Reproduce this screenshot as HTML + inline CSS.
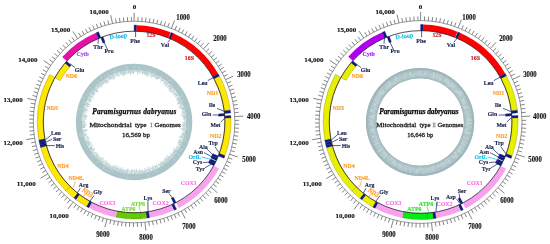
<!DOCTYPE html>
<html><head><meta charset="utf-8"><title>Mitochondrial genome maps</title>
<style>
html,body{margin:0;padding:0;background:#fff;width:550px;height:244px;overflow:hidden}
svg{display:block}
text{font-family:'Liberation Serif','Times New Roman',serif}
</style></head><body>
<svg width="550" height="244" viewBox="0 0 550 244">
<rect width="550" height="244" fill="#ffffff"/>
<path d="M75.90,122.0a58.2,58.2 0 1 0 116.40,0a58.2,58.2 0 1 0 -116.40,0ZM82.10,122.0a52.0,52.0 0 1 1 104.00,0a52.0,52.0 0 1 1 -104.00,0Z" fill="#aac4c8"/>
<path d="M134.10,69.95A52.05,52.05 0 0 1 134.57,69.95L134.54,72.73A49.27,49.27 0 0 0 134.10,72.73ZM134.73,69.95A52.05,52.05 0 0 1 135.19,69.96L135.15,71.89A50.12,50.12 0 0 0 134.71,71.89ZM135.36,69.97A52.05,52.05 0 0 1 135.82,69.98L135.78,71.25A50.78,50.78 0 0 0 135.33,71.24ZM135.99,69.98A52.05,52.05 0 0 1 136.45,70.00L136.38,71.56A50.49,50.49 0 0 0 135.93,71.55ZM136.61,70.01A52.05,52.05 0 0 1 137.08,70.04L136.98,71.82A50.26,50.26 0 0 0 136.53,71.80ZM137.24,70.04A52.05,52.05 0 0 1 137.71,70.08L137.41,74.32A47.80,47.80 0 0 0 136.99,74.29ZM137.87,70.09A52.05,52.05 0 0 1 138.33,70.12L137.96,74.69A47.46,47.46 0 0 0 137.54,74.66ZM138.50,70.14A52.05,52.05 0 0 1 138.96,70.18L138.75,72.40A49.81,49.81 0 0 0 138.31,72.36ZM139.12,70.19A52.05,52.05 0 0 1 139.59,70.24L139.35,72.46A49.82,49.82 0 0 0 138.91,72.41ZM139.75,70.26A52.05,52.05 0 0 1 140.21,70.31L139.82,73.65A48.69,48.69 0 0 0 139.38,73.60ZM140.37,70.33A52.05,52.05 0 0 1 140.84,70.39L140.39,73.80A48.61,48.61 0 0 0 139.96,73.74ZM141.62,70.50A52.05,52.05 0 0 1 142.08,70.57L141.65,73.35A49.24,49.24 0 0 0 141.21,73.28ZM142.24,70.59A52.05,52.05 0 0 1 142.70,70.67L142.22,73.52A49.16,49.16 0 0 0 141.79,73.45ZM142.86,70.69A52.05,52.05 0 0 1 143.32,70.77L142.67,74.38A48.39,48.39 0 0 0 142.25,74.30ZM143.48,70.80A52.05,52.05 0 0 1 143.94,70.89L143.36,73.90A48.99,48.99 0 0 0 142.93,73.82ZM144.10,70.92A52.05,52.05 0 0 1 144.56,71.01L144.00,73.72A49.28,49.28 0 0 0 143.57,73.64ZM144.72,71.04A52.05,52.05 0 0 1 145.17,71.14L144.44,74.51A48.60,48.60 0 0 0 144.01,74.42ZM145.33,71.18A52.05,52.05 0 0 1 145.79,71.28L144.93,74.97A48.26,48.26 0 0 0 144.51,74.88ZM145.94,71.32A52.05,52.05 0 0 1 146.40,71.42L145.37,75.66A47.69,47.69 0 0 0 144.95,75.57ZM146.56,71.46A52.05,52.05 0 0 1 147.01,71.58L146.25,74.54A48.99,48.99 0 0 0 145.82,74.43ZM147.17,71.62A52.05,52.05 0 0 1 147.62,71.74L146.59,75.54A48.11,48.11 0 0 0 146.18,75.43ZM147.77,71.78A52.05,52.05 0 0 1 148.22,71.90L146.82,76.88A46.87,46.87 0 0 0 146.41,76.77ZM148.38,71.95A52.05,52.05 0 0 1 148.83,72.08L148.08,74.59A49.43,49.43 0 0 0 147.66,74.47ZM148.98,72.12A52.05,52.05 0 0 1 149.43,72.26L147.82,77.47A46.59,46.59 0 0 0 147.42,77.35ZM149.59,72.31A52.05,52.05 0 0 1 150.03,72.45L148.93,75.86A48.46,48.46 0 0 0 148.52,75.73ZM150.78,72.70A52.05,52.05 0 0 1 151.22,72.85L150.25,75.62A49.11,49.11 0 0 0 149.84,75.48ZM151.38,72.90A52.05,52.05 0 0 1 151.81,73.06L150.91,75.54A49.40,49.40 0 0 0 150.50,75.40ZM151.97,73.11A52.05,52.05 0 0 1 152.40,73.27L150.77,77.63A47.39,47.39 0 0 0 150.37,77.49ZM152.56,73.33A52.05,52.05 0 0 1 152.99,73.50L151.78,76.62A48.70,48.70 0 0 0 151.37,76.46ZM153.14,73.56A52.05,52.05 0 0 1 153.58,73.73L151.81,78.12A47.32,47.32 0 0 0 151.41,77.96ZM153.73,73.79A52.05,52.05 0 0 1 154.16,73.97L153.00,76.74A49.05,49.05 0 0 0 152.60,76.57ZM154.31,74.03A52.05,52.05 0 0 1 154.74,74.22L153.62,76.79A49.24,49.24 0 0 0 153.22,76.62ZM154.89,74.28A52.05,52.05 0 0 1 155.31,74.47L154.18,77.00A49.28,49.28 0 0 0 153.78,76.82ZM155.46,74.54A52.05,52.05 0 0 1 155.89,74.73L154.69,77.32A49.20,49.20 0 0 0 154.29,77.14ZM156.03,74.80A52.05,52.05 0 0 1 156.46,75.00L155.23,77.56A49.20,49.20 0 0 0 154.83,77.38ZM156.60,75.07A52.05,52.05 0 0 1 157.02,75.27L155.29,78.80A48.11,48.11 0 0 0 154.90,78.62ZM157.17,75.34A52.05,52.05 0 0 1 157.58,75.55L155.80,79.08A48.09,48.09 0 0 0 155.42,78.89ZM157.73,75.62A52.05,52.05 0 0 1 158.14,75.84L156.26,79.46A47.96,47.96 0 0 0 155.87,79.27ZM158.29,75.91A52.05,52.05 0 0 1 158.70,76.13L157.20,78.93A48.87,48.87 0 0 0 156.81,78.73ZM158.84,76.21A52.05,52.05 0 0 1 159.25,76.43L157.38,79.82A48.18,48.18 0 0 0 157.00,79.61ZM159.40,76.51A52.05,52.05 0 0 1 159.80,76.74L158.58,78.89A49.58,49.58 0 0 0 158.19,78.67ZM159.94,76.82A52.05,52.05 0 0 1 160.35,77.05L159.30,78.85A49.97,49.97 0 0 0 158.91,78.62ZM160.49,77.13A52.05,52.05 0 0 1 160.89,77.37L159.88,79.04A50.10,50.10 0 0 0 159.50,78.82ZM161.56,77.79A52.05,52.05 0 0 1 161.96,78.03L160.65,80.10A49.60,49.60 0 0 0 160.27,79.86ZM162.10,78.12A52.05,52.05 0 0 1 162.49,78.37L160.94,80.76A49.21,49.21 0 0 0 160.57,80.52ZM162.62,78.46A52.05,52.05 0 0 1 163.01,78.72L160.35,82.70A47.26,47.26 0 0 0 160.00,82.47ZM163.15,78.81A52.05,52.05 0 0 1 163.53,79.07L162.29,80.88A49.86,49.86 0 0 0 161.93,80.63ZM163.67,79.16A52.05,52.05 0 0 1 164.05,79.43L162.68,81.38A49.66,49.66 0 0 0 162.31,81.13ZM164.18,79.52A52.05,52.05 0 0 1 164.56,79.79L163.23,81.65A49.77,49.77 0 0 0 162.86,81.39ZM164.69,79.89A52.05,52.05 0 0 1 165.07,80.17L163.41,82.41A49.26,49.26 0 0 0 163.06,82.14ZM165.70,80.64A52.05,52.05 0 0 1 166.07,80.93L163.06,84.79A47.15,47.15 0 0 0 162.73,84.53ZM166.20,81.03A52.05,52.05 0 0 1 166.57,81.32L164.44,83.98A48.64,48.64 0 0 0 164.10,83.71ZM166.69,81.42A52.05,52.05 0 0 1 167.05,81.71L164.75,84.53A48.40,48.40 0 0 0 164.41,84.26ZM167.18,81.81A52.05,52.05 0 0 1 167.54,82.11L165.61,84.42A49.04,49.04 0 0 0 165.27,84.14ZM167.66,82.22A52.05,52.05 0 0 1 168.02,82.52L164.71,86.37A46.98,46.98 0 0 0 164.39,86.09ZM168.14,82.63A52.05,52.05 0 0 1 168.49,82.93L165.32,86.53A47.26,47.26 0 0 0 165.01,86.25ZM168.62,83.04A52.05,52.05 0 0 1 168.96,83.35L166.70,85.85A48.68,48.68 0 0 0 166.38,85.56ZM169.55,83.89A52.05,52.05 0 0 1 169.89,84.20L167.16,87.09A48.08,48.08 0 0 0 166.84,86.79ZM170.00,84.32A52.05,52.05 0 0 1 170.34,84.64L166.74,88.35A46.87,46.87 0 0 0 166.43,88.06ZM170.46,84.75A52.05,52.05 0 0 1 170.79,85.08L168.26,87.62A48.47,48.47 0 0 0 167.96,87.32ZM170.90,85.20A52.05,52.05 0 0 1 171.23,85.53L169.13,87.59A49.10,49.10 0 0 0 168.82,87.28ZM171.35,85.64A52.05,52.05 0 0 1 171.67,85.98L168.15,89.35A47.17,47.17 0 0 0 167.86,89.05ZM171.78,86.10A52.05,52.05 0 0 1 172.10,86.43L169.02,89.32A47.82,47.82 0 0 0 168.72,89.01ZM172.21,86.55A52.05,52.05 0 0 1 172.53,86.90L169.28,89.87A47.65,47.65 0 0 0 168.99,89.55ZM172.64,87.02A52.05,52.05 0 0 1 172.95,87.36L169.30,90.62A47.15,47.15 0 0 0 169.01,90.31ZM173.06,87.48A52.05,52.05 0 0 1 173.37,87.83L169.65,91.07A47.12,47.12 0 0 0 169.37,90.75ZM173.47,87.96A52.05,52.05 0 0 1 173.78,88.31L169.64,91.83A46.62,46.62 0 0 0 169.36,91.51ZM173.88,88.44A52.05,52.05 0 0 1 174.18,88.79L170.15,92.13A46.81,46.81 0 0 0 169.88,91.81ZM174.29,88.92A52.05,52.05 0 0 1 174.58,89.28L172.31,91.11A49.14,49.14 0 0 0 172.04,90.77ZM174.68,89.41A52.05,52.05 0 0 1 174.97,89.77L171.38,92.61A47.47,47.47 0 0 0 171.11,92.27ZM175.07,89.90A52.05,52.05 0 0 1 175.36,90.27L171.37,93.33A47.02,47.02 0 0 0 171.12,93.00ZM175.46,90.40A52.05,52.05 0 0 1 175.74,90.77L172.81,92.96A48.39,48.39 0 0 0 172.55,92.62ZM176.21,91.41A52.05,52.05 0 0 1 176.48,91.78L173.44,93.95A48.32,48.32 0 0 0 173.19,93.60ZM176.58,91.92A52.05,52.05 0 0 1 176.84,92.30L172.61,95.24A46.90,46.90 0 0 0 172.37,94.89ZM176.94,92.43A52.05,52.05 0 0 1 177.20,92.82L174.40,94.71A48.66,48.66 0 0 0 174.15,94.36ZM177.29,92.95A52.05,52.05 0 0 1 177.55,93.34L174.13,95.59A47.95,47.95 0 0 0 173.89,95.24ZM177.64,93.48A52.05,52.05 0 0 1 177.89,93.87L175.58,95.35A49.31,49.31 0 0 0 175.34,94.98ZM177.98,94.00A52.05,52.05 0 0 1 178.23,94.40L175.04,96.39A48.29,48.29 0 0 0 174.81,96.03ZM178.31,94.54A52.05,52.05 0 0 1 178.56,94.93L175.44,96.83A48.40,48.40 0 0 0 175.21,96.46ZM178.64,95.07A52.05,52.05 0 0 1 178.88,95.47L175.29,97.60A47.88,47.88 0 0 0 175.07,97.23ZM179.28,96.16A52.05,52.05 0 0 1 179.51,96.56L177.05,97.94A49.23,49.23 0 0 0 176.83,97.56ZM179.59,96.70A52.05,52.05 0 0 1 179.81,97.11L176.36,98.99A48.12,48.12 0 0 0 176.15,98.61ZM179.89,97.26A52.05,52.05 0 0 1 180.11,97.67L176.94,99.34A48.46,48.46 0 0 0 176.74,98.96ZM180.19,97.81A52.05,52.05 0 0 1 180.40,98.22L176.03,100.47A47.13,47.13 0 0 0 175.84,100.10ZM180.48,98.37A52.05,52.05 0 0 1 180.69,98.79L177.99,100.13A49.04,49.04 0 0 0 177.79,99.74ZM180.76,98.93A52.05,52.05 0 0 1 180.96,99.35L177.77,100.89A48.50,48.50 0 0 0 177.58,100.51ZM181.03,99.50A52.05,52.05 0 0 1 181.23,99.92L176.72,102.03A47.07,47.07 0 0 0 176.54,101.65ZM181.30,100.07A52.05,52.05 0 0 1 181.50,100.49L178.25,101.96A48.48,48.48 0 0 0 178.07,101.57ZM181.56,100.64A52.05,52.05 0 0 1 181.75,101.06L178.61,102.44A48.62,48.62 0 0 0 178.43,102.05ZM181.82,101.21A52.05,52.05 0 0 1 182.00,101.64L177.30,103.64A46.94,46.94 0 0 0 177.13,103.25ZM182.07,101.79A52.05,52.05 0 0 1 182.25,102.22L177.40,104.21A46.81,46.81 0 0 0 177.24,103.82ZM182.31,102.37A52.05,52.05 0 0 1 182.48,102.80L177.76,104.68A46.98,46.98 0 0 0 177.61,104.29ZM182.54,102.96A52.05,52.05 0 0 1 182.71,103.39L180.04,104.41A49.19,49.19 0 0 0 179.88,104.00ZM182.77,103.54A52.05,52.05 0 0 1 182.93,103.98L180.09,105.03A49.03,49.03 0 0 0 179.94,104.62ZM182.99,104.13A52.05,52.05 0 0 1 183.14,104.57L179.04,106.03A47.69,47.69 0 0 0 178.89,105.63ZM183.20,104.72A52.05,52.05 0 0 1 183.35,105.16L179.19,106.59A47.65,47.65 0 0 0 179.05,106.18ZM183.40,105.32A52.05,52.05 0 0 1 183.55,105.76L178.73,107.34A46.98,46.98 0 0 0 178.60,106.94ZM183.60,105.92A52.05,52.05 0 0 1 183.74,106.36L178.42,108.04A46.47,46.47 0 0 0 178.29,107.64ZM183.79,106.51A52.05,52.05 0 0 1 183.93,106.96L178.59,108.57A46.47,46.47 0 0 0 178.46,108.18ZM183.98,107.12A52.05,52.05 0 0 1 184.11,107.56L180.43,108.63A48.22,48.22 0 0 0 180.31,108.21ZM184.15,107.72A52.05,52.05 0 0 1 184.28,108.17L181.21,109.01A48.87,48.87 0 0 0 181.10,108.59ZM184.32,108.33A52.05,52.05 0 0 1 184.44,108.78L181.80,109.47A49.32,49.32 0 0 0 181.69,109.04ZM184.48,108.93A52.05,52.05 0 0 1 184.60,109.38L181.95,110.05A49.32,49.32 0 0 0 181.85,109.62ZM184.64,109.54A52.05,52.05 0 0 1 184.75,110.00L181.17,110.84A48.37,48.37 0 0 0 181.07,110.42ZM184.78,110.16A52.05,52.05 0 0 1 184.89,110.61L180.67,111.55A47.73,47.73 0 0 0 180.58,111.14ZM184.92,110.77A52.05,52.05 0 0 1 185.02,111.22L182.01,111.86A48.97,48.97 0 0 0 181.92,111.43ZM185.06,111.38A52.05,52.05 0 0 1 185.15,111.84L182.40,112.39A49.25,49.25 0 0 0 182.32,111.95ZM185.18,112.00A52.05,52.05 0 0 1 185.27,112.46L180.72,113.31A47.42,47.42 0 0 0 180.64,112.89ZM185.30,112.62A52.05,52.05 0 0 1 185.38,113.08L182.79,113.53A49.42,49.42 0 0 0 182.71,113.09ZM185.41,113.24A52.05,52.05 0 0 1 185.48,113.70L181.13,114.40A47.64,47.64 0 0 0 181.06,113.98ZM185.60,114.48A52.05,52.05 0 0 1 185.67,114.94L183.05,115.30A49.41,49.41 0 0 0 182.99,114.86ZM185.69,115.10A52.05,52.05 0 0 1 185.75,115.56L180.91,116.17A47.17,47.17 0 0 0 180.85,115.75ZM185.77,115.73A52.05,52.05 0 0 1 185.82,116.19L183.26,116.48A49.46,49.46 0 0 0 183.20,116.04ZM185.84,116.35A52.05,52.05 0 0 1 185.89,116.81L182.55,117.15A48.69,48.69 0 0 0 182.50,116.72ZM185.91,116.98A52.05,52.05 0 0 1 185.95,117.44L182.78,117.72A48.87,48.87 0 0 0 182.74,117.28ZM185.96,117.60A52.05,52.05 0 0 1 186.00,118.07L183.16,118.28A49.20,49.20 0 0 0 183.12,117.84ZM186.01,118.23A52.05,52.05 0 0 1 186.04,118.69L183.75,118.84A49.75,49.75 0 0 0 183.72,118.40ZM186.06,118.86A52.05,52.05 0 0 1 186.08,119.32L183.42,119.46A49.38,49.38 0 0 0 183.39,119.02ZM186.09,119.49A52.05,52.05 0 0 1 186.11,119.95L182.68,120.09A48.61,48.61 0 0 0 182.66,119.65ZM186.12,120.11A52.05,52.05 0 0 1 186.13,120.58L183.90,120.64A49.82,49.82 0 0 0 183.89,120.19ZM186.15,121.37A52.05,52.05 0 0 1 186.15,121.84L183.52,121.84A49.42,49.42 0 0 0 183.52,121.40ZM186.15,122.00A52.05,52.05 0 0 1 186.15,122.47L183.65,122.44A49.55,49.55 0 0 0 183.65,122.00ZM186.15,122.63A52.05,52.05 0 0 1 186.14,123.09L182.49,123.02A48.40,48.40 0 0 0 182.49,122.58ZM186.13,123.26A52.05,52.05 0 0 1 186.12,123.72L182.25,123.59A48.17,48.17 0 0 0 182.26,123.16ZM186.12,123.89A52.05,52.05 0 0 1 186.10,124.35L182.62,124.19A48.57,48.57 0 0 0 182.63,123.76ZM186.09,124.51A52.05,52.05 0 0 1 186.06,124.98L181.59,124.72A47.57,47.57 0 0 0 181.61,124.30ZM186.06,125.14A52.05,52.05 0 0 1 186.02,125.61L183.13,125.41A49.15,49.15 0 0 0 183.16,124.97ZM186.01,125.77A52.05,52.05 0 0 1 185.98,126.23L181.58,125.88A47.64,47.64 0 0 0 181.62,125.45ZM185.96,126.40A52.05,52.05 0 0 1 185.92,126.86L183.43,126.63A49.54,49.54 0 0 0 183.47,126.19ZM185.91,127.02A52.05,52.05 0 0 1 185.86,127.49L181.63,127.04A47.80,47.80 0 0 0 181.68,126.61ZM185.84,127.65A52.05,52.05 0 0 1 185.79,128.11L182.81,127.76A49.05,49.05 0 0 0 182.86,127.32ZM185.77,128.27A52.05,52.05 0 0 1 185.71,128.74L182.35,128.30A48.66,48.66 0 0 0 182.41,127.87ZM185.69,128.90A52.05,52.05 0 0 1 185.63,129.36L180.63,128.65A47.00,47.00 0 0 0 180.69,128.23ZM185.60,129.52A52.05,52.05 0 0 1 185.53,129.98L180.51,129.20A46.96,46.96 0 0 0 180.57,128.79ZM185.51,130.14A52.05,52.05 0 0 1 185.43,130.60L183.13,130.22A49.72,49.72 0 0 0 183.20,129.78ZM185.41,130.76A52.05,52.05 0 0 1 185.33,131.22L182.00,130.62A48.67,48.67 0 0 0 182.08,130.19ZM185.30,131.38A52.05,52.05 0 0 1 185.21,131.84L183.07,131.43A49.87,49.87 0 0 0 183.16,130.99ZM185.18,132.00A52.05,52.05 0 0 1 185.09,132.46L182.26,131.88A49.17,49.17 0 0 0 182.35,131.45ZM184.92,133.23A52.05,52.05 0 0 1 184.82,133.69L181.65,132.96A48.80,48.80 0 0 0 181.75,132.53ZM184.78,133.84A52.05,52.05 0 0 1 184.68,134.30L181.15,133.44A48.42,48.42 0 0 0 181.25,133.02ZM184.64,134.46A52.05,52.05 0 0 1 184.52,134.91L181.57,134.15A49.01,49.01 0 0 0 181.68,133.73ZM184.48,135.07A52.05,52.05 0 0 1 184.36,135.52L182.01,134.88A49.61,49.61 0 0 0 182.12,134.45ZM184.32,135.67A52.05,52.05 0 0 1 184.20,136.12L181.82,135.45A49.58,49.58 0 0 0 181.93,135.02ZM184.15,136.28A52.05,52.05 0 0 1 184.02,136.73L180.07,135.56A47.93,47.93 0 0 0 180.19,135.15ZM183.98,136.88A52.05,52.05 0 0 1 183.84,137.33L181.02,136.46A49.09,49.09 0 0 0 181.14,136.04ZM183.79,137.49A52.05,52.05 0 0 1 183.65,137.93L178.97,136.42A47.13,47.13 0 0 0 179.09,136.02ZM183.60,138.08A52.05,52.05 0 0 1 183.46,138.53L179.46,137.19A47.84,47.84 0 0 0 179.60,136.78ZM183.40,138.68A52.05,52.05 0 0 1 183.25,139.12L178.78,137.56A47.31,47.31 0 0 0 178.92,137.16ZM182.99,139.87A52.05,52.05 0 0 1 182.83,140.30L180.35,139.37A49.40,49.40 0 0 0 180.50,138.96ZM182.77,140.46A52.05,52.05 0 0 1 182.60,140.89L178.70,139.37A47.86,47.86 0 0 0 178.85,138.97ZM182.54,141.04A52.05,52.05 0 0 1 182.37,141.48L178.84,140.05A48.25,48.25 0 0 0 179.00,139.65ZM182.31,141.63A52.05,52.05 0 0 1 182.13,142.06L178.17,140.40A47.76,47.76 0 0 0 178.33,140.01ZM182.07,142.21A52.05,52.05 0 0 1 181.88,142.64L178.20,141.04A48.03,48.03 0 0 0 178.36,140.65ZM181.82,142.79A52.05,52.05 0 0 1 181.63,143.21L179.24,142.14A49.43,49.43 0 0 0 179.42,141.74ZM181.56,143.36A52.05,52.05 0 0 1 181.37,143.79L177.90,142.18A48.22,48.22 0 0 0 178.08,141.79ZM181.30,143.93A52.05,52.05 0 0 1 181.10,144.36L176.90,142.35A47.39,47.39 0 0 0 177.08,141.97ZM181.03,144.50A52.05,52.05 0 0 1 180.83,144.92L178.08,143.57A48.98,48.98 0 0 0 178.27,143.18ZM180.76,145.07A52.05,52.05 0 0 1 180.55,145.48L177.25,143.82A48.35,48.35 0 0 0 177.44,143.43ZM180.48,145.63A52.05,52.05 0 0 1 180.26,146.04L177.95,144.84A49.44,49.44 0 0 0 178.15,144.45ZM180.19,146.19A52.05,52.05 0 0 1 179.97,146.60L177.48,145.26A49.23,49.23 0 0 0 177.69,144.88ZM179.59,147.30A52.05,52.05 0 0 1 179.36,147.70L176.09,145.84A48.29,48.29 0 0 0 176.30,145.47ZM179.28,147.84A52.05,52.05 0 0 1 179.05,148.25L176.59,146.81A49.20,49.20 0 0 0 176.81,146.43ZM178.97,148.39A52.05,52.05 0 0 1 178.73,148.79L175.84,147.06A48.69,48.69 0 0 0 176.07,146.68ZM178.64,148.93A52.05,52.05 0 0 1 178.40,149.32L176.28,148.02A49.56,49.56 0 0 0 176.51,147.64ZM178.31,149.46A52.05,52.05 0 0 1 178.07,149.86L175.90,148.48A49.48,49.48 0 0 0 176.13,148.11ZM177.98,150.00A52.05,52.05 0 0 1 177.73,150.39L173.36,147.55A46.84,46.84 0 0 0 173.59,147.20ZM177.64,150.52A52.05,52.05 0 0 1 177.38,150.91L175.04,149.35A49.23,49.23 0 0 0 175.28,148.98ZM177.29,151.05A52.05,52.05 0 0 1 177.03,151.43L173.65,149.12A47.96,47.96 0 0 0 173.89,148.76ZM176.94,151.57A52.05,52.05 0 0 1 176.67,151.95L172.47,148.99A46.91,46.91 0 0 0 172.71,148.65ZM176.58,152.08A52.05,52.05 0 0 1 176.31,152.46L173.55,150.48A48.66,48.66 0 0 0 173.81,150.12ZM176.21,152.59A52.05,52.05 0 0 1 175.93,152.97L173.57,151.22A49.10,49.10 0 0 0 173.82,150.86ZM175.84,153.10A52.05,52.05 0 0 1 175.56,153.47L173.30,151.76A49.22,49.22 0 0 0 173.56,151.41ZM175.46,153.60A52.05,52.05 0 0 1 175.17,153.97L172.50,151.89A48.67,48.67 0 0 0 172.77,151.55ZM175.07,154.10A52.05,52.05 0 0 1 174.78,154.47L172.44,152.60A49.06,49.06 0 0 0 172.72,152.25ZM174.68,154.59A52.05,52.05 0 0 1 174.39,154.95L172.62,153.50A49.76,49.76 0 0 0 172.90,153.16ZM174.29,155.08A52.05,52.05 0 0 1 173.99,155.44L171.97,153.74A49.41,49.41 0 0 0 172.25,153.40ZM173.88,155.56A52.05,52.05 0 0 1 173.58,155.92L169.65,152.54A46.87,46.87 0 0 0 169.92,152.22ZM173.47,156.04A52.05,52.05 0 0 1 173.17,156.39L170.65,154.18A48.70,48.70 0 0 0 170.94,153.85ZM173.06,156.52A52.05,52.05 0 0 1 172.75,156.86L170.11,154.48A48.50,48.50 0 0 0 170.40,154.16ZM172.64,156.98A52.05,52.05 0 0 1 172.33,157.33L170.26,155.42A49.24,49.24 0 0 0 170.56,155.09ZM172.21,157.45A52.05,52.05 0 0 1 171.90,157.79L169.74,155.74A49.08,49.08 0 0 0 170.04,155.42ZM171.78,157.90A52.05,52.05 0 0 1 171.46,158.24L169.16,156.01A48.85,48.85 0 0 0 169.47,155.70ZM171.35,158.36A52.05,52.05 0 0 1 171.02,158.69L168.59,156.27A48.62,48.62 0 0 0 168.89,155.96ZM170.90,158.80A52.05,52.05 0 0 1 170.57,159.13L167.03,155.52A46.99,46.99 0 0 0 167.33,155.23ZM170.46,159.25A52.05,52.05 0 0 1 170.12,159.57L166.29,155.58A46.52,46.52 0 0 0 166.59,155.29ZM170.00,159.68A52.05,52.05 0 0 1 169.67,160.00L167.65,157.85A49.10,49.10 0 0 0 167.97,157.55ZM169.55,160.11A52.05,52.05 0 0 1 169.20,160.43L165.93,156.84A47.19,47.19 0 0 0 166.24,156.56ZM169.08,160.54A52.05,52.05 0 0 1 168.74,160.85L166.73,158.60A49.03,49.03 0 0 0 167.05,158.31ZM168.62,160.96A52.05,52.05 0 0 1 168.27,161.27L165.56,158.15A47.92,47.92 0 0 0 165.88,157.87ZM168.14,161.37A52.05,52.05 0 0 1 167.79,161.68L164.70,158.04A47.28,47.28 0 0 0 165.02,157.77ZM167.66,161.78A52.05,52.05 0 0 1 167.31,162.08L164.31,158.47A47.35,47.35 0 0 0 164.64,158.19ZM167.18,162.19A52.05,52.05 0 0 1 166.82,162.48L164.52,159.63A48.38,48.38 0 0 0 164.85,159.35ZM166.69,162.58A52.05,52.05 0 0 1 166.33,162.87L164.51,160.56A49.10,49.10 0 0 0 164.85,160.29ZM166.20,162.97A52.05,52.05 0 0 1 165.83,163.26L163.88,160.72A48.85,48.85 0 0 0 164.23,160.46ZM165.70,163.36A52.05,52.05 0 0 1 165.33,163.64L162.96,160.47A48.09,48.09 0 0 0 163.30,160.21ZM165.20,163.74A52.05,52.05 0 0 1 164.83,164.01L163.16,161.73A49.22,49.22 0 0 0 163.51,161.47ZM164.69,164.11A52.05,52.05 0 0 1 164.32,164.38L162.59,161.96A49.07,49.07 0 0 0 162.95,161.70ZM164.18,164.48A52.05,52.05 0 0 1 163.80,164.74L161.06,160.79A47.24,47.24 0 0 0 161.40,160.55ZM163.67,164.84A52.05,52.05 0 0 1 163.28,165.10L161.36,162.26A48.62,48.62 0 0 0 161.72,162.01ZM163.15,165.19A52.05,52.05 0 0 1 162.76,165.45L160.98,162.75A48.82,48.82 0 0 0 161.35,162.51ZM162.62,165.54A52.05,52.05 0 0 1 162.23,165.79L159.52,161.57A47.04,47.04 0 0 0 159.88,161.34ZM162.10,165.88A52.05,52.05 0 0 1 161.70,166.13L159.78,163.06A48.43,48.43 0 0 0 160.15,162.83ZM161.56,166.21A52.05,52.05 0 0 1 161.17,166.46L159.66,163.98A49.15,49.15 0 0 0 160.03,163.75ZM161.03,166.54A52.05,52.05 0 0 1 160.63,166.78L158.98,164.01A48.82,48.82 0 0 0 159.36,163.78ZM160.49,166.87A52.05,52.05 0 0 1 160.09,167.10L157.61,162.81A47.10,47.10 0 0 0 157.98,162.59ZM159.40,167.49A52.05,52.05 0 0 1 158.99,167.71L157.32,164.65A48.56,48.56 0 0 0 157.70,164.44ZM158.29,168.09A52.05,52.05 0 0 1 157.88,168.30L155.76,164.18A47.41,47.41 0 0 0 156.13,163.98ZM157.73,168.38A52.05,52.05 0 0 1 157.31,168.59L155.92,165.79A48.93,48.93 0 0 0 156.31,165.60ZM157.17,168.66A52.05,52.05 0 0 1 156.75,168.86L155.19,165.64A48.47,48.47 0 0 0 155.58,165.45ZM156.60,168.93A52.05,52.05 0 0 1 156.18,169.13L154.33,165.19A47.70,47.70 0 0 0 154.72,165.01ZM156.03,169.20A52.05,52.05 0 0 1 155.61,169.40L154.12,166.12A48.45,48.45 0 0 0 154.52,165.94ZM154.89,169.72A52.05,52.05 0 0 1 154.46,169.90L152.38,165.02A46.74,46.74 0 0 0 152.77,164.85ZM154.31,169.97A52.05,52.05 0 0 1 153.88,170.15L152.74,167.36A49.04,49.04 0 0 0 153.14,167.19ZM153.73,170.21A52.05,52.05 0 0 1 153.30,170.38L151.70,166.35A47.71,47.71 0 0 0 152.09,166.19ZM153.14,170.44A52.05,52.05 0 0 1 152.71,170.61L151.45,167.32A48.53,48.53 0 0 0 151.85,167.16ZM152.56,170.67A52.05,52.05 0 0 1 152.12,170.83L151.15,168.19A49.23,49.23 0 0 0 151.56,168.03ZM151.38,171.10A52.05,52.05 0 0 1 150.94,171.25L149.30,166.45A46.98,46.98 0 0 0 149.69,166.32ZM150.78,171.30A52.05,52.05 0 0 1 150.34,171.45L149.24,168.10A48.52,48.52 0 0 0 149.65,167.96ZM150.18,171.50A52.05,52.05 0 0 1 149.74,171.64L148.23,166.85A47.02,47.02 0 0 0 148.63,166.72ZM149.59,171.69A52.05,52.05 0 0 1 149.14,171.83L148.40,169.39A49.50,49.50 0 0 0 148.83,169.26ZM148.98,171.88A52.05,52.05 0 0 1 148.54,172.01L147.60,168.77A48.68,48.68 0 0 0 148.02,168.65ZM148.38,172.05A52.05,52.05 0 0 1 147.93,172.18L146.63,167.45A47.14,47.14 0 0 0 147.03,167.33ZM147.17,172.38A52.05,52.05 0 0 1 146.72,172.50L145.78,168.75A48.19,48.19 0 0 0 146.20,168.64ZM146.56,172.54A52.05,52.05 0 0 1 146.10,172.65L145.19,168.81A48.11,48.11 0 0 0 145.61,168.71ZM145.94,172.68A52.05,52.05 0 0 1 145.49,172.79L144.42,168.02A47.17,47.17 0 0 0 144.83,167.93ZM145.33,172.82A52.05,52.05 0 0 1 144.88,172.92L144.36,170.46A49.53,49.53 0 0 0 144.79,170.37ZM144.72,172.96A52.05,52.05 0 0 1 144.26,173.05L143.76,170.52A49.48,49.48 0 0 0 144.19,170.44ZM144.10,173.08A52.05,52.05 0 0 1 143.64,173.17L143.15,170.51A49.35,49.35 0 0 0 143.58,170.43ZM143.48,173.20A52.05,52.05 0 0 1 143.02,173.28L142.36,169.46A48.17,48.17 0 0 0 142.78,169.39ZM142.86,173.31A52.05,52.05 0 0 1 142.40,173.38L141.87,170.05A48.68,48.68 0 0 0 142.30,169.98ZM142.24,173.41A52.05,52.05 0 0 1 141.78,173.48L141.40,170.90A49.44,49.44 0 0 0 141.83,170.83ZM141.62,173.50A52.05,52.05 0 0 1 141.16,173.57L140.76,170.65A49.11,49.11 0 0 0 141.20,170.59ZM141.00,173.59A52.05,52.05 0 0 1 140.54,173.65L140.00,169.38A47.74,47.74 0 0 0 140.43,169.32ZM140.37,173.67A52.05,52.05 0 0 1 139.91,173.72L139.53,170.35A48.65,48.65 0 0 0 139.96,170.30ZM139.75,173.74A52.05,52.05 0 0 1 139.29,173.79L138.85,169.39A47.63,47.63 0 0 0 139.27,169.34ZM139.12,173.81A52.05,52.05 0 0 1 138.66,173.85L138.40,170.86A49.05,49.05 0 0 0 138.83,170.82ZM138.50,173.86A52.05,52.05 0 0 1 138.03,173.90L137.84,171.42A49.56,49.56 0 0 0 138.29,171.38ZM137.87,173.91A52.05,52.05 0 0 1 137.41,173.94L137.24,171.28A49.38,49.38 0 0 0 137.68,171.25ZM137.24,173.96A52.05,52.05 0 0 1 136.78,173.98L136.52,168.93A46.99,46.99 0 0 0 136.94,168.90ZM136.61,173.99A52.05,52.05 0 0 1 136.15,174.01L135.98,169.63A47.67,47.67 0 0 0 136.40,169.61ZM135.99,174.02A52.05,52.05 0 0 1 135.52,174.03L135.45,171.48A49.50,49.50 0 0 0 135.89,171.47ZM135.36,174.03A52.05,52.05 0 0 1 134.89,174.04L134.82,169.06A47.06,47.06 0 0 0 135.24,169.05ZM134.73,174.05A52.05,52.05 0 0 1 134.26,174.05L134.25,169.32A47.32,47.32 0 0 0 134.67,169.32ZM134.10,174.05A52.05,52.05 0 0 1 133.63,174.05L133.67,169.87A47.87,47.87 0 0 0 134.10,169.87ZM132.84,174.03A52.05,52.05 0 0 1 132.38,174.02L132.53,169.43A47.45,47.45 0 0 0 132.95,169.44ZM132.21,174.02A52.05,52.05 0 0 1 131.75,174.00L131.95,169.54A47.59,47.59 0 0 0 132.38,169.56ZM131.59,173.99A52.05,52.05 0 0 1 131.12,173.96L131.39,169.29A47.36,47.36 0 0 0 131.81,169.31ZM130.96,173.96A52.05,52.05 0 0 1 130.49,173.92L130.77,169.96A48.07,48.07 0 0 0 131.20,169.99ZM130.33,173.91A52.05,52.05 0 0 1 129.87,173.88L130.04,171.71A49.87,49.87 0 0 0 130.49,171.74ZM129.70,173.86A52.05,52.05 0 0 1 129.24,173.82L129.60,169.96A48.17,48.17 0 0 0 130.03,169.99ZM128.45,173.74A52.05,52.05 0 0 1 127.99,173.69L128.59,168.58A46.91,46.91 0 0 0 129.01,168.63ZM127.83,173.67A52.05,52.05 0 0 1 127.36,173.61L127.78,170.44A48.86,48.86 0 0 0 128.21,170.50ZM127.20,173.59A52.05,52.05 0 0 1 126.74,173.53L127.48,168.36A46.83,46.83 0 0 0 127.89,168.41ZM126.58,173.50A52.05,52.05 0 0 1 126.12,173.43L126.78,169.17A47.74,47.74 0 0 0 127.20,169.24ZM125.96,173.41A52.05,52.05 0 0 1 125.50,173.33L126.17,169.31A47.97,47.97 0 0 0 126.60,169.38ZM125.34,173.31A52.05,52.05 0 0 1 124.88,173.23L125.45,170.05A48.82,48.82 0 0 0 125.88,170.12ZM124.72,173.20A52.05,52.05 0 0 1 124.26,173.11L124.83,170.15A49.04,49.04 0 0 0 125.26,170.23ZM124.10,173.08A52.05,52.05 0 0 1 123.64,172.99L124.23,170.15A49.15,49.15 0 0 0 124.66,170.23ZM123.48,172.96A52.05,52.05 0 0 1 123.03,172.86L123.68,169.84A48.96,48.96 0 0 0 124.11,169.93ZM122.87,172.82A52.05,52.05 0 0 1 122.41,172.72L123.66,167.31A46.50,46.50 0 0 0 124.07,167.40ZM122.26,172.68A52.05,52.05 0 0 1 121.80,172.58L122.44,169.94A49.33,49.33 0 0 0 122.87,170.04ZM121.64,172.54A52.05,52.05 0 0 1 121.19,172.42L122.06,169.03A48.55,48.55 0 0 0 122.48,169.14ZM121.03,172.38A52.05,52.05 0 0 1 120.58,172.26L121.59,168.53A48.19,48.19 0 0 0 122.00,168.64ZM120.43,172.22A52.05,52.05 0 0 1 119.98,172.10L121.27,167.50A47.27,47.27 0 0 0 121.68,167.61ZM119.82,172.05A52.05,52.05 0 0 1 119.37,171.92L120.75,167.27A47.20,47.20 0 0 0 121.15,167.39ZM119.22,171.88A52.05,52.05 0 0 1 118.77,171.74L119.72,168.67A48.84,48.84 0 0 0 120.14,168.80ZM118.61,171.69A52.05,52.05 0 0 1 118.17,171.55L119.11,168.64A48.99,48.99 0 0 0 119.52,168.77ZM118.02,171.50A52.05,52.05 0 0 1 117.57,171.36L119.11,166.76A47.21,47.21 0 0 0 119.51,166.90ZM117.42,171.30A52.05,52.05 0 0 1 116.98,171.15L118.07,168.03A48.74,48.74 0 0 0 118.48,168.17ZM116.82,171.10A52.05,52.05 0 0 1 116.39,170.94L117.48,167.93A48.85,48.85 0 0 0 117.89,168.08ZM116.23,170.89A52.05,52.05 0 0 1 115.80,170.73L117.81,165.36A46.32,46.32 0 0 0 118.20,165.50ZM115.64,170.67A52.05,52.05 0 0 1 115.21,170.50L116.94,166.06A47.29,47.29 0 0 0 117.33,166.21ZM115.06,170.44A52.05,52.05 0 0 1 114.62,170.27L115.69,167.61A49.19,49.19 0 0 0 116.10,167.78ZM114.47,170.21A52.05,52.05 0 0 1 114.04,170.03L115.17,167.33A49.13,49.13 0 0 0 115.57,167.50ZM113.89,169.97A52.05,52.05 0 0 1 113.46,169.78L115.62,164.79A46.61,46.61 0 0 0 116.01,164.95ZM113.31,169.72A52.05,52.05 0 0 1 112.89,169.53L114.39,166.17A48.37,48.37 0 0 0 114.78,166.35ZM112.74,169.46A52.05,52.05 0 0 1 112.31,169.27L114.48,164.58A46.88,46.88 0 0 0 114.86,164.75ZM112.17,169.20A52.05,52.05 0 0 1 111.74,169.00L113.36,165.60A48.28,48.28 0 0 0 113.75,165.78ZM111.60,168.93A52.05,52.05 0 0 1 111.18,168.73L112.23,166.59A49.66,49.66 0 0 0 112.63,166.78ZM111.03,168.66A52.05,52.05 0 0 1 110.62,168.45L112.18,165.36A48.58,48.58 0 0 0 112.57,165.55ZM110.47,168.38A52.05,52.05 0 0 1 110.06,168.16L111.11,166.14A49.76,49.76 0 0 0 111.51,166.34ZM109.91,168.09A52.05,52.05 0 0 1 109.50,167.87L110.68,165.67A49.55,49.55 0 0 0 111.07,165.88ZM109.36,167.79A52.05,52.05 0 0 1 108.95,167.57L110.98,163.88A47.84,47.84 0 0 0 111.36,164.08ZM108.80,167.49A52.05,52.05 0 0 1 108.40,167.26L109.58,165.18A49.65,49.65 0 0 0 109.97,165.39ZM108.26,167.18A52.05,52.05 0 0 1 107.85,166.95L109.76,163.69A48.28,48.28 0 0 0 110.13,163.91ZM107.71,166.87A52.05,52.05 0 0 1 107.31,166.63L109.25,163.40A48.28,48.28 0 0 0 109.62,163.62ZM107.17,166.54A52.05,52.05 0 0 1 106.78,166.30L108.17,164.04A49.39,49.39 0 0 0 108.55,164.27ZM106.64,166.21A52.05,52.05 0 0 1 106.24,165.97L108.25,162.80A48.31,48.31 0 0 0 108.61,163.03ZM106.10,165.88A52.05,52.05 0 0 1 105.71,165.63L108.27,161.70A47.36,47.36 0 0 0 108.63,161.92ZM105.58,165.54A52.05,52.05 0 0 1 105.19,165.28L106.87,162.77A49.03,49.03 0 0 0 107.23,163.01ZM105.05,165.19A52.05,52.05 0 0 1 104.67,164.93L106.27,162.59A49.21,49.21 0 0 0 106.64,162.84ZM104.53,164.84A52.05,52.05 0 0 1 104.15,164.57L107.11,160.37A46.91,46.91 0 0 0 107.45,160.61ZM104.02,164.48A52.05,52.05 0 0 1 103.64,164.21L105.87,161.11A48.23,48.23 0 0 0 106.22,161.36ZM103.00,163.74A52.05,52.05 0 0 1 102.63,163.46L105.70,159.41A46.97,46.97 0 0 0 106.03,159.67ZM102.50,163.36A52.05,52.05 0 0 1 102.13,163.07L104.01,160.66A48.99,48.99 0 0 0 104.36,160.93ZM102.00,162.97A52.05,52.05 0 0 1 101.63,162.68L103.43,160.43A49.17,49.17 0 0 0 103.78,160.70ZM101.51,162.58A52.05,52.05 0 0 1 101.15,162.29L102.77,160.30A49.48,49.48 0 0 0 103.12,160.58ZM101.02,162.19A52.05,52.05 0 0 1 100.66,161.89L103.96,157.96A46.92,46.92 0 0 0 104.28,158.22ZM100.54,161.78A52.05,52.05 0 0 1 100.18,161.48L103.36,157.78A47.17,47.17 0 0 0 103.68,158.06ZM100.06,161.37A52.05,52.05 0 0 1 99.71,161.07L101.48,159.06A49.37,49.37 0 0 0 101.81,159.35ZM99.58,160.96A52.05,52.05 0 0 1 99.24,160.65L102.79,156.71A46.75,46.75 0 0 0 103.10,156.99ZM99.12,160.54A52.05,52.05 0 0 1 98.77,160.23L100.87,157.95A48.95,48.95 0 0 0 101.20,158.25ZM98.65,160.11A52.05,52.05 0 0 1 98.31,159.80L100.91,157.06A48.28,48.28 0 0 0 101.22,157.35ZM98.20,159.68A52.05,52.05 0 0 1 97.86,159.36L100.20,156.95A48.68,48.68 0 0 0 100.52,157.25ZM97.74,159.25A52.05,52.05 0 0 1 97.41,158.92L100.19,156.13A48.11,48.11 0 0 0 100.49,156.43ZM97.30,158.80A52.05,52.05 0 0 1 96.97,158.47L99.18,156.30A48.95,48.95 0 0 0 99.48,156.62ZM96.85,158.36A52.05,52.05 0 0 1 96.53,158.02L98.58,156.06A49.21,49.21 0 0 0 98.88,156.38ZM96.42,157.90A52.05,52.05 0 0 1 96.10,157.57L98.16,155.64A49.23,49.23 0 0 0 98.46,155.96ZM95.99,157.45A52.05,52.05 0 0 1 95.67,157.10L98.86,154.19A47.74,47.74 0 0 0 99.14,154.51ZM95.56,156.98A52.05,52.05 0 0 1 95.25,156.64L97.81,154.35A48.62,48.62 0 0 0 98.10,154.68ZM95.14,156.52A52.05,52.05 0 0 1 94.83,156.17L97.57,153.79A48.42,48.42 0 0 0 97.85,154.11ZM94.73,156.04A52.05,52.05 0 0 1 94.42,155.69L97.25,153.29A48.34,48.34 0 0 0 97.53,153.61ZM94.32,155.56A52.05,52.05 0 0 1 94.02,155.21L96.73,152.96A48.53,48.53 0 0 0 97.01,153.30ZM93.91,155.08A52.05,52.05 0 0 1 93.62,154.72L96.98,152.01A47.73,47.73 0 0 0 97.25,152.34ZM93.52,154.59A52.05,52.05 0 0 1 93.23,154.23L95.85,152.16A48.71,48.71 0 0 0 96.12,152.50ZM93.13,154.10A52.05,52.05 0 0 1 92.84,153.73L95.24,151.89A49.03,49.03 0 0 0 95.51,152.24ZM92.74,153.60A52.05,52.05 0 0 1 92.46,153.23L94.93,151.38A48.97,48.97 0 0 0 95.19,151.73ZM92.36,153.10A52.05,52.05 0 0 1 92.09,152.73L93.63,151.60A50.14,50.14 0 0 0 93.90,151.96ZM91.99,152.59A52.05,52.05 0 0 1 91.72,152.22L94.33,150.35A48.84,48.84 0 0 0 94.59,150.71ZM91.62,152.08A52.05,52.05 0 0 1 91.36,151.70L93.53,150.19A49.40,49.40 0 0 0 93.79,150.55ZM91.26,151.57A52.05,52.05 0 0 1 91.00,151.18L94.80,148.61A47.47,47.47 0 0 0 95.04,148.96ZM90.91,151.05A52.05,52.05 0 0 1 90.65,150.66L94.64,148.03A47.28,47.28 0 0 0 94.87,148.38ZM90.56,150.52A52.05,52.05 0 0 1 90.31,150.13L93.25,148.24A48.55,48.55 0 0 0 93.49,148.61ZM90.22,150.00A52.05,52.05 0 0 1 89.97,149.60L92.50,148.02A49.07,49.07 0 0 0 92.73,148.39ZM89.89,149.46A52.05,52.05 0 0 1 89.64,149.07L92.16,147.53A49.10,49.10 0 0 0 92.39,147.91ZM89.56,148.93A52.05,52.05 0 0 1 89.32,148.53L91.85,147.03A49.11,49.11 0 0 0 92.07,147.41ZM89.23,148.39A52.05,52.05 0 0 1 89.00,147.99L93.36,145.47A47.01,47.01 0 0 0 93.58,145.83ZM88.92,147.84A52.05,52.05 0 0 1 88.69,147.44L93.17,144.93A46.92,46.92 0 0 0 93.37,145.30ZM88.61,147.30A52.05,52.05 0 0 1 88.39,146.89L91.48,145.20A48.52,48.52 0 0 0 91.69,145.58ZM88.01,146.19A52.05,52.05 0 0 1 87.80,145.78L92.03,143.60A47.29,47.29 0 0 0 92.23,143.98ZM87.72,145.63A52.05,52.05 0 0 1 87.51,145.21L89.85,144.05A49.43,49.43 0 0 0 90.05,144.44ZM87.44,145.07A52.05,52.05 0 0 1 87.24,144.65L90.60,143.02A48.31,48.31 0 0 0 90.79,143.41ZM87.17,144.50A52.05,52.05 0 0 1 86.97,144.08L91.47,141.97A47.07,47.07 0 0 0 91.65,142.35ZM86.90,143.93A52.05,52.05 0 0 1 86.70,143.51L91.28,141.43A47.03,47.03 0 0 0 91.45,141.82ZM86.64,143.36A52.05,52.05 0 0 1 86.45,142.94L90.00,141.38A48.17,48.17 0 0 0 90.17,141.77ZM86.38,142.79A52.05,52.05 0 0 1 86.20,142.36L88.78,141.26A49.24,49.24 0 0 0 88.96,141.66ZM86.13,142.21A52.05,52.05 0 0 1 85.95,141.78L89.08,140.50A48.67,48.67 0 0 0 89.24,140.90ZM85.89,141.63A52.05,52.05 0 0 1 85.72,141.20L88.58,140.06A48.97,48.97 0 0 0 88.75,140.47ZM85.43,140.46A52.05,52.05 0 0 1 85.27,140.02L89.52,138.45A47.51,47.51 0 0 0 89.67,138.85ZM85.21,139.87A52.05,52.05 0 0 1 85.06,139.43L89.59,137.82A47.24,47.24 0 0 0 89.73,138.22ZM84.80,138.68A52.05,52.05 0 0 1 84.65,138.24L88.48,136.98A48.01,48.01 0 0 0 88.62,137.39ZM84.60,138.08A52.05,52.05 0 0 1 84.46,137.64L89.19,136.15A47.09,47.09 0 0 0 89.32,136.55ZM84.41,137.49A52.05,52.05 0 0 1 84.27,137.04L87.99,135.92A48.17,48.17 0 0 0 88.11,136.33ZM84.05,136.28A52.05,52.05 0 0 1 83.92,135.83L86.58,135.10A49.29,49.29 0 0 0 86.70,135.52ZM83.88,135.67A52.05,52.05 0 0 1 83.76,135.22L87.01,134.37A48.69,48.69 0 0 0 87.12,134.79ZM83.72,135.07A52.05,52.05 0 0 1 83.60,134.62L86.45,133.90A49.11,49.11 0 0 0 86.56,134.33ZM83.56,134.46A52.05,52.05 0 0 1 83.45,134.00L85.63,133.49A49.81,49.81 0 0 0 85.74,133.92ZM83.42,133.84A52.05,52.05 0 0 1 83.31,133.39L86.51,132.67A48.78,48.78 0 0 0 86.60,133.10ZM83.28,133.23A52.05,52.05 0 0 1 83.18,132.78L86.05,132.17A49.11,49.11 0 0 0 86.15,132.60ZM83.02,132.00A52.05,52.05 0 0 1 82.93,131.54L85.80,131.01A49.13,49.13 0 0 0 85.88,131.44ZM82.90,131.38A52.05,52.05 0 0 1 82.82,130.92L87.72,130.07A47.08,47.08 0 0 0 87.79,130.49ZM82.79,130.76A52.05,52.05 0 0 1 82.72,130.30L87.66,129.50A47.04,47.04 0 0 0 87.73,129.92ZM82.69,130.14A52.05,52.05 0 0 1 82.62,129.68L85.68,129.23A48.95,48.95 0 0 0 85.75,129.66ZM82.43,128.27A52.05,52.05 0 0 1 82.38,127.81L85.03,127.51A49.38,49.38 0 0 0 85.08,127.95ZM82.36,127.65A52.05,52.05 0 0 1 82.31,127.19L85.69,126.85A48.65,48.65 0 0 0 85.74,127.28ZM82.29,127.02A52.05,52.05 0 0 1 82.25,126.56L84.93,126.32A49.36,49.36 0 0 0 84.97,126.76ZM82.24,126.40A52.05,52.05 0 0 1 82.20,125.93L84.59,125.75A49.65,49.65 0 0 0 84.62,126.19ZM82.19,125.77A52.05,52.05 0 0 1 82.16,125.31L86.53,125.03A47.67,47.67 0 0 0 86.56,125.45ZM82.14,125.14A52.05,52.05 0 0 1 82.12,124.68L86.28,124.46A47.88,47.88 0 0 0 86.31,124.89ZM82.11,124.51A52.05,52.05 0 0 1 82.09,124.05L85.35,123.92A48.79,48.79 0 0 0 85.37,124.36ZM82.08,123.89A52.05,52.05 0 0 1 82.07,123.42L84.65,123.35A49.47,49.47 0 0 0 84.66,123.79ZM82.07,123.26A52.05,52.05 0 0 1 82.06,122.79L85.93,122.73A48.17,48.17 0 0 0 85.94,123.16ZM82.05,122.63A52.05,52.05 0 0 1 82.05,122.16L86.02,122.15A48.08,48.08 0 0 0 86.03,122.58ZM82.05,122.00A52.05,52.05 0 0 1 82.05,121.53L85.08,121.56A49.02,49.02 0 0 0 85.08,122.00ZM82.05,121.37A52.05,52.05 0 0 1 82.06,120.91L84.91,120.97A49.20,49.20 0 0 0 84.90,121.41ZM82.07,120.74A52.05,52.05 0 0 1 82.08,120.28L84.93,120.37A49.20,49.20 0 0 0 84.92,120.81ZM82.11,119.49A52.05,52.05 0 0 1 82.14,119.02L86.55,119.27A47.63,47.63 0 0 0 86.53,119.70ZM82.14,118.86A52.05,52.05 0 0 1 82.18,118.39L85.59,118.63A48.63,48.63 0 0 0 85.56,119.06ZM82.19,118.23A52.05,52.05 0 0 1 82.22,117.77L85.59,118.04A48.67,48.67 0 0 0 85.56,118.47ZM82.24,117.60A52.05,52.05 0 0 1 82.28,117.14L87.09,117.59A47.22,47.22 0 0 0 87.05,118.01ZM82.29,116.98A52.05,52.05 0 0 1 82.34,116.51L86.42,116.95A47.94,47.94 0 0 0 86.38,117.37ZM82.36,116.35A52.05,52.05 0 0 1 82.41,115.89L87.85,116.53A46.57,46.57 0 0 0 87.81,116.95ZM82.43,115.73A52.05,52.05 0 0 1 82.49,115.26L86.78,115.82A47.72,47.72 0 0 0 86.72,116.25ZM82.51,115.10A52.05,52.05 0 0 1 82.57,114.64L86.81,115.25A47.77,47.77 0 0 0 86.75,115.67ZM82.60,114.48A52.05,52.05 0 0 1 82.67,114.02L85.34,114.43A49.34,49.34 0 0 0 85.28,114.87ZM82.69,113.86A52.05,52.05 0 0 1 82.77,113.40L87.47,114.19A47.28,47.28 0 0 0 87.40,114.60ZM82.79,113.24A52.05,52.05 0 0 1 82.87,112.78L85.07,113.17A49.82,49.82 0 0 0 84.99,113.61ZM82.90,112.62A52.05,52.05 0 0 1 82.99,112.16L86.41,112.82A48.57,48.57 0 0 0 86.33,113.25ZM83.02,112.00A52.05,52.05 0 0 1 83.11,111.54L85.36,112.00A49.76,49.76 0 0 0 85.27,112.44ZM83.14,111.38A52.05,52.05 0 0 1 83.24,110.93L87.60,111.88A47.59,47.59 0 0 0 87.51,112.29ZM83.28,110.77A52.05,52.05 0 0 1 83.38,110.31L85.96,110.91A49.41,49.41 0 0 0 85.86,111.34ZM83.42,110.16A52.05,52.05 0 0 1 83.52,109.70L88.75,110.97A46.67,46.67 0 0 0 88.66,111.38ZM83.56,109.54A52.05,52.05 0 0 1 83.68,109.09L86.24,109.75A49.41,49.41 0 0 0 86.13,110.18ZM83.72,108.93A52.05,52.05 0 0 1 83.84,108.48L88.02,109.61A47.72,47.72 0 0 0 87.91,110.02ZM83.88,108.33A52.05,52.05 0 0 1 84.00,107.88L87.71,108.92A48.20,48.20 0 0 0 87.60,109.34ZM84.05,107.72A52.05,52.05 0 0 1 84.18,107.27L86.48,107.95A49.65,49.65 0 0 0 86.35,108.38ZM84.22,107.12A52.05,52.05 0 0 1 84.36,106.67L87.28,107.57A48.99,48.99 0 0 0 87.16,107.99ZM84.60,105.92A52.05,52.05 0 0 1 84.74,105.47L88.62,106.77A47.96,47.96 0 0 0 88.48,107.18ZM84.80,105.32A52.05,52.05 0 0 1 84.95,104.88L89.63,106.51A47.09,47.09 0 0 0 89.49,106.91ZM85.00,104.72A52.05,52.05 0 0 1 85.16,104.29L88.71,105.57A48.27,48.27 0 0 0 88.56,105.98ZM85.21,104.13A52.05,52.05 0 0 1 85.37,103.70L88.17,104.75A49.06,49.06 0 0 0 88.02,105.16ZM85.43,103.54A52.05,52.05 0 0 1 85.60,103.11L89.40,104.59A47.97,47.97 0 0 0 89.24,104.99ZM85.66,102.96A52.05,52.05 0 0 1 85.83,102.52L90.19,104.28A47.35,47.35 0 0 0 90.03,104.67ZM85.89,102.37A52.05,52.05 0 0 1 86.07,101.94L88.32,102.88A49.61,49.61 0 0 0 88.15,103.29ZM86.13,101.79A52.05,52.05 0 0 1 86.32,101.36L89.88,102.90A48.16,48.16 0 0 0 89.71,103.30ZM86.64,100.64A52.05,52.05 0 0 1 86.83,100.21L90.86,102.07A47.61,47.61 0 0 0 90.69,102.46ZM86.90,100.07A52.05,52.05 0 0 1 87.10,99.64L89.70,100.88A49.17,49.17 0 0 0 89.51,101.28ZM87.17,99.50A52.05,52.05 0 0 1 87.37,99.08L91.94,101.32A46.96,46.96 0 0 0 91.75,101.70ZM87.44,98.93A52.05,52.05 0 0 1 87.65,98.52L91.29,100.36A47.97,47.97 0 0 0 91.10,100.74ZM87.72,98.37A52.05,52.05 0 0 1 87.94,97.96L91.40,99.76A48.15,48.15 0 0 0 91.20,100.14ZM88.01,97.81A52.05,52.05 0 0 1 88.23,97.40L91.65,99.23A48.17,48.17 0 0 0 91.45,99.61ZM88.31,97.26A52.05,52.05 0 0 1 88.53,96.85L91.24,98.34A48.96,48.96 0 0 0 91.03,98.73ZM88.61,96.70A52.05,52.05 0 0 1 88.84,96.30L92.99,98.66A47.27,47.27 0 0 0 92.79,99.03ZM88.92,96.16A52.05,52.05 0 0 1 89.15,95.75L91.05,96.86A49.85,49.85 0 0 0 90.83,97.25ZM89.23,95.61A52.05,52.05 0 0 1 89.47,95.21L93.33,97.53A47.55,47.55 0 0 0 93.11,97.89ZM89.56,95.07A52.05,52.05 0 0 1 89.80,94.68L93.65,97.05A47.52,47.52 0 0 0 93.43,97.42ZM89.89,94.54A52.05,52.05 0 0 1 90.13,94.14L92.87,95.88A48.81,48.81 0 0 0 92.64,96.25ZM90.22,94.00A52.05,52.05 0 0 1 90.47,93.61L93.70,95.71A48.20,48.20 0 0 0 93.47,96.08ZM90.56,93.48A52.05,52.05 0 0 1 90.82,93.09L92.89,94.47A49.56,49.56 0 0 0 92.65,94.84ZM90.91,92.95A52.05,52.05 0 0 1 91.17,92.57L94.79,95.05A47.66,47.66 0 0 0 94.55,95.40ZM91.26,92.43A52.05,52.05 0 0 1 91.53,92.05L95.05,94.53A47.75,47.75 0 0 0 94.80,94.88ZM91.62,91.92A52.05,52.05 0 0 1 91.89,91.54L94.64,93.52A48.66,48.66 0 0 0 94.39,93.87ZM91.99,91.41A52.05,52.05 0 0 1 92.27,91.03L94.65,92.80A49.08,49.08 0 0 0 94.39,93.15ZM92.36,90.90A52.05,52.05 0 0 1 92.64,90.53L96.43,93.40A47.30,47.30 0 0 0 96.17,93.74ZM92.74,90.40A52.05,52.05 0 0 1 93.03,90.03L95.18,91.71A49.32,49.32 0 0 0 94.91,92.06ZM93.13,89.90A52.05,52.05 0 0 1 93.42,89.53L95.36,91.09A49.56,49.56 0 0 0 95.09,91.44ZM93.52,89.41A52.05,52.05 0 0 1 93.81,89.05L97.63,92.17A47.12,47.12 0 0 0 97.36,92.49ZM93.91,88.92A52.05,52.05 0 0 1 94.21,88.56L98.11,91.83A46.97,46.97 0 0 0 97.84,92.15ZM94.32,88.44A52.05,52.05 0 0 1 94.62,88.08L98.37,91.31A47.10,47.10 0 0 0 98.10,91.63ZM94.73,87.96A52.05,52.05 0 0 1 95.03,87.61L97.53,89.81A48.72,48.72 0 0 0 97.25,90.14ZM95.14,87.48A52.05,52.05 0 0 1 95.45,87.14L97.24,88.76A49.63,49.63 0 0 0 96.95,89.09ZM95.56,87.02A52.05,52.05 0 0 1 95.87,86.67L97.49,88.16A49.86,49.86 0 0 0 97.18,88.49ZM95.99,86.55A52.05,52.05 0 0 1 96.30,86.21L99.11,88.87A48.19,48.19 0 0 0 98.81,89.18ZM96.42,86.10A52.05,52.05 0 0 1 96.74,85.76L99.04,88.00A48.84,48.84 0 0 0 98.74,88.31ZM96.85,85.64A52.05,52.05 0 0 1 97.18,85.31L99.23,87.35A49.16,49.16 0 0 0 98.92,87.66ZM97.30,85.20A52.05,52.05 0 0 1 97.63,84.87L99.86,87.15A48.86,48.86 0 0 0 99.55,87.45ZM97.74,84.75A52.05,52.05 0 0 1 98.08,84.43L100.33,86.78A48.79,48.79 0 0 0 100.02,87.08ZM98.20,84.32A52.05,52.05 0 0 1 98.53,84.00L101.70,87.38A47.42,47.42 0 0 0 101.39,87.67ZM98.65,83.89A52.05,52.05 0 0 1 99.00,83.57L102.19,87.07A47.31,47.31 0 0 0 101.88,87.36ZM99.12,83.46A52.05,52.05 0 0 1 99.46,83.15L101.82,85.80A48.50,48.50 0 0 0 101.50,86.09ZM99.58,83.04A52.05,52.05 0 0 1 99.93,82.73L101.64,84.70A49.45,49.45 0 0 0 101.31,84.99ZM100.06,82.63A52.05,52.05 0 0 1 100.41,82.32L103.13,85.53A47.85,47.85 0 0 0 102.81,85.80ZM100.54,82.22A52.05,52.05 0 0 1 100.89,81.92L103.06,84.53A48.66,48.66 0 0 0 102.72,84.81ZM101.02,81.81A52.05,52.05 0 0 1 101.38,81.52L103.47,84.11A48.72,48.72 0 0 0 103.13,84.38ZM101.51,81.42A52.05,52.05 0 0 1 101.87,81.13L103.66,83.40A49.15,49.15 0 0 0 103.32,83.68ZM102.00,81.03A52.05,52.05 0 0 1 102.37,80.74L104.48,83.48A48.59,48.59 0 0 0 104.13,83.75ZM102.50,80.64A52.05,52.05 0 0 1 102.87,80.36L104.49,82.52A49.35,49.35 0 0 0 104.14,82.79ZM103.00,80.26A52.05,52.05 0 0 1 103.37,79.99L106.12,83.75A47.39,47.39 0 0 0 105.78,84.00ZM103.51,79.89A52.05,52.05 0 0 1 103.88,79.62L105.64,82.08A49.02,49.02 0 0 0 105.29,82.34ZM104.02,79.52A52.05,52.05 0 0 1 104.40,79.26L107.05,83.07A47.41,47.41 0 0 0 106.70,83.31ZM104.53,79.16A52.05,52.05 0 0 1 104.92,78.90L107.71,83.02A47.07,47.07 0 0 0 107.36,83.26ZM105.05,78.81A52.05,52.05 0 0 1 105.44,78.55L108.40,83.04A46.67,46.67 0 0 0 108.06,83.28ZM105.58,78.46A52.05,52.05 0 0 1 105.97,78.21L107.76,81.00A48.73,48.73 0 0 0 107.39,81.24ZM106.10,78.12A52.05,52.05 0 0 1 106.50,77.87L109.39,82.50A46.59,46.59 0 0 0 109.04,82.72ZM107.17,77.46A52.05,52.05 0 0 1 107.57,77.22L108.83,79.33A49.59,49.59 0 0 0 108.44,79.56ZM107.71,77.13A52.05,52.05 0 0 1 108.11,76.90L110.17,80.47A47.93,47.93 0 0 0 109.80,80.68ZM108.26,76.82A52.05,52.05 0 0 1 108.66,76.59L109.98,78.95A49.34,49.34 0 0 0 109.60,79.17ZM108.80,76.51A52.05,52.05 0 0 1 109.21,76.29L110.97,79.52A48.36,48.36 0 0 0 110.60,79.73ZM109.36,76.21A52.05,52.05 0 0 1 109.77,75.99L111.23,78.76A48.92,48.92 0 0 0 110.84,78.96ZM109.91,75.91A52.05,52.05 0 0 1 110.32,75.70L112.24,79.44A47.85,47.85 0 0 0 111.86,79.63ZM110.47,75.62A52.05,52.05 0 0 1 110.89,75.41L112.43,78.51A48.59,48.59 0 0 0 112.04,78.70ZM111.03,75.34A52.05,52.05 0 0 1 111.45,75.14L113.71,79.81A46.85,46.85 0 0 0 113.33,80.00ZM111.60,75.07A52.05,52.05 0 0 1 112.02,74.87L113.96,79.00A47.48,47.48 0 0 0 113.57,79.18ZM112.17,74.80A52.05,52.05 0 0 1 112.59,74.60L113.90,77.49A48.88,48.88 0 0 0 113.50,77.67ZM112.74,74.54A52.05,52.05 0 0 1 113.16,74.35L115.11,78.78A47.21,47.21 0 0 0 114.72,78.95ZM113.31,74.28A52.05,52.05 0 0 1 113.74,74.10L114.91,76.86A49.05,49.05 0 0 0 114.51,77.03ZM113.89,74.03A52.05,52.05 0 0 1 114.32,73.85L115.59,76.93A48.72,48.72 0 0 0 115.18,77.10ZM115.06,73.56A52.05,52.05 0 0 1 115.49,73.39L116.52,76.08A49.17,49.17 0 0 0 116.11,76.24ZM115.64,73.33A52.05,52.05 0 0 1 116.08,73.17L117.20,76.21A48.81,48.81 0 0 0 116.79,76.36ZM116.23,73.11A52.05,52.05 0 0 1 116.67,72.96L117.73,75.95A48.88,48.88 0 0 0 117.32,76.09ZM116.82,72.90A52.05,52.05 0 0 1 117.26,72.75L118.17,75.41A49.23,49.23 0 0 0 117.76,75.56ZM117.42,72.70A52.05,52.05 0 0 1 117.86,72.55L119.39,77.21A47.14,47.14 0 0 0 118.99,77.35ZM118.02,72.50A52.05,52.05 0 0 1 118.46,72.36L119.69,76.27A47.94,47.94 0 0 0 119.28,76.40ZM119.22,72.12A52.05,52.05 0 0 1 119.66,71.99L120.51,74.91A49.01,49.01 0 0 0 120.09,75.04ZM119.82,71.95A52.05,52.05 0 0 1 120.27,71.82L121.00,74.47A49.30,49.30 0 0 0 120.57,74.59ZM120.43,71.78A52.05,52.05 0 0 1 120.88,71.66L121.58,74.35A49.27,49.27 0 0 0 121.16,74.46ZM121.03,71.62A52.05,52.05 0 0 1 121.48,71.50L122.22,74.46A49.00,49.00 0 0 0 121.80,74.57ZM121.64,71.46A52.05,52.05 0 0 1 122.10,71.35L123.24,76.20A47.07,47.07 0 0 0 122.84,76.30ZM122.26,71.32A52.05,52.05 0 0 1 122.71,71.21L123.81,76.11A47.03,47.03 0 0 0 123.40,76.20ZM122.87,71.18A52.05,52.05 0 0 1 123.32,71.08L124.32,75.77A47.25,47.25 0 0 0 123.90,75.86ZM123.48,71.04A52.05,52.05 0 0 1 123.94,70.95L124.70,74.78A48.14,48.14 0 0 0 124.28,74.87ZM124.10,70.92A52.05,52.05 0 0 1 124.56,70.83L125.22,74.37A48.45,48.45 0 0 0 124.79,74.45ZM124.72,70.80A52.05,52.05 0 0 1 125.18,70.72L125.85,74.58A48.13,48.13 0 0 0 125.42,74.66ZM125.34,70.69A52.05,52.05 0 0 1 125.80,70.62L126.23,73.32A49.32,49.32 0 0 0 125.80,73.39ZM125.96,70.59A52.05,52.05 0 0 1 126.42,70.52L126.97,74.20A48.33,48.33 0 0 0 126.54,74.27ZM127.20,70.41A52.05,52.05 0 0 1 127.66,70.35L128.18,74.49A47.87,47.87 0 0 0 127.76,74.55ZM127.83,70.33A52.05,52.05 0 0 1 128.29,70.28L128.70,73.91A48.39,48.39 0 0 0 128.27,73.96ZM128.45,70.26A52.05,52.05 0 0 1 128.91,70.21L129.20,73.09A49.15,49.15 0 0 0 128.77,73.14ZM129.08,70.19A52.05,52.05 0 0 1 129.54,70.15L129.79,73.01A49.18,49.18 0 0 0 129.35,73.05ZM129.70,70.14A52.05,52.05 0 0 1 130.17,70.10L130.57,75.47A46.66,46.66 0 0 0 130.16,75.51ZM130.33,70.09A52.05,52.05 0 0 1 130.79,70.06L131.03,73.83A48.27,48.27 0 0 0 130.60,73.86ZM130.96,70.04A52.05,52.05 0 0 1 131.42,70.02L131.56,72.69A49.37,49.37 0 0 0 131.12,72.72ZM131.59,70.01A52.05,52.05 0 0 1 132.05,69.99L132.18,73.37A48.67,48.67 0 0 0 131.75,73.39ZM132.21,69.98A52.05,52.05 0 0 1 132.68,69.97L132.79,73.89A48.13,48.13 0 0 0 132.36,73.91ZM132.84,69.97A52.05,52.05 0 0 1 133.31,69.96L133.36,73.15A48.86,48.86 0 0 0 132.92,73.16ZM133.47,69.95A52.05,52.05 0 0 1 133.94,69.95L133.95,73.95A48.05,48.05 0 0 0 133.52,73.95Z" fill="#aac4c8" fill-opacity="0.95"/>
<path d="M87.58,97.66A52.51,52.51 0 0 1 87.73,97.37L89.90,98.53A50.05,50.05 0 0 0 89.75,98.80ZM164.17,165.49A52.87,52.87 0 0 1 163.90,165.67L163.14,164.56A51.53,51.53 0 0 0 163.40,164.38ZM131.80,178.89A56.93,56.93 0 0 1 131.46,178.87L131.55,176.77A54.82,54.82 0 0 0 131.89,176.78ZM84.14,108.52A51.75,51.75 0 0 1 84.22,108.21L85.60,108.59A50.32,50.32 0 0 0 85.52,108.89ZM185.70,138.49A54.17,54.17 0 0 1 185.60,138.80L183.64,138.16A52.11,52.11 0 0 0 183.73,137.86ZM84.74,111.22A50.53,50.53 0 0 1 84.80,110.92L86.99,111.41A48.28,48.28 0 0 0 86.93,111.70ZM99.39,82.32A52.72,52.72 0 0 1 99.63,82.11L100.22,82.79A51.82,51.82 0 0 0 99.98,83.00ZM180.88,137.33A49.22,49.22 0 0 1 180.78,137.62L179.66,137.24A48.04,48.04 0 0 0 179.75,136.96ZM108.33,74.12A54.38,54.38 0 0 1 108.63,73.96L109.62,75.83A52.26,52.26 0 0 0 109.34,75.98ZM79.39,108.31A56.39,56.39 0 0 1 79.48,107.98L81.44,108.48A54.37,54.37 0 0 0 81.36,108.80ZM97.57,162.55A54.58,54.58 0 0 1 97.32,162.33L98.80,160.71A52.39,52.39 0 0 0 99.04,160.92ZM103.39,166.40A53.99,53.99 0 0 1 103.12,166.22L103.82,165.21A52.77,52.77 0 0 0 104.08,165.40ZM87.68,148.67A53.53,53.53 0 0 1 87.52,148.38L89.55,147.24A51.21,51.21 0 0 0 89.70,147.51ZM163.92,81.69A50.14,50.14 0 0 1 164.17,81.87L163.64,82.57A49.27,49.27 0 0 0 163.40,82.39ZM78.26,113.32A56.51,56.51 0 0 1 78.31,112.98L80.40,113.32A54.40,54.40 0 0 0 80.35,113.65ZM175.29,160.13A56.13,56.13 0 0 1 175.06,160.38L173.32,158.76A53.76,53.76 0 0 0 173.55,158.52ZM114.62,169.36A51.21,51.21 0 0 1 114.33,169.24L114.87,167.95A49.81,49.81 0 0 0 115.16,168.06ZM158.59,167.75A51.89,51.89 0 0 1 158.31,167.90L157.53,166.43A50.23,50.23 0 0 0 157.80,166.28ZM90.99,156.87A55.45,55.45 0 0 1 90.78,156.60L91.49,156.04A54.54,54.54 0 0 0 91.70,156.30ZM113.80,166.94A49.31,49.31 0 0 1 113.53,166.82L113.96,165.88A48.28,48.28 0 0 0 114.23,166.00ZM83.32,101.77A54.66,54.66 0 0 1 83.44,101.46L85.88,102.45A52.03,52.03 0 0 0 85.77,102.75ZM150.49,168.89A49.67,49.67 0 0 1 150.21,168.99L149.70,167.50A48.10,48.10 0 0 0 149.97,167.40ZM102.79,170.02A57.33,57.33 0 0 1 102.49,169.83L104.02,167.52A54.56,54.56 0 0 0 104.29,167.70ZM142.07,173.27A51.89,51.89 0 0 1 141.76,173.32L141.61,172.33A50.89,50.89 0 0 0 141.92,172.28ZM94.22,153.13A50.59,50.59 0 0 1 94.03,152.89L94.91,152.21A49.49,49.49 0 0 0 95.09,152.45ZM138.99,72.04A50.20,50.20 0 0 1 139.30,72.07L139.07,74.22A48.03,48.03 0 0 0 138.78,74.20ZM172.68,81.77A55.74,55.74 0 0 1 172.93,82.01L172.25,82.71A54.76,54.76 0 0 0 172.01,82.47ZM97.75,88.05A49.74,49.74 0 0 1 97.95,87.83L98.56,88.41A48.90,48.90 0 0 0 98.36,88.62ZM83.10,131.94A51.96,51.96 0 0 1 83.04,131.63L85.27,131.21A49.70,49.70 0 0 0 85.32,131.51ZM180.93,102.57A50.70,50.70 0 0 1 181.05,102.86L178.87,103.74A48.35,48.35 0 0 0 178.76,103.47ZM79.32,134.77A56.25,56.25 0 0 1 79.24,134.43L81.45,133.93A53.99,53.99 0 0 0 81.52,134.26ZM161.69,74.86A54.62,54.62 0 0 1 161.98,75.03L160.85,76.94A52.40,52.40 0 0 0 160.57,76.78ZM147.79,176.13A55.83,55.83 0 0 1 147.46,176.21L147.14,174.94A54.53,54.53 0 0 0 147.47,174.86ZM122.13,69.50A53.84,53.84 0 0 1 122.45,69.43L122.63,70.24A53.02,53.02 0 0 0 122.31,70.31ZM139.18,67.25A54.99,54.99 0 0 1 139.52,67.28L139.28,69.70A52.55,52.55 0 0 0 138.96,69.67ZM159.27,76.00A52.44,52.44 0 0 1 159.55,76.15L158.45,78.13A50.18,50.18 0 0 0 158.18,77.98ZM182.31,93.90A55.80,55.80 0 0 1 182.48,94.19L180.94,95.08A54.03,54.03 0 0 0 180.77,94.79ZM153.37,73.14A52.52,52.52 0 0 1 153.67,73.26L152.94,75.07A50.57,50.57 0 0 0 152.65,74.95ZM154.32,171.89A53.83,53.83 0 0 1 154.01,172.01L153.61,171.00A52.74,52.74 0 0 0 153.91,170.88ZM83.78,106.57A52.63,52.63 0 0 1 83.88,106.26L85.87,106.89A50.54,50.54 0 0 0 85.78,107.18ZM95.90,158.01A52.50,52.50 0 0 1 95.68,157.77L96.83,156.70A50.93,50.93 0 0 0 97.04,156.93ZM78.59,109.14A56.98,56.98 0 0 1 78.67,108.80L80.97,109.35A54.61,54.61 0 0 0 80.90,109.67ZM113.33,168.54A50.97,50.97 0 0 1 113.04,168.41L113.42,167.58A50.05,50.05 0 0 0 113.70,167.70ZM125.08,67.36A55.38,55.38 0 0 1 125.41,67.31L125.80,69.73A52.92,52.92 0 0 0 125.48,69.78ZM181.95,149.11A55.00,55.00 0 0 1 181.78,149.40L179.39,148.03A52.24,52.24 0 0 0 179.55,147.75ZM87.32,95.79A53.63,53.63 0 0 1 87.48,95.50L88.71,96.20A52.21,52.21 0 0 0 88.55,96.48ZM158.30,172.25A55.77,55.77 0 0 1 157.99,172.39L157.33,170.99A54.22,54.22 0 0 0 157.63,170.85ZM83.83,143.82A54.80,54.80 0 0 1 83.69,143.51L86.08,142.50A52.21,52.21 0 0 0 86.20,142.79ZM86.59,104.05A50.79,50.79 0 0 1 86.70,103.76L87.45,104.05A49.98,49.98 0 0 0 87.34,104.34ZM186.85,126.33A52.93,52.93 0 0 1 186.83,126.66L184.86,126.48A50.96,50.96 0 0 0 184.89,126.17ZM83.67,99.81A55.10,55.10 0 0 1 83.81,99.50L84.62,99.86A54.21,54.21 0 0 0 84.48,100.16ZM85.40,93.92A56.22,56.22 0 0 1 85.57,93.63L87.76,94.91A53.68,53.68 0 0 0 87.59,95.19ZM111.21,169.16A52.42,52.42 0 0 1 110.93,169.02L112.03,166.77A49.92,49.92 0 0 0 112.31,166.91ZM82.20,102.56A55.42,55.42 0 0 1 82.32,102.25L84.78,103.18A52.79,52.79 0 0 0 84.66,103.48ZM175.54,150.87A50.50,50.50 0 0 1 175.36,151.12L173.80,150.02A48.60,48.60 0 0 0 173.97,149.78ZM84.67,106.83A51.70,51.70 0 0 1 84.77,106.53L86.96,107.22A49.40,49.40 0 0 0 86.87,107.51ZM112.61,75.03A51.65,51.65 0 0 1 112.90,74.90L113.73,76.73A49.64,49.64 0 0 0 113.45,76.86ZM86.96,145.04A52.47,52.47 0 0 1 86.82,144.75L87.91,144.22A51.26,51.26 0 0 0 88.05,144.50ZM189.72,123.65A55.64,55.64 0 0 1 189.71,123.99L187.32,123.91A53.26,53.26 0 0 0 187.33,123.58ZM146.88,171.40A51.03,51.03 0 0 1 146.58,171.48L145.99,169.14A48.61,48.61 0 0 0 146.27,169.07ZM83.01,114.84A51.59,51.59 0 0 1 83.05,114.53L84.99,114.81A49.63,49.63 0 0 0 84.95,115.11ZM100.29,77.31A56.04,56.04 0 0 1 100.57,77.10L101.67,78.58A54.20,54.20 0 0 0 101.40,78.78ZM141.91,174.73A53.30,53.30 0 0 1 141.59,174.77L141.43,173.61A52.13,52.13 0 0 0 141.74,173.56ZM182.22,103.75A51.47,51.47 0 0 1 182.33,104.05L180.27,104.81A49.26,49.26 0 0 0 180.16,104.53ZM174.75,156.87A53.56,53.56 0 0 1 174.54,157.11L173.33,156.06A51.95,51.95 0 0 0 173.53,155.82ZM128.71,171.64A49.93,49.93 0 0 1 128.41,171.61L128.51,170.72A49.04,49.04 0 0 0 128.80,170.76ZM133.17,70.38A51.63,51.63 0 0 1 133.49,70.37L133.50,71.39A50.62,50.62 0 0 0 133.19,71.39ZM93.64,158.70A54.62,54.62 0 0 1 93.42,158.45L94.25,157.71A53.51,53.51 0 0 0 94.47,157.95ZM104.13,164.81A52.25,52.25 0 0 1 103.87,164.62L104.93,163.12A50.41,50.41 0 0 0 105.19,163.30ZM140.68,71.41A51.02,51.02 0 0 1 140.98,71.45L140.61,74.21A48.24,48.24 0 0 0 140.32,74.17ZM94.33,86.46A53.34,53.34 0 0 1 94.55,86.21L95.98,87.51A51.40,51.40 0 0 0 95.77,87.74ZM189.06,126.01A55.11,55.11 0 0 1 189.03,126.35L187.39,126.22A53.45,53.45 0 0 0 187.41,125.89ZM115.69,69.32A55.81,55.81 0 0 1 116.01,69.20L116.80,71.51A53.37,53.37 0 0 0 116.50,71.62ZM122.57,72.67A50.65,50.65 0 0 1 122.88,72.61L123.07,73.46A49.78,49.78 0 0 0 122.77,73.53ZM181.97,106.77A50.23,50.23 0 0 1 182.06,107.07L181.14,107.35A49.27,49.27 0 0 0 181.05,107.07ZM151.25,70.33A54.44,54.44 0 0 1 151.56,70.43L150.75,72.84A51.90,51.90 0 0 0 150.45,72.74ZM148.94,177.29A57.25,57.25 0 0 1 148.60,177.38L147.93,174.85A54.63,54.63 0 0 0 148.26,174.76ZM155.21,72.53A53.78,53.78 0 0 1 155.51,72.66L154.87,74.13A52.19,52.19 0 0 0 154.58,74.00ZM172.43,81.14A56.03,56.03 0 0 1 172.68,81.37L171.78,82.32A54.72,54.72 0 0 0 171.53,82.09ZM112.35,172.73A55.20,55.20 0 0 1 112.04,172.60L113.12,170.11A52.48,52.48 0 0 0 113.41,170.24ZM88.18,147.35A52.45,52.45 0 0 1 88.03,147.07L89.52,146.26A50.75,50.75 0 0 0 89.67,146.53ZM182.63,91.08A57.54,57.54 0 0 1 182.82,91.38L180.46,92.86A54.76,54.76 0 0 0 180.29,92.58ZM182.90,113.24A49.58,49.58 0 0 1 182.95,113.53L181.66,113.76A48.27,48.27 0 0 0 181.61,113.47ZM179.73,156.04A56.93,56.93 0 0 1 179.52,156.32L177.44,154.75A54.32,54.32 0 0 0 177.64,154.48ZM90.82,95.58A50.70,50.70 0 0 1 90.98,95.32L93.00,96.57A48.33,48.33 0 0 0 92.85,96.82ZM80.57,135.88A55.30,55.30 0 0 1 80.49,135.56L83.18,134.88A52.53,52.53 0 0 0 83.26,135.19ZM151.72,73.80A51.32,51.32 0 0 1 152.01,73.90L151.21,76.07A49.01,49.01 0 0 0 150.93,75.96ZM113.98,71.74A54.14,54.14 0 0 1 114.28,71.62L114.79,72.92A52.74,52.74 0 0 0 114.50,73.04ZM104.57,167.59A54.32,54.32 0 0 1 104.30,167.41L104.85,166.56A53.31,53.31 0 0 0 105.12,166.74ZM179.56,144.78A50.85,50.85 0 0 1 179.42,145.05L178.49,144.58A49.80,49.80 0 0 0 178.62,144.31ZM140.01,172.11A50.46,50.46 0 0 1 139.70,172.14L139.56,170.88A49.18,49.18 0 0 0 139.86,170.84ZM176.04,88.68A53.57,53.57 0 0 1 176.25,88.93L175.60,89.44A52.74,52.74 0 0 0 175.40,89.19ZM84.92,132.27A50.24,50.24 0 0 1 84.86,131.97L85.72,131.80A49.37,49.37 0 0 0 85.78,132.09ZM111.18,75.09A52.21,52.21 0 0 1 111.47,74.95L112.63,77.35A49.54,49.54 0 0 0 112.35,77.48ZM93.02,84.97A55.30,55.30 0 0 1 93.25,84.72L94.05,85.45A54.22,54.22 0 0 0 93.83,85.70ZM150.81,170.54A51.34,51.34 0 0 1 150.51,170.64L149.66,168.13A48.68,48.68 0 0 0 149.94,168.03ZM88.83,92.37A54.10,54.10 0 0 1 89.02,92.09L90.44,93.03A52.40,52.40 0 0 0 90.26,93.30ZM181.02,151.68A55.52,55.52 0 0 1 180.83,151.97L179.36,151.02A53.76,53.76 0 0 0 179.53,150.74ZM97.87,156.81A50.24,50.24 0 0 1 97.66,156.59L98.56,155.73A49.00,49.00 0 0 0 98.77,155.95ZM153.26,70.55A54.90,54.90 0 0 1 153.57,70.67L152.89,72.45A53.00,53.00 0 0 0 152.59,72.33ZM177.83,87.95A55.43,55.43 0 0 1 178.04,88.22L176.99,89.03A54.10,54.10 0 0 0 176.78,88.77ZM160.64,164.88A50.43,50.43 0 0 1 160.38,165.04L159.68,163.90A49.09,49.09 0 0 0 159.94,163.74ZM90.56,94.54A51.48,51.48 0 0 1 90.73,94.27L91.69,94.88A50.34,50.34 0 0 0 91.52,95.14ZM137.08,174.75A52.83,52.83 0 0 1 136.76,174.77L136.63,172.16A50.23,50.23 0 0 0 136.94,172.15ZM170.76,79.98A55.76,55.76 0 0 1 171.01,80.20L170.41,80.89A54.85,54.85 0 0 0 170.16,80.67ZM101.07,79.40A53.90,53.90 0 0 1 101.34,79.20L102.08,80.17A52.68,52.68 0 0 0 101.82,80.37ZM141.35,172.81A51.32,51.32 0 0 1 141.03,172.85L140.86,171.55A50.00,50.00 0 0 0 141.16,171.50ZM184.99,106.04A53.33,53.33 0 0 1 185.08,106.35L182.42,107.16A50.55,50.55 0 0 0 182.33,106.87ZM133.43,66.53A55.47,55.47 0 0 1 133.77,66.53L133.78,67.53A54.48,54.48 0 0 0 133.44,67.53ZM187.60,135.53A55.19,55.19 0 0 1 187.52,135.86L186.63,135.63A54.27,54.27 0 0 0 186.72,135.31ZM81.86,129.78A52.81,52.81 0 0 1 81.82,129.46L84.55,129.07A50.05,50.05 0 0 0 84.59,129.37ZM139.64,67.15A55.13,55.13 0 0 1 139.98,67.18L139.82,68.66A53.65,53.65 0 0 0 139.49,68.62ZM173.02,89.86A50.48,50.48 0 0 1 173.22,90.10L171.31,91.66A48.01,48.01 0 0 0 171.12,91.43ZM125.62,172.26A50.97,50.97 0 0 1 125.32,172.21L125.61,170.56A49.30,49.30 0 0 0 125.90,170.61ZM107.06,78.20A51.47,51.47 0 0 1 107.33,78.04L108.34,79.70A49.53,49.53 0 0 0 108.08,79.86ZM173.46,88.63A51.60,51.60 0 0 1 173.66,88.87L171.87,90.37A49.26,49.26 0 0 0 171.67,90.14ZM85.22,134.02A50.34,50.34 0 0 1 85.15,133.72L86.08,133.50A49.38,49.38 0 0 0 86.15,133.79ZM162.32,75.90A54.05,54.05 0 0 1 162.60,76.07L161.66,77.60A52.26,52.26 0 0 0 161.38,77.43ZM184.99,129.70A51.47,51.47 0 0 1 184.94,130.01L182.94,129.69A49.44,49.44 0 0 0 182.99,129.39ZM80.40,136.60A55.65,55.65 0 0 1 80.31,136.27L82.21,135.76A53.68,53.68 0 0 0 82.30,136.08ZM182.56,107.02A50.73,50.73 0 0 1 182.65,107.32L180.49,107.97A48.46,48.46 0 0 0 180.40,107.69ZM163.55,167.22A53.96,53.96 0 0 1 163.27,167.40L162.78,166.63A53.05,53.05 0 0 0 163.05,166.45ZM85.06,102.35A52.83,52.83 0 0 1 85.18,102.05L87.48,102.99A50.35,50.35 0 0 0 87.36,103.28ZM94.78,87.55A52.28,52.28 0 0 1 94.99,87.31L95.61,87.86A51.45,51.45 0 0 0 95.40,88.09ZM105.29,76.47A53.88,53.88 0 0 1 105.57,76.29L106.92,78.45A51.34,51.34 0 0 0 106.65,78.62ZM185.60,127.28A51.77,51.77 0 0 1 185.56,127.59L183.11,127.33A49.30,49.30 0 0 0 183.15,127.03ZM171.67,156.02A50.69,50.69 0 0 1 171.47,156.25L170.33,155.21A49.14,49.14 0 0 0 170.53,154.98ZM106.09,163.27A49.87,49.87 0 0 1 105.84,163.09L106.89,161.58A48.03,48.03 0 0 0 107.13,161.74ZM151.70,171.62A52.65,52.65 0 0 1 151.39,171.73L151.05,170.75A51.61,51.61 0 0 0 151.35,170.64ZM79.24,134.41A56.25,56.25 0 0 1 79.16,134.08L81.64,133.53A53.72,53.72 0 0 0 81.71,133.85ZM183.31,145.53A54.54,54.54 0 0 1 183.16,145.83L181.76,145.14A52.98,52.98 0 0 0 181.90,144.85ZM83.13,121.58A50.97,50.97 0 0 1 83.13,121.27L85.68,121.30A48.43,48.43 0 0 0 85.67,121.60ZM118.93,70.92A53.29,53.29 0 0 1 119.24,70.82L119.75,72.58A51.46,51.46 0 0 0 119.45,72.67ZM124.08,173.64A52.60,52.60 0 0 1 123.76,173.58L123.93,172.75A51.76,51.76 0 0 0 124.24,172.81ZM123.79,72.33A50.73,50.73 0 0 1 124.09,72.27L124.32,73.41A49.57,49.57 0 0 0 124.03,73.47ZM165.48,80.30A52.19,52.19 0 0 1 165.73,80.49L164.26,82.43A49.75,49.75 0 0 0 164.02,82.25ZM143.66,72.03A50.87,50.87 0 0 1 143.96,72.09L143.53,74.25A48.68,48.68 0 0 0 143.24,74.19ZM181.27,105.05A50.12,50.12 0 0 1 181.37,105.34L179.49,106.00A48.12,48.12 0 0 0 179.39,105.72ZM109.20,169.76A53.87,53.87 0 0 1 108.91,169.61L109.94,167.66A51.66,51.66 0 0 0 110.22,167.81ZM168.02,77.04A56.32,56.32 0 0 1 168.29,77.25L166.94,79.02A54.09,54.09 0 0 0 166.67,78.82ZM148.28,73.38A50.65,50.65 0 0 1 148.58,73.47L148.07,75.18A48.86,48.86 0 0 0 147.78,75.09ZM133.86,173.00A51.00,51.00 0 0 1 133.55,173.00L133.56,171.95A49.96,49.96 0 0 0 133.86,171.96ZM162.56,164.25A50.94,50.94 0 0 1 162.30,164.42L161.20,162.77A48.96,48.96 0 0 0 161.45,162.60ZM95.05,89.24A50.98,50.98 0 0 1 95.25,89.00L96.73,90.26A49.03,49.03 0 0 0 96.54,90.49ZM82.51,123.11A51.60,51.60 0 0 1 82.50,122.79L84.96,122.76A49.15,49.15 0 0 0 84.96,123.06ZM114.09,73.61A52.36,52.36 0 0 1 114.38,73.49L115.00,75.01A50.72,50.72 0 0 0 114.71,75.13ZM89.07,93.53A53.27,53.27 0 0 1 89.25,93.26L90.59,94.12A51.68,51.68 0 0 0 90.42,94.38ZM114.30,70.78A54.92,54.92 0 0 1 114.61,70.66L115.14,72.04A53.44,53.44 0 0 0 114.83,72.16ZM186.02,118.86A52.02,52.02 0 0 1 186.04,119.17L184.37,119.26A50.35,50.35 0 0 0 184.35,118.96ZM127.48,66.13A56.26,56.26 0 0 1 127.82,66.10L128.11,68.70A53.63,53.63 0 0 0 127.79,68.74ZM83.78,100.21A54.84,54.84 0 0 1 83.91,99.90L84.74,100.27A53.93,53.93 0 0 0 84.61,100.57ZM127.85,179.03A57.37,57.37 0 0 1 127.50,178.99L127.81,176.34A54.71,54.71 0 0 0 128.14,176.38ZM187.12,121.76A53.02,53.02 0 0 1 187.12,122.09L185.05,122.08A50.95,50.95 0 0 0 185.05,121.77ZM173.72,156.68A52.65,52.65 0 0 1 173.51,156.92L172.81,156.30A51.72,51.72 0 0 0 173.01,156.06ZM155.49,169.81A52.38,52.38 0 0 1 155.20,169.94L154.86,169.17A51.53,51.53 0 0 0 155.15,169.04ZM177.99,85.41A57.14,57.14 0 0 1 178.21,85.68L176.40,87.18A54.79,54.79 0 0 0 176.18,86.92ZM112.93,71.40A54.85,54.85 0 0 1 113.24,71.27L114.16,73.51A52.43,52.43 0 0 0 113.86,73.63ZM97.52,80.84A55.06,55.06 0 0 1 97.78,80.62L98.35,81.27A54.19,54.19 0 0 0 98.10,81.49ZM93.69,154.76A52.02,52.02 0 0 1 93.49,154.51L95.18,153.16A49.86,49.86 0 0 0 95.37,153.40ZM187.96,129.99A54.44,54.44 0 0 1 187.91,130.32L185.29,129.91A51.80,51.80 0 0 0 185.34,129.60ZM98.48,159.33A51.59,51.59 0 0 1 98.26,159.11L99.54,157.79A49.75,49.75 0 0 0 99.76,158.00ZM156.77,173.24A56.03,56.03 0 0 1 156.46,173.38L155.91,172.11A54.66,54.66 0 0 0 156.22,171.98ZM184.46,140.28A53.57,53.57 0 0 1 184.35,140.58L183.37,140.22A52.53,52.53 0 0 0 183.48,139.92ZM102.54,168.89A56.52,56.52 0 0 1 102.25,168.69L103.28,167.18A54.69,54.69 0 0 0 103.56,167.37ZM186.88,128.13A53.13,53.13 0 0 1 186.84,128.46L184.99,128.23A51.26,51.26 0 0 0 185.02,127.92ZM174.20,92.25A49.93,49.93 0 0 1 174.38,92.49L173.52,93.12A48.87,48.87 0 0 0 173.35,92.88ZM184.38,136.13A52.22,52.22 0 0 1 184.29,136.43L182.96,136.05A50.85,50.85 0 0 0 183.05,135.76ZM184.56,119.91A50.51,50.51 0 0 1 184.58,120.21L182.68,120.28A48.61,48.61 0 0 0 182.67,119.98ZM88.28,93.03A54.21,54.21 0 0 1 88.46,92.75L90.09,93.79A52.27,52.27 0 0 0 89.92,94.06ZM92.26,152.25A51.63,51.63 0 0 1 92.08,152.00L93.89,150.71A49.41,49.41 0 0 0 94.06,150.95ZM147.21,174.24A53.86,53.86 0 0 1 146.89,174.32L146.40,172.35A51.84,51.84 0 0 0 146.71,172.28ZM144.07,172.48A51.46,51.46 0 0 1 143.76,172.54L143.52,171.28A50.17,50.17 0 0 0 143.82,171.22ZM186.41,112.56A53.15,53.15 0 0 1 186.47,112.88L184.92,113.15A51.59,51.59 0 0 0 184.87,112.84ZM108.67,164.57A49.59,49.59 0 0 1 108.41,164.42L109.19,163.13A48.08,48.08 0 0 0 109.45,163.28ZM94.74,88.66A51.58,51.58 0 0 1 94.95,88.42L96.40,89.66A49.67,49.67 0 0 0 96.20,89.89ZM136.95,174.69A52.77,52.77 0 0 1 136.63,174.71L136.49,171.94A49.99,49.99 0 0 0 136.80,171.92ZM186.41,137.38A54.52,54.52 0 0 1 186.31,137.70L185.24,137.37A53.40,53.40 0 0 0 185.34,137.06ZM156.83,71.06A55.78,55.78 0 0 1 157.14,71.20L156.45,72.73A54.10,54.10 0 0 0 156.15,72.60ZM154.00,73.53A52.40,52.40 0 0 1 154.30,73.66L153.65,75.21A50.72,50.72 0 0 0 153.37,75.09ZM84.29,126.58A50.02,50.02 0 0 1 84.27,126.27L85.51,126.17A48.76,48.76 0 0 0 85.54,126.46ZM120.37,69.49A54.28,54.28 0 0 1 120.69,69.40L120.97,70.48A53.17,53.17 0 0 0 120.65,70.56ZM179.05,149.36A52.62,52.62 0 0 1 178.88,149.63L177.05,148.50A50.47,50.47 0 0 0 177.21,148.24ZM96.46,164.00A56.39,56.39 0 0 1 96.21,163.76L97.85,161.96A53.95,53.95 0 0 0 98.09,162.18ZM127.92,177.11A55.46,55.46 0 0 1 127.58,177.07L127.85,174.80A53.17,53.17 0 0 0 128.18,174.84ZM80.50,118.73A53.70,53.70 0 0 1 80.52,118.40L82.89,118.56A51.33,51.33 0 0 0 82.87,118.88ZM80.51,136.28A55.46,55.46 0 0 1 80.43,135.95L81.45,135.69A54.40,54.40 0 0 0 81.53,136.01ZM97.57,87.34A50.36,50.36 0 0 1 97.78,87.11L99.46,88.73A48.03,48.03 0 0 0 99.26,88.94ZM106.26,168.52A54.21,54.21 0 0 1 105.98,168.35L107.39,166.02A51.49,51.49 0 0 0 107.66,166.18ZM110.82,169.94A53.29,53.29 0 0 1 110.52,169.79L111.57,167.67A50.93,50.93 0 0 0 111.85,167.81ZM95.52,84.49A53.81,53.81 0 0 1 95.75,84.25L96.86,85.35A52.25,52.25 0 0 0 96.64,85.58ZM149.89,173.07A53.45,53.45 0 0 1 149.57,173.16L148.92,171.01A51.21,51.21 0 0 0 149.22,170.92ZM184.84,136.03A52.65,52.65 0 0 1 184.76,136.34L182.92,135.81A50.73,50.73 0 0 0 183.00,135.52ZM169.03,161.37A52.63,52.63 0 0 1 168.79,161.58L167.22,159.79A50.25,50.25 0 0 0 167.45,159.59ZM90.99,90.86A53.18,53.18 0 0 1 91.18,90.59L92.54,91.59A51.50,51.50 0 0 0 92.36,91.84ZM181.00,101.43A51.22,51.22 0 0 1 181.13,101.71L180.13,102.14A50.13,50.13 0 0 0 180.01,101.86ZM109.89,169.20A53.05,53.05 0 0 1 109.60,169.05L110.05,168.19A52.07,52.07 0 0 0 110.33,168.33ZM108.73,75.75A52.75,52.75 0 0 1 109.02,75.59L110.20,77.78A50.27,50.27 0 0 0 109.93,77.93ZM86.54,92.59A55.92,55.92 0 0 1 86.72,92.30L87.75,92.94A54.71,54.71 0 0 0 87.57,93.22ZM158.71,171.41A55.20,55.20 0 0 1 158.41,171.55L158.05,170.82A54.37,54.37 0 0 0 158.34,170.67ZM149.89,70.62A53.75,53.75 0 0 1 150.20,70.72L149.66,72.43A51.95,51.95 0 0 0 149.36,72.34ZM107.56,73.50A55.29,55.29 0 0 1 107.85,73.33L108.75,74.99A53.41,53.41 0 0 0 108.46,75.14ZM133.54,68.55A53.46,53.46 0 0 1 133.86,68.54L133.87,70.38A51.62,51.62 0 0 0 133.56,70.38ZM86.12,142.68A52.24,52.24 0 0 1 86.00,142.39L87.39,141.79A50.73,50.73 0 0 0 87.52,142.08ZM104.30,166.01A53.15,53.15 0 0 1 104.03,165.83L105.56,163.61A50.46,50.46 0 0 0 105.81,163.78ZM86.95,145.48A52.67,52.67 0 0 1 86.80,145.19L87.70,144.75A51.68,51.68 0 0 0 87.84,145.03ZM171.52,159.15A52.73,52.73 0 0 1 171.29,159.38L169.94,158.01A50.81,50.81 0 0 0 170.16,157.79ZM108.57,172.84A56.89,56.89 0 0 1 108.26,172.68L109.50,170.25A54.16,54.16 0 0 0 109.80,170.40ZM138.53,174.95A53.13,53.13 0 0 1 138.21,174.97L138.05,172.93A51.08,51.08 0 0 0 138.36,172.90ZM132.83,69.75A52.26,52.26 0 0 1 133.15,69.75L133.18,71.61A50.40,50.40 0 0 0 132.87,71.61ZM87.75,101.63A50.63,50.63 0 0 1 87.87,101.35L89.18,101.94A49.20,49.20 0 0 0 89.06,102.21ZM126.59,66.90A55.61,55.61 0 0 1 126.92,66.86L127.16,68.67A53.78,53.78 0 0 0 126.83,68.71ZM170.22,78.63A56.44,56.44 0 0 1 170.48,78.85L169.08,80.52A54.26,54.26 0 0 0 168.82,80.30ZM82.15,97.33A57.51,57.51 0 0 1 82.30,97.02L84.62,98.14A54.93,54.93 0 0 0 84.48,98.44ZM158.17,166.37A50.47,50.47 0 0 1 157.90,166.51L157.25,165.30A49.09,49.09 0 0 0 157.51,165.15ZM130.26,174.57A52.71,52.71 0 0 1 129.94,174.55L130.03,173.37A51.53,51.53 0 0 0 130.35,173.40ZM183.68,99.58A54.42,54.42 0 0 1 183.82,99.88L181.99,100.70A52.41,52.41 0 0 0 181.86,100.41ZM179.56,156.44A57.03,57.03 0 0 1 179.35,156.71L177.70,155.45A54.96,54.96 0 0 0 177.91,155.19ZM148.09,70.62A53.26,53.26 0 0 1 148.41,70.70L147.77,72.99A50.88,50.88 0 0 0 147.47,72.91ZM184.37,140.72A53.64,53.64 0 0 1 184.25,141.03L183.50,140.74A52.83,52.83 0 0 0 183.61,140.44ZM186.73,140.74A55.87,55.87 0 0 1 186.61,141.07L184.76,140.39A53.90,53.90 0 0 0 184.87,140.08ZM89.55,147.18A51.17,51.17 0 0 1 89.40,146.91L90.97,146.04A49.38,49.38 0 0 0 91.12,146.30ZM117.04,171.07A51.96,51.96 0 0 1 116.74,170.97L117.44,169.00A49.86,49.86 0 0 0 117.73,169.10ZM122.91,177.82A56.93,56.93 0 0 1 122.57,177.75L122.96,175.84A54.98,54.98 0 0 0 123.29,175.91ZM160.58,164.37A49.96,49.96 0 0 1 160.32,164.53L159.74,163.58A48.85,48.85 0 0 0 159.99,163.43ZM84.44,119.03A49.75,49.75 0 0 1 84.46,118.73L85.46,118.80A48.75,48.75 0 0 0 85.44,119.09ZM181.60,96.10A54.10,54.10 0 0 1 181.76,96.39L179.60,97.54A51.66,51.66 0 0 0 179.45,97.27ZM98.53,163.38A54.57,54.57 0 0 1 98.28,163.17L98.88,162.47A53.65,53.65 0 0 0 99.13,162.68ZM138.40,67.33A54.84,54.84 0 0 1 138.73,67.36L138.61,68.80A53.39,53.39 0 0 0 138.29,68.77ZM83.70,133.11A51.62,51.62 0 0 1 83.63,132.81L84.74,132.57A50.48,50.48 0 0 0 84.81,132.87ZM185.12,127.34A51.30,51.30 0 0 1 185.09,127.66L182.50,127.37A48.70,48.70 0 0 0 182.53,127.07ZM108.33,167.33A52.14,52.14 0 0 1 108.06,167.17L108.91,165.70A50.44,50.44 0 0 0 109.17,165.85ZM167.64,160.37A50.96,50.96 0 0 1 167.41,160.57L165.72,158.62A48.38,48.38 0 0 0 165.95,158.42ZM106.11,170.96A56.40,56.40 0 0 1 105.81,170.79L106.65,169.33A54.72,54.72 0 0 0 106.94,169.50ZM99.40,158.87A50.63,50.63 0 0 1 99.17,158.66L99.79,158.02A49.75,49.75 0 0 0 100.01,158.22ZM110.77,71.74A55.41,55.41 0 0 1 111.07,71.60L111.67,72.90A53.98,53.98 0 0 0 111.37,73.04ZM101.39,77.64A55.12,55.12 0 0 1 101.66,77.44L102.49,78.58A53.71,53.71 0 0 0 102.22,78.77ZM100.15,167.18A56.51,56.51 0 0 1 99.88,166.97L100.96,165.55A54.72,54.72 0 0 0 101.23,165.75ZM118.17,73.26A51.28,51.28 0 0 1 118.46,73.16L118.94,74.67A49.70,49.70 0 0 0 118.66,74.76ZM84.13,132.03A50.97,50.97 0 0 1 84.07,131.73L85.46,131.46A49.55,49.55 0 0 0 85.52,131.75ZM96.15,83.90A53.78,53.78 0 0 1 96.38,83.67L98.05,85.37A51.39,51.39 0 0 0 97.83,85.59ZM184.79,119.89A50.73,50.73 0 0 1 184.80,120.20L183.28,120.26A49.21,49.21 0 0 0 183.27,119.96ZM185.88,100.19A56.18,56.18 0 0 1 186.01,100.51L184.73,101.04A54.80,54.80 0 0 0 184.60,100.73ZM114.99,168.93A50.67,50.67 0 0 1 114.71,168.81L115.42,167.09A48.80,48.80 0 0 0 115.70,167.20ZM168.18,160.95A51.75,51.75 0 0 1 167.94,161.16L167.33,160.45A50.82,50.82 0 0 0 167.57,160.25ZM172.77,82.49A55.28,55.28 0 0 1 173.01,82.73L171.95,83.80A53.78,53.78 0 0 0 171.72,83.56ZM184.78,120.39A50.71,50.71 0 0 1 184.79,120.70L183.42,120.73A49.34,49.34 0 0 0 183.41,120.43ZM184.31,117.95A50.37,50.37 0 0 1 184.33,118.25L182.21,118.41A48.24,48.24 0 0 0 182.19,118.12ZM177.17,149.88A51.30,51.30 0 0 1 177.00,150.14L175.15,148.92A49.09,49.09 0 0 0 175.31,148.67ZM162.88,78.26A52.36,52.36 0 0 1 163.15,78.44L161.78,80.49A49.89,49.89 0 0 0 161.52,80.33ZM172.64,84.79A53.58,53.58 0 0 1 172.87,85.02L171.08,86.73A51.10,51.10 0 0 0 170.86,86.50ZM86.47,104.87A50.62,50.62 0 0 1 86.57,104.58L87.99,105.10A49.11,49.11 0 0 0 87.88,105.38ZM81.54,131.18A53.36,53.36 0 0 1 81.49,130.86L84.17,130.41A50.64,50.64 0 0 0 84.22,130.72ZM188.62,107.29A56.47,56.47 0 0 1 188.71,107.62L186.96,108.09A54.66,54.66 0 0 0 186.87,107.76ZM185.80,114.57A52.23,52.23 0 0 1 185.84,114.88L184.79,115.03A51.17,51.17 0 0 0 184.75,114.72ZM83.62,136.16A52.42,52.42 0 0 1 83.54,135.85L86.05,135.16A49.83,49.83 0 0 0 86.13,135.46ZM106.98,166.21A51.87,51.87 0 0 1 106.71,166.05L107.39,164.95A50.58,50.58 0 0 0 107.66,165.11ZM101.39,162.46A52.03,52.03 0 0 1 101.14,162.26L102.75,160.29A49.49,49.49 0 0 0 102.99,160.48ZM171.38,83.66A53.48,53.48 0 0 1 171.62,83.89L170.30,85.24A51.59,51.59 0 0 0 170.07,85.02ZM188.62,129.03A54.97,54.97 0 0 1 188.58,129.36L187.02,129.15A53.40,53.40 0 0 0 187.06,128.83ZM89.47,151.31A53.40,53.40 0 0 1 89.29,151.04L90.48,150.26A51.97,51.97 0 0 0 90.66,150.53ZM165.83,160.32A49.76,49.76 0 0 1 165.60,160.52L164.87,159.62A48.60,48.60 0 0 0 165.10,159.44ZM91.92,90.95A52.37,52.37 0 0 1 92.11,90.69L93.82,91.96A50.25,50.25 0 0 0 93.64,92.21ZM167.91,80.59A53.46,53.46 0 0 1 168.16,80.80L167.19,81.97A51.93,51.93 0 0 0 166.94,81.77ZM133.98,173.01A51.01,51.01 0 0 1 133.67,173.01L133.68,172.08A50.08,50.08 0 0 0 133.98,172.08ZM181.03,141.02A50.64,50.64 0 0 1 180.91,141.30L179.94,140.90A49.58,49.58 0 0 0 180.06,140.62ZM83.64,132.72A51.58,51.58 0 0 1 83.58,132.41L85.15,132.08A49.98,49.98 0 0 0 85.21,132.38ZM103.78,74.93A55.99,55.99 0 0 1 104.07,74.75L105.44,76.91A53.42,53.42 0 0 0 105.17,77.09ZM95.62,89.64A50.28,50.28 0 0 1 95.82,89.41L96.85,90.28A48.93,48.93 0 0 0 96.65,90.51ZM144.24,68.06A54.88,54.88 0 0 1 144.57,68.12L144.16,70.21A52.76,52.76 0 0 0 143.85,70.15ZM176.70,153.54A53.01,53.01 0 0 1 176.51,153.80L174.81,152.53A50.89,50.89 0 0 0 175.00,152.28ZM84.50,138.38A52.23,52.23 0 0 1 84.40,138.07L86.77,137.30A49.74,49.74 0 0 0 86.87,137.59ZM177.01,154.06A53.57,53.57 0 0 1 176.82,154.32L175.89,153.62A52.40,52.40 0 0 0 176.08,153.36ZM171.63,79.56A56.66,56.66 0 0 1 171.89,79.79L170.38,81.48A54.39,54.39 0 0 0 170.13,81.25ZM86.29,133.45A49.16,49.16 0 0 1 86.22,133.16L87.08,132.96A48.28,48.28 0 0 0 87.14,133.25ZM177.33,95.33A50.79,50.79 0 0 1 177.49,95.59L176.29,96.32A49.39,49.39 0 0 0 176.13,96.07ZM167.95,158.39A49.70,49.70 0 0 1 167.73,158.59L166.77,157.54A48.27,48.27 0 0 0 166.98,157.34ZM94.59,155.40A51.74,51.74 0 0 1 94.38,155.16L96.29,153.57A49.26,49.26 0 0 0 96.48,153.80ZM110.92,171.13A54.33,54.33 0 0 1 110.62,170.99L111.18,169.81A53.02,53.02 0 0 0 111.48,169.95ZM155.68,171.81A54.29,54.29 0 0 1 155.38,171.95L154.79,170.57A52.79,52.79 0 0 0 155.09,170.44ZM134.44,65.81A56.19,56.19 0 0 1 134.79,65.81L134.76,68.16A53.84,53.84 0 0 0 134.43,68.16ZM183.59,133.50A50.81,50.81 0 0 1 183.52,133.80L181.08,133.22A48.30,48.30 0 0 0 181.15,132.93ZM103.10,160.75A49.62,49.62 0 0 1 102.87,160.56L103.68,159.56A48.33,48.33 0 0 0 103.91,159.74ZM169.32,80.07A54.76,54.76 0 0 1 169.57,80.28L168.78,81.21A53.54,53.54 0 0 0 168.53,81.00ZM106.35,75.42A54.22,54.22 0 0 1 106.63,75.25L107.13,76.09A53.25,53.25 0 0 0 106.85,76.26ZM84.22,140.07A53.05,53.05 0 0 1 84.11,139.77L86.28,139.00A50.76,50.76 0 0 0 86.38,139.29ZM89.26,97.81A50.95,50.95 0 0 1 89.41,97.54L90.27,98.01A49.97,49.97 0 0 0 90.12,98.27ZM116.37,71.39A53.63,53.63 0 0 1 116.68,71.28L117.54,73.80A50.97,50.97 0 0 0 117.25,73.90ZM82.17,141.95A55.63,55.63 0 0 1 82.05,141.63L84.35,140.77A53.17,53.17 0 0 0 84.47,141.07ZM96.56,158.10A52.08,52.08 0 0 1 96.34,157.87L97.00,157.24A51.17,51.17 0 0 0 97.22,157.47ZM84.05,138.87A52.82,52.82 0 0 1 83.94,138.57L85.67,137.99A51.00,51.00 0 0 0 85.77,138.29ZM111.75,75.92A51.22,51.22 0 0 1 112.03,75.78L113.03,77.88A48.89,48.89 0 0 0 112.76,78.01ZM149.10,68.74A55.33,55.33 0 0 1 149.42,68.83L148.76,71.15A52.92,52.92 0 0 0 148.45,71.06ZM188.53,125.84A54.56,54.56 0 0 1 188.50,126.17L185.77,125.96A51.82,51.82 0 0 0 185.80,125.64ZM93.71,156.49A53.11,53.11 0 0 1 93.50,156.24L94.50,155.40A51.81,51.81 0 0 0 94.70,155.64ZM153.10,73.46A52.13,52.13 0 0 1 153.40,73.58L152.80,75.08A50.50,50.50 0 0 0 152.51,74.97ZM182.98,106.60A51.25,51.25 0 0 1 183.07,106.90L182.04,107.21A50.17,50.17 0 0 0 181.95,106.92ZM82.09,136.41A53.97,53.97 0 0 1 82.01,136.10L83.24,135.76A52.69,52.69 0 0 0 83.32,136.07ZM187.33,119.23A53.30,53.30 0 0 1 187.34,119.55L185.65,119.63A51.61,51.61 0 0 0 185.64,119.31ZM113.76,74.30A51.86,51.86 0 0 1 114.05,74.17L114.59,75.46A50.46,50.46 0 0 0 114.31,75.58ZM100.35,83.87A50.92,50.92 0 0 1 100.58,83.67L101.85,85.12A48.99,48.99 0 0 0 101.63,85.31ZM182.21,149.87A55.60,55.60 0 0 1 182.04,150.17L180.41,149.21A53.71,53.71 0 0 0 180.57,148.92ZM82.89,118.61A51.32,51.32 0 0 1 82.92,118.30L85.04,118.45A49.18,49.18 0 0 0 85.02,118.75ZM102.98,165.59A53.56,53.56 0 0 1 102.71,165.40L104.08,163.51A51.23,51.23 0 0 0 104.33,163.69ZM90.31,97.50A50.18,50.18 0 0 1 90.46,97.24L91.66,97.92A48.80,48.80 0 0 0 91.51,98.18ZM172.81,154.22A50.37,50.37 0 0 1 172.61,154.46L171.91,153.86A49.45,49.45 0 0 0 172.10,153.63ZM184.71,131.95A51.58,51.58 0 0 1 184.65,132.26L182.49,131.82A49.38,49.38 0 0 0 182.55,131.52ZM150.22,169.58A50.24,50.24 0 0 1 149.93,169.68L149.47,168.31A48.79,48.79 0 0 0 149.75,168.21ZM144.21,172.68A51.68,51.68 0 0 1 143.90,172.74L143.69,171.62A50.54,50.54 0 0 0 143.99,171.56ZM156.28,76.23A50.86,50.86 0 0 1 156.56,76.37L155.33,78.87A48.08,48.08 0 0 0 155.07,78.74ZM83.28,121.86A50.82,50.82 0 0 1 83.28,121.55L85.51,121.57A48.59,48.59 0 0 0 85.51,121.86ZM127.53,69.45A52.96,52.96 0 0 1 127.85,69.41L127.97,70.42A51.95,51.95 0 0 0 127.66,70.46ZM137.75,174.09A52.22,52.22 0 0 1 137.43,174.11L137.35,172.94A51.04,51.04 0 0 0 137.66,172.92ZM120.55,170.85A50.70,50.70 0 0 1 120.25,170.77L120.97,168.23A48.06,48.06 0 0 0 121.25,168.31ZM90.70,155.88A55.06,55.06 0 0 1 90.49,155.62L92.60,153.99A52.39,52.39 0 0 0 92.80,154.24ZM92.31,151.33A51.05,51.05 0 0 1 92.13,151.07L93.20,150.34A49.76,49.76 0 0 0 93.37,150.59ZM172.77,89.45A50.54,50.54 0 0 1 172.97,89.69L171.16,91.19A48.19,48.19 0 0 0 170.97,90.97ZM90.76,94.66A51.25,51.25 0 0 1 90.93,94.39L91.91,95.02A50.07,50.07 0 0 0 91.75,95.28ZM90.94,158.58A56.57,56.57 0 0 1 90.72,158.31L92.75,156.61A53.92,53.92 0 0 0 92.97,156.86ZM182.87,94.57A55.95,55.95 0 0 1 183.04,94.87L180.88,96.06A53.49,53.49 0 0 0 180.72,95.78ZM82.70,124.48A51.46,51.46 0 0 1 82.69,124.17L83.86,124.12A50.29,50.29 0 0 0 83.87,124.42Z" fill="#ffffff" fill-opacity="0.5"/>
<circle cx="134.1" cy="122.0" r="100.80" fill="none" stroke="#555" stroke-width="0.6"/>
<path d="M134.10,21.20L134.10,12.70M137.92,21.27L138.08,17.08M141.74,21.49L142.06,17.30M145.54,21.85L146.02,17.68M149.33,22.36L149.97,18.21M153.10,23.01L153.89,18.88M156.84,23.80L157.78,19.71M160.54,24.73L161.65,20.68M164.21,25.80L165.47,21.79M167.84,27.01L169.24,23.06M171.42,28.36L174.56,20.47M174.94,29.84L176.64,26.00M178.40,31.46L180.25,27.69M181.80,33.20L183.79,29.50M185.14,35.07L187.26,31.45M188.39,37.07L190.66,33.53M191.58,39.19L193.97,35.74M194.67,41.43L197.20,38.07M197.68,43.78L200.33,40.53M200.60,46.25L203.38,43.10M203.43,48.83L209.27,42.66M206.15,51.51L209.15,48.57M208.77,54.29L211.88,51.47M211.29,57.17L214.50,54.47M213.69,60.14L217.01,57.57M215.98,63.21L219.39,60.76M218.15,66.35L221.65,64.03M220.20,69.58L223.78,67.39M222.12,72.88L225.79,70.83M223.92,76.25L227.66,74.35M225.59,79.69L233.31,76.12M227.13,83.19L231.01,81.57M228.53,86.74L232.47,85.28M229.80,90.35L233.79,89.03M230.93,94.00L234.97,92.83M231.93,97.69L236.00,96.68M232.78,101.42L236.89,100.56M233.49,105.17L237.63,104.47M234.05,108.95L238.22,108.41M234.47,112.75L238.66,112.37M234.75,116.57L243.24,116.11M234.89,120.39L239.09,120.32M234.88,124.21L239.07,124.30M234.72,128.03L238.91,128.28M234.42,131.84L238.60,132.25M233.97,135.63L238.14,136.20M233.39,139.41L237.52,140.14M232.65,143.16L236.76,144.04M231.78,146.88L235.85,147.92M230.77,150.57L234.79,151.76M229.61,154.21L237.67,156.93M228.32,157.81L232.25,159.30M226.90,161.36L230.77,163.00M225.34,164.85L229.14,166.63M223.65,168.27L227.38,170.20M221.83,171.64L225.49,173.70M219.89,174.93L223.46,177.13M217.82,178.14L221.31,180.48M215.63,181.28L219.03,183.74M213.32,184.32L216.62,186.92M210.90,187.28L217.38,192.79M208.37,190.15L211.47,192.99M205.74,192.91L208.72,195.87M203.00,195.58L205.87,198.64M200.16,198.14L202.91,201.31M197.22,200.59L199.85,203.86M194.20,202.92L196.70,206.30M191.09,205.14L193.46,208.61M187.89,207.25L190.14,210.80M184.62,209.22L186.73,212.86M181.28,211.08L185.26,218.59M177.87,212.80L179.69,216.58M174.40,214.40L176.07,218.25M170.86,215.86L172.40,219.77M167.28,217.18L168.66,221.15M163.65,218.37L164.88,222.39M159.97,219.42L161.05,223.48M156.26,220.33L157.18,224.43M152.52,221.10L153.28,225.23M148.75,221.73L149.36,225.89M144.95,222.21L145.87,230.66M141.15,222.55L141.44,226.74M137.33,222.75L137.46,226.95M133.51,222.80L133.48,227.00M129.69,222.70L129.50,226.90M125.87,222.46L125.53,226.65M122.07,222.08L121.57,226.25M118.28,221.55L117.62,225.70M114.52,220.88L113.70,225.00M110.79,220.07L109.81,224.15M107.08,219.11L104.81,227.30M103.42,218.02L102.14,222.02M99.80,216.79L98.38,220.74M96.24,215.42L94.66,219.31M92.72,213.92L91.00,217.74M89.27,212.28L87.40,216.04M85.88,210.52L83.87,214.20M82.55,208.62L80.41,212.23M79.31,206.61L77.02,210.13M76.14,204.47L73.72,207.91M73.05,202.21L67.91,208.98M70.06,199.84L67.39,203.08M67.15,197.36L64.36,200.50M64.34,194.76L61.44,197.80M61.63,192.07L58.61,194.99M59.03,189.27L55.90,192.07M56.53,186.37L53.30,189.06M54.15,183.39L50.82,185.95M51.88,180.31L48.45,182.74M49.73,177.15L46.21,179.45M47.70,173.92L40.41,178.29M45.79,170.60L42.11,172.63M44.01,167.22L40.26,169.10M42.36,163.77L38.54,165.51M40.84,160.26L36.96,161.86M39.46,156.70L35.52,158.15M38.21,153.09L34.22,154.38M37.10,149.43L33.06,150.57M36.13,145.73L32.05,146.72M35.30,142.00L31.19,142.83M34.62,138.24L26.23,139.61M34.07,134.46L29.91,134.98M33.67,130.66L29.49,131.02M33.42,126.84L29.22,127.04M33.31,123.02L29.11,123.07M33.34,119.20L29.14,119.08M33.52,115.38L29.33,115.11M33.84,111.57L29.66,111.14M34.31,107.78L30.15,107.19M34.92,104.01L30.79,103.26M35.67,100.26L27.37,98.43M36.57,96.54L32.50,95.48M37.60,92.86L33.58,91.65M38.78,89.23L34.80,87.86M40.09,85.64L36.17,84.12M41.53,82.10L37.68,80.44M43.11,78.62L39.32,76.81M44.82,75.20L41.10,73.25M46.66,71.85L43.02,69.76M48.63,68.57L45.06,66.34M50.71,65.37L43.68,60.59M52.92,62.25L49.54,59.76M55.24,59.21L51.96,56.60M57.68,56.27L54.50,53.53M60.23,53.42L57.15,50.56M62.88,50.67L59.91,47.69M65.64,48.02L62.78,44.93M68.49,45.48L65.76,42.29M71.44,43.04L68.83,39.75M74.48,40.72L71.99,37.34M77.60,38.52L72.84,31.48M80.81,36.44L78.59,32.87M84.09,34.48L82.01,30.83M87.44,32.65L85.50,28.92M90.86,30.94L89.06,27.15M94.35,29.37L92.69,25.51M97.89,27.93L96.38,24.01M101.48,26.62L100.12,22.65M105.12,25.46L103.91,21.43M108.80,24.43L107.75,20.36M112.52,23.54L110.70,15.23M116.27,22.79L115.52,18.66M120.04,22.19L119.46,18.03M123.84,21.72L123.41,17.55M127.64,21.41L127.38,17.22M131.46,21.23L131.35,17.04" stroke="#444" stroke-width="0.65" fill="none"/>
<text transform="translate(132.70 8.94)" font-size="7.0" fill="#141414" stroke="#141414" stroke-width="0.15" style="font-weight:bold">0</text>
<text transform="translate(176.26 19.84) scale(0.930 1)" font-size="7.3" fill="#141414" stroke="#141414" stroke-width="0.15" style="font-weight:bold">1000</text>
<text transform="translate(213.16 40.64) scale(0.930 1)" font-size="7.3" fill="#141414" stroke="#141414" stroke-width="0.15" style="font-weight:bold">2000</text>
<text transform="translate(237.16 77.19) scale(0.930 1)" font-size="7.3" fill="#141414" stroke="#141414" stroke-width="0.15" style="font-weight:bold">3000</text>
<text transform="translate(246.96 118.89) scale(0.930 1)" font-size="7.3" fill="#141414" stroke="#141414" stroke-width="0.15" style="font-weight:bold">4000</text>
<text transform="translate(242.31 162.04) scale(0.930 1)" font-size="7.3" fill="#141414" stroke="#141414" stroke-width="0.15" style="font-weight:bold">5000</text>
<text transform="translate(214.16 202.64) scale(0.930 1)" font-size="7.3" fill="#141414" stroke="#141414" stroke-width="0.15" style="font-weight:bold">6000</text>
<text transform="translate(182.16 228.89) scale(0.930 1)" font-size="7.3" fill="#141414" stroke="#141414" stroke-width="0.15" style="font-weight:bold">7000</text>
<text transform="translate(139.26 239.64) scale(0.930 1)" font-size="7.3" fill="#141414" stroke="#141414" stroke-width="0.15" style="font-weight:bold">8000</text>
<text transform="translate(96.21 236.74) scale(0.930 1)" font-size="7.3" fill="#141414" stroke="#141414" stroke-width="0.15" style="font-weight:bold">9000</text>
<text transform="translate(49.38 218.09)" font-size="7.0" fill="#141414" stroke="#141414" stroke-width="0.15" style="font-weight:bold">10,000</text>
<text transform="translate(16.82 186.19)" font-size="7.0" fill="#141414" stroke="#141414" stroke-width="0.15" style="font-weight:bold">11,000</text>
<text transform="translate(3.38 144.89)" font-size="7.0" fill="#141414" stroke="#141414" stroke-width="0.15" style="font-weight:bold">12,000</text>
<text transform="translate(3.38 102.08)" font-size="7.0" fill="#141414" stroke="#141414" stroke-width="0.15" style="font-weight:bold">13,000</text>
<text transform="translate(18.18 62.44)" font-size="7.0" fill="#141414" stroke="#141414" stroke-width="0.15" style="font-weight:bold">14,000</text>
<text transform="translate(50.98 32.38)" font-size="7.0" fill="#141414" stroke="#141414" stroke-width="0.15" style="font-weight:bold">15,000</text>
<text transform="translate(89.38 14.04)" font-size="7.0" fill="#141414" stroke="#141414" stroke-width="0.15" style="font-weight:bold">16,000</text>
<path d="M134.10,25.10A96.90,96.90 0 0 1 136.64,25.13L136.48,31.23A90.80,90.80 0 0 0 134.10,31.20Z" fill="#0d1a78" stroke="#0d1a78" stroke-width="0.35"/>
<path d="M136.64,25.13A96.90,96.90 0 0 1 170.65,32.26L168.35,37.91A90.80,90.80 0 0 0 136.48,31.23Z" fill="#ff0000"/>
<path d="M171.16,32.47A96.90,96.90 0 0 1 173.56,33.50L171.08,39.07A90.80,90.80 0 0 0 168.83,38.10Z" fill="#0d1a78" stroke="#0d1a78" stroke-width="0.35"/>
<path d="M173.09,33.29A96.90,96.90 0 0 1 218.12,73.73L212.83,76.76A90.80,90.80 0 0 0 170.63,38.87Z" fill="#ff0000"/>
<path d="M218.12,73.73A96.90,96.90 0 0 1 219.47,76.17L214.10,79.05A90.80,90.80 0 0 0 212.83,76.76Z" fill="#0d1a78" stroke="#0d1a78" stroke-width="0.35"/>
<path d="M219.49,76.20A96.90,96.90 0 0 1 230.27,110.15L224.22,110.90A90.80,90.80 0 0 0 214.12,79.08Z" fill="#fde900" stroke="#8a7a00" stroke-width="0.35"/>
<path d="M230.29,110.30A96.90,96.90 0 0 1 230.57,112.93L224.50,113.50A90.80,90.80 0 0 0 224.24,111.03Z" fill="#0d1a78" stroke="#0d1a78" stroke-width="0.35"/>
<path d="M224.49,113.43A90.80,90.80 0 0 1 224.69,115.87L218.71,116.27A84.80,84.80 0 0 0 218.52,114.00Z" fill="#0d1a78" stroke="#0d1a78" stroke-width="0.35"/>
<path d="M230.78,115.49A96.90,96.90 0 0 1 230.92,118.02L224.82,118.27A90.80,90.80 0 0 0 224.69,115.90Z" fill="#0d1a78" stroke="#0d1a78" stroke-width="0.35"/>
<path d="M230.92,118.02A96.90,96.90 0 0 1 224.95,155.70L219.23,153.58A90.80,90.80 0 0 0 224.82,118.27Z" fill="#fde900" stroke="#8a7a00" stroke-width="0.35"/>
<path d="M224.94,155.74A96.90,96.90 0 0 1 224.00,158.17L218.34,155.89A90.80,90.80 0 0 0 219.22,153.61Z" fill="#0d1a78" stroke="#0d1a78" stroke-width="0.35"/>
<path d="M218.32,155.92A90.80,90.80 0 0 1 217.41,158.12L211.90,155.73A84.80,84.80 0 0 0 212.76,153.68Z" fill="#0d1a78" stroke="#0d1a78" stroke-width="0.35"/>
<path d="M217.39,158.15A90.80,90.80 0 0 1 216.36,160.44L210.93,157.90A84.80,84.80 0 0 0 211.89,155.76Z" fill="#0d1a78" stroke="#0d1a78" stroke-width="0.35"/>
<path d="M215.90,161.40A90.80,90.80 0 0 1 214.88,163.47L209.54,160.73A84.80,84.80 0 0 0 210.50,158.80Z" fill="#0d1a78" stroke="#0d1a78" stroke-width="0.35"/>
<path d="M214.88,163.47A90.80,90.80 0 0 1 213.73,165.63L208.47,162.75A84.80,84.80 0 0 0 209.54,160.73Z" fill="#0d1a78" stroke="#0d1a78" stroke-width="0.35"/>
<path d="M219.06,168.59A96.90,96.90 0 0 1 178.94,207.90L176.11,202.50A90.80,90.80 0 0 0 213.71,165.66Z" fill="#f8a2ee"/>
<path d="M176.11,202.50A90.80,90.80 0 0 1 173.93,203.60L171.30,198.21A84.80,84.80 0 0 0 173.34,197.18Z" fill="#0d1a78" stroke="#0d1a78" stroke-width="0.35"/>
<path d="M176.51,209.13A96.90,96.90 0 0 1 174.21,210.21L171.69,204.65A90.80,90.80 0 0 0 173.84,203.64Z" fill="#0d1a78" stroke="#0d1a78" stroke-width="0.35"/>
<path d="M173.78,210.40A96.90,96.90 0 0 1 149.52,217.66L148.55,211.64A90.80,90.80 0 0 0 171.28,204.84Z" fill="#f8a2ee"/>
<path d="M149.49,217.67A96.90,96.90 0 0 1 146.72,218.07L145.93,212.03A90.80,90.80 0 0 0 148.52,211.65Z" fill="#0d1a78" stroke="#0d1a78" stroke-width="0.35"/>
<path d="M146.69,218.08A96.90,96.90 0 0 1 140.54,218.69L140.14,212.60A90.80,90.80 0 0 0 145.89,212.03Z" fill="#66cc00" stroke="#3f8a00" stroke-width="0.35"/>
<path d="M140.91,218.66A96.90,96.90 0 0 1 115.93,217.18L117.07,211.19A90.80,90.80 0 0 0 140.48,212.58Z" fill="#66cc00" stroke="#3f8a00" stroke-width="0.35"/>
<path d="M115.93,217.18A96.90,96.90 0 0 1 88.84,207.68L91.69,202.29A90.80,90.80 0 0 0 117.07,211.19Z" fill="#f8a2ee"/>
<path d="M88.84,207.68A96.90,96.90 0 0 1 86.52,206.41L89.51,201.10A90.80,90.80 0 0 0 91.69,202.29Z" fill="#0d1a78" stroke="#0d1a78" stroke-width="0.35"/>
<path d="M86.52,206.41A96.90,96.90 0 0 1 75.80,199.40L79.47,194.52A90.80,90.80 0 0 0 89.51,201.10Z" fill="#fde900" stroke="#8a7a00" stroke-width="0.35"/>
<path d="M75.80,199.40A96.90,96.90 0 0 1 73.79,197.85L77.59,193.07A90.80,90.80 0 0 0 79.47,194.52Z" fill="#0d1a78" stroke="#0d1a78" stroke-width="0.35"/>
<path d="M73.79,197.85A96.90,96.90 0 0 1 65.65,190.59L69.96,186.27A90.80,90.80 0 0 0 77.59,193.07Z" fill="#fde900" stroke="#8a7a00" stroke-width="0.35"/>
<path d="M65.83,190.77A96.90,96.90 0 0 1 40.59,147.41L46.48,145.81A90.80,90.80 0 0 0 70.13,186.44Z" fill="#fde900" stroke="#8a7a00" stroke-width="0.35"/>
<path d="M40.59,147.41A96.90,96.90 0 0 1 39.96,144.96L45.89,143.51A90.80,90.80 0 0 0 46.48,145.81Z" fill="#0d1a78" stroke="#0d1a78" stroke-width="0.35"/>
<path d="M39.96,144.96A96.90,96.90 0 0 1 39.40,142.52L45.36,141.23A90.80,90.80 0 0 0 45.89,143.51Z" fill="#0d1a78" stroke="#0d1a78" stroke-width="0.35"/>
<path d="M39.39,142.49A96.90,96.90 0 0 1 38.86,139.86L44.86,138.73A90.80,90.80 0 0 0 45.35,141.20Z" fill="#0d1a78" stroke="#0d1a78" stroke-width="0.35"/>
<path d="M38.86,139.86A96.90,96.90 0 0 1 49.57,74.62L54.89,77.60A90.80,90.80 0 0 0 44.86,138.73Z" fill="#fde900" stroke="#8a7a00" stroke-width="0.35"/>
<path d="M54.83,77.72A90.80,90.80 0 0 1 65.08,63.00L69.64,66.90A84.80,84.80 0 0 0 60.07,80.65Z" fill="#fde900" stroke="#8a7a00" stroke-width="0.35"/>
<path d="M65.08,63.00A90.80,90.80 0 0 1 66.65,61.21L71.11,65.23A84.80,84.80 0 0 0 69.64,66.90Z" fill="#0d1a78" stroke="#0d1a78" stroke-width="0.35"/>
<path d="M62.22,57.02A96.90,96.90 0 0 1 96.09,32.87L98.48,38.48A90.80,90.80 0 0 0 66.74,61.11Z" fill="#e412a8"/>
<path d="M96.09,32.87A96.90,96.90 0 0 1 98.54,31.86L100.77,37.54A90.80,90.80 0 0 0 98.48,38.48Z" fill="#0d1a78" stroke="#0d1a78" stroke-width="0.35"/>
<path d="M100.74,37.55A90.80,90.80 0 0 1 103.00,36.69L105.05,42.33A84.80,84.80 0 0 0 102.95,43.13Z" fill="#0d1a78" stroke="#0d1a78" stroke-width="0.35"/>
<circle cx="134.1" cy="122.0" r="90.80" fill="none" stroke="#2a2030" stroke-width="0.8"/>
<text transform="translate(146.42 37.46) scale(0.830 1)" font-size="7.1" fill="#c8202c" stroke="#c8202c" stroke-width="0.15" style="font-weight:bold">12S</text>
<text transform="translate(184.77 60.21) scale(0.830 1)" font-size="7.1" fill="#c8202c" stroke="#c8202c" stroke-width="0.15" style="font-weight:bold">16S</text>
<line x1="135.60" y1="30.6" x2="135.60" y2="37.2" stroke="#1b2a6a" stroke-width="0.75"/>
<text transform="translate(130.31 42.73) scale(0.830 1)" font-size="7.1" fill="#18224e" stroke="#18224e" stroke-width="0.15" style="font-weight:bold">Phe</text>
<line x1="171.60" y1="37.8" x2="167.60" y2="42.4" stroke="#1b2a6a" stroke-width="0.75"/>
<text transform="translate(160.75 46.96) scale(0.830 1)" font-size="7.1" fill="#18224e" stroke="#18224e" stroke-width="0.15" style="font-weight:bold">Val</text>
<line x1="214.60" y1="76.9" x2="207.80" y2="80.6" stroke="#1b2a6a" stroke-width="0.75"/>
<text transform="translate(197.74 84.99) scale(0.830 1)" font-size="7.1" fill="#18224e" stroke="#18224e" stroke-width="0.15" style="font-weight:bold">Leu</text>
<text transform="translate(206.77 95.48) scale(0.830 1)" font-size="7.1" fill="#ff9922" stroke="#ff9922" stroke-width="0.15" style="font-weight:bold">ND1</text>
<line x1="217.00" y1="108.4" x2="225.20" y2="111.7" stroke="#1b2a6a" stroke-width="0.75"/>
<text transform="translate(208.63 107.43) scale(0.830 1)" font-size="7.1" fill="#18224e" stroke="#18224e" stroke-width="0.15" style="font-weight:bold">Ile</text>
<line x1="212.60" y1="115.0" x2="220.00" y2="115.0" stroke="#1b2a6a" stroke-width="0.75"/>
<text transform="translate(201.71 115.88) scale(0.830 1)" font-size="7.1" fill="#18224e" stroke="#18224e" stroke-width="0.15" style="font-weight:bold">Gln</text>
<line x1="220.60" y1="122.2" x2="225.40" y2="117.6" stroke="#1b2a6a" stroke-width="0.75"/>
<text transform="translate(210.43 127.09) scale(0.830 1)" font-size="7.1" fill="#18224e" stroke="#18224e" stroke-width="0.15" style="font-weight:bold">Met</text>
<text transform="translate(210.12 137.53) scale(0.830 1)" font-size="7.1" fill="#ff9922" stroke="#ff9922" stroke-width="0.15" style="font-weight:bold">ND2</text>
<line x1="214.80" y1="146.6" x2="220.80" y2="155.0" stroke="#1b2a6a" stroke-width="0.75"/>
<text transform="translate(208.45 144.91) scale(0.830 1)" font-size="7.1" fill="#18224e" stroke="#18224e" stroke-width="0.15" style="font-weight:bold">Trp</text>
<line x1="206.60" y1="148.6" x2="214.20" y2="156.0" stroke="#1b2a6a" stroke-width="0.75"/>
<text transform="translate(198.88 148.58) scale(0.830 1)" font-size="7.1" fill="#18224e" stroke="#18224e" stroke-width="0.15" style="font-weight:bold">Ala</text>
<line x1="204.00" y1="152.6" x2="213.20" y2="157.6" stroke="#1b2a6a" stroke-width="0.75"/>
<text transform="translate(193.13 153.51) scale(0.830 1)" font-size="7.1" fill="#18224e" stroke="#18224e" stroke-width="0.15" style="font-weight:bold">Asn</text>
<line x1="201.60" y1="157.0" x2="211.60" y2="159.6" stroke="#12b4ea" stroke-width="0.75"/>
<text transform="translate(188.52 159.38) scale(0.830 1)" font-size="7.1" fill="#12b4ea" stroke="#12b4ea" stroke-width="0.15" style="font-weight:bold">OriL</text>
<line x1="203.00" y1="162.6" x2="211.60" y2="161.8" stroke="#1b2a6a" stroke-width="0.75"/>
<text transform="translate(192.76 164.23) scale(0.830 1)" font-size="7.1" fill="#18224e" stroke="#18224e" stroke-width="0.15" style="font-weight:bold">Cys</text>
<line x1="205.00" y1="167.8" x2="212.20" y2="163.6" stroke="#1b2a6a" stroke-width="0.75"/>
<text transform="translate(195.78 170.91) scale(0.830 1)" font-size="7.1" fill="#18224e" stroke="#18224e" stroke-width="0.15" style="font-weight:bold">Tyr</text>
<text transform="translate(180.79 185.36) scale(0.830 1)" font-size="7.1" fill="#ff6ae6" stroke="#ff6ae6" stroke-width="0.15" style="font-weight:bold">COX1</text>
<text transform="translate(152.59 204.96) scale(0.830 1)" font-size="7.1" fill="#ff6ae6" stroke="#ff6ae6" stroke-width="0.15" style="font-weight:bold">COX2</text>
<line x1="147.90" y1="201.4" x2="148.00" y2="212.2" stroke="#1b2a6a" stroke-width="0.75"/>
<text transform="translate(143.53 200.41) scale(0.830 1)" font-size="7.1" fill="#18224e" stroke="#18224e" stroke-width="0.15" style="font-weight:bold">Lys</text>
<line x1="138.80" y1="206.2" x2="140.60" y2="211.6" stroke="#7cd23c" stroke-width="0.75"/>
<text transform="translate(130.75 205.58) scale(0.830 1)" font-size="7.1" fill="#7cd23c" stroke="#7cd23c" stroke-width="0.15" style="font-weight:bold">ATP8</text>
<text transform="translate(121.15 211.16) scale(0.830 1)" font-size="7.1" fill="#7cd23c" stroke="#7cd23c" stroke-width="0.15" style="font-weight:bold">ATP6</text>
<text transform="translate(99.44 204.96) scale(0.830 1)" font-size="7.1" fill="#ff6ae6" stroke="#ff6ae6" stroke-width="0.15" style="font-weight:bold">COX3</text>
<line x1="94.00" y1="195.6" x2="89.60" y2="201.6" stroke="#1b2a6a" stroke-width="0.75"/>
<text transform="translate(93.32 194.20) scale(0.830 1)" font-size="7.1" fill="#18224e" stroke="#18224e" stroke-width="0.15" style="font-weight:bold">Gly</text>
<line x1="84.40" y1="194.2" x2="82.60" y2="198.4" stroke="#ff9922" stroke-width="0.75"/>
<text transform="rotate(34 87.45 192.55) translate(81.72 194.86) scale(0.830 1)" font-size="7.1" fill="#ff9922" stroke="#ff9922" stroke-width="0.15" style="font-weight:bold">ND3</text>
<line x1="80.20" y1="188.2" x2="77.20" y2="193.2" stroke="#1b2a6a" stroke-width="0.75"/>
<text transform="translate(78.74 187.16) scale(0.830 1)" font-size="7.1" fill="#18224e" stroke="#18224e" stroke-width="0.15" style="font-weight:bold">Arg</text>
<line x1="75.40" y1="181.4" x2="73.40" y2="187.4" stroke="#ff9922" stroke-width="0.75"/>
<text transform="translate(68.56 180.48) scale(0.830 1)" font-size="7.1" fill="#ff9922" stroke="#ff9922" stroke-width="0.15" style="font-weight:bold">ND4L</text>
<text transform="translate(57.22 167.53) scale(0.830 1)" font-size="7.1" fill="#ff9922" stroke="#ff9922" stroke-width="0.15" style="font-weight:bold">ND4</text>
<line x1="46.20" y1="145.6" x2="54.80" y2="145.6" stroke="#1b2a6a" stroke-width="0.75"/>
<text transform="translate(55.64 147.68) scale(0.830 1)" font-size="7.1" fill="#18224e" stroke="#18224e" stroke-width="0.15" style="font-weight:bold">His</text>
<line x1="46.20" y1="142.0" x2="52.20" y2="139.2" stroke="#1b2a6a" stroke-width="0.75"/>
<text transform="translate(52.89 141.21) scale(0.830 1)" font-size="7.1" fill="#18224e" stroke="#18224e" stroke-width="0.15" style="font-weight:bold">Ser</text>
<line x1="45.60" y1="139.8" x2="51.40" y2="134.8" stroke="#1b2a6a" stroke-width="0.75"/>
<text transform="translate(51.04 134.94) scale(0.830 1)" font-size="7.1" fill="#18224e" stroke="#18224e" stroke-width="0.15" style="font-weight:bold">Leu</text>
<text transform="translate(46.42 110.49) scale(0.830 1)" font-size="7.1" fill="#ff9922" stroke="#ff9922" stroke-width="0.15" style="font-weight:bold">ND5</text>
<text transform="translate(65.47 77.96) scale(0.830 1)" font-size="7.1" fill="#ff9922" stroke="#ff9922" stroke-width="0.15" style="font-weight:bold">ND6</text>
<line x1="69.80" y1="63.6" x2="75.00" y2="67.6" stroke="#1b2a6a" stroke-width="0.75"/>
<text transform="translate(74.81 71.78) scale(0.830 1)" font-size="7.1" fill="#18224e" stroke="#18224e" stroke-width="0.15" style="font-weight:bold">Glu</text>
<text transform="translate(76.43 56.00) scale(0.830 1)" font-size="7.1" fill="#a840e0" stroke="#a840e0" stroke-width="0.15" style="font-weight:bold">Cytb</text>
<line x1="98.60" y1="36.6" x2="98.00" y2="43.6" stroke="#1b2a6a" stroke-width="0.75"/>
<text transform="translate(93.34 48.97) scale(0.830 1)" font-size="7.1" fill="#18224e" stroke="#18224e" stroke-width="0.15" style="font-weight:bold">Thr</text>
<line x1="102.80" y1="39.6" x2="107.20" y2="49.0" stroke="#1b2a6a" stroke-width="0.75"/>
<text transform="translate(104.53 53.44) scale(0.830 1)" font-size="7.1" fill="#18224e" stroke="#18224e" stroke-width="0.15" style="font-weight:bold">Pro</text>
<text transform="rotate(-7 118.40 36.70) translate(109.62 38.19) scale(0.980 1)" font-size="6.2" fill="#12b4ea" stroke="#12b4ea" stroke-width="0.15" style="font-weight:bold">D-loop</text>
<line x1="169.00" y1="193.6" x2="173.80" y2="199.6" stroke="#1b2a6a" stroke-width="0.75"/>
<text transform="translate(162.19 193.16) scale(0.830 1)" font-size="7.1" fill="#18224e" stroke="#18224e" stroke-width="0.15" style="font-weight:bold">Ser</text>
<text x="92.34" y="113.6" font-size="7.3" letter-spacing="0.175" fill="#0a0a0a" stroke="#0a0a0a" stroke-width="0.25" style="font-weight:bold;font-style:italic">Paramisgurnus dabryanus</text>
<text transform="translate(89.40 127.2) scale(1.106 1)" font-size="6.7" fill="#1a1a1a" stroke="#1a1a1a" stroke-width="0.28">Mitochondrial</text>
<text transform="translate(135.00 127.2) scale(1.007 1)" font-size="6.7" fill="#1a1a1a" stroke="#1a1a1a" stroke-width="0.28">type</text>
<text transform="translate(150.20 127.2) scale(1.000 1)" font-size="6.7" fill="#8a8a8a" stroke="#8a8a8a" stroke-width="0.28">I</text>
<text transform="translate(154.40 127.2) scale(1.040 1)" font-size="6.7" fill="#1a1a1a" stroke="#1a1a1a" stroke-width="0.28">Genomes</text>
<text transform="translate(122.05 137.13)" font-size="7.0" fill="#1a1a1a" stroke="#1a1a1a" stroke-width="0.28">16,569 bp</text>
<path d="M366.00,122.0a54.1,54.1 0 1 0 108.20,0a54.1,54.1 0 1 0 -108.20,0ZM376.30,122.0a43.8,43.8 0 1 1 87.60,0a43.8,43.8 0 1 1 -87.60,0Z" fill="#a9c0c4"/>
<path d="M366.00,122.0a54.1,54.1 0 1 0 108.20,0a54.1,54.1 0 1 0 -108.20,0ZM368.10,122.0a52.0,52.0 0 1 1 104.00,0a52.0,52.0 0 1 1 -104.00,0Z" fill="#9fb7bc"/>
<path d="M375.30,122.0a44.8,44.8 0 1 0 89.60,0a44.8,44.8 0 1 0 -89.60,0ZM376.30,122.0a43.8,43.8 0 1 1 87.60,0a43.8,43.8 0 1 1 -87.60,0Z" fill="#a2babf"/>
<path d="M420.10,70.20A51.80,51.80 0 0 1 420.35,70.20L420.33,75.72A46.28,46.28 0 0 0 420.10,75.72ZM420.54,71.15A50.85,50.85 0 0 1 420.79,71.15L420.73,75.88A46.12,46.12 0 0 0 420.50,75.88ZM420.99,70.91A51.10,51.10 0 0 1 421.24,70.91L421.13,75.88A46.14,46.14 0 0 0 420.91,75.87ZM421.36,73.97A48.05,48.05 0 0 1 421.59,73.97L421.49,77.14A44.88,44.88 0 0 0 421.27,77.13ZM422.21,73.64A48.41,48.41 0 0 1 422.45,73.65L422.36,75.37A46.68,46.68 0 0 0 422.14,75.36ZM422.81,70.27A51.80,51.80 0 0 1 423.06,70.28L422.82,74.58A47.49,47.49 0 0 0 422.59,74.57ZM422.95,75.43A46.65,46.65 0 0 1 423.18,75.45L423.07,77.03A45.07,45.07 0 0 0 422.85,77.01ZM423.40,74.79A47.32,47.32 0 0 1 423.63,74.81L423.44,77.35A44.78,44.78 0 0 0 423.22,77.33ZM423.92,73.41A48.74,48.74 0 0 1 424.16,73.43L423.82,77.47A44.69,44.69 0 0 0 423.61,77.45ZM424.59,70.71A51.48,51.48 0 0 1 424.84,70.74L424.44,75.07A47.13,47.13 0 0 0 424.21,75.05ZM425.01,70.99A51.24,51.24 0 0 1 425.26,71.02L424.74,76.14A46.10,46.10 0 0 0 424.52,76.11ZM425.51,70.48A51.80,51.80 0 0 1 425.77,70.51L425.07,76.84A45.43,45.43 0 0 0 424.85,76.81ZM425.96,70.53A51.80,51.80 0 0 1 426.22,70.56L425.66,75.21A47.12,47.12 0 0 0 425.43,75.18ZM426.00,73.98A48.38,48.38 0 0 1 426.23,74.01L425.84,77.08A45.29,45.29 0 0 0 425.62,77.05ZM427.31,70.70A51.80,51.80 0 0 1 427.56,70.74L426.70,76.68A45.80,45.80 0 0 0 426.47,76.64ZM427.76,70.77A51.80,51.80 0 0 1 428.01,70.81L427.35,75.08A47.47,47.47 0 0 0 427.12,75.05ZM428.59,71.29A51.42,51.42 0 0 1 428.83,71.33L428.14,75.36A47.33,47.33 0 0 0 427.91,75.32ZM428.38,75.03A47.69,47.69 0 0 1 428.61,75.07L428.27,76.94A45.79,45.79 0 0 0 428.05,76.90ZM429.20,72.92A49.92,49.92 0 0 1 429.44,72.96L428.88,75.89A46.94,46.94 0 0 0 428.65,75.85ZM430.43,71.24A51.80,51.80 0 0 1 430.68,71.29L429.80,75.51A47.49,47.49 0 0 0 429.57,75.46ZM430.21,76.38A46.73,46.73 0 0 1 430.44,76.43L430.03,78.21A44.90,44.90 0 0 0 429.82,78.16ZM431.28,73.56A49.71,49.71 0 0 1 431.52,73.62L430.47,78.07A45.13,45.13 0 0 0 430.25,78.02ZM431.94,72.70A50.70,50.70 0 0 1 432.18,72.76L430.86,78.13A45.17,45.17 0 0 0 430.65,78.08ZM432.31,74.79A48.76,48.76 0 0 1 432.54,74.85L431.57,78.54A44.95,44.95 0 0 0 431.35,78.48ZM433.51,71.97A51.80,51.80 0 0 1 433.75,72.03L432.07,78.20A45.41,45.41 0 0 0 431.85,78.14ZM433.94,72.08A51.80,51.80 0 0 1 434.19,72.15L432.48,78.20A45.51,45.51 0 0 0 432.26,78.14ZM434.38,72.21A51.80,51.80 0 0 1 434.62,72.28L432.93,78.05A45.78,45.78 0 0 0 432.72,77.99ZM434.81,72.33A51.80,51.80 0 0 1 435.05,72.41L433.06,79.01A44.90,44.90 0 0 0 432.85,78.95ZM435.05,73.11A51.12,51.12 0 0 1 435.29,73.18L433.58,78.67A45.37,45.37 0 0 0 433.37,78.61ZM434.35,76.80A47.39,47.39 0 0 1 434.57,76.87L433.99,78.68A45.49,45.49 0 0 0 433.78,78.62ZM436.01,74.45A50.14,50.14 0 0 1 436.24,74.53L434.69,79.08A45.33,45.33 0 0 0 434.48,79.01ZM436.96,73.02A51.80,51.80 0 0 1 437.20,73.11L435.28,78.62A45.96,45.96 0 0 0 435.06,78.54ZM437.39,73.17A51.80,51.80 0 0 1 437.63,73.26L435.78,78.41A46.32,46.32 0 0 0 435.56,78.33ZM437.73,73.55A51.56,51.56 0 0 1 437.97,73.64L435.72,79.73A45.06,45.06 0 0 0 435.51,79.66ZM436.87,77.14A47.89,47.89 0 0 1 437.09,77.22L436.19,79.60A45.35,45.35 0 0 0 435.98,79.52ZM438.02,75.32A50.00,50.00 0 0 1 438.25,75.41L437.31,77.81A47.42,47.42 0 0 0 437.09,77.73ZM439.08,73.80A51.80,51.80 0 0 1 439.32,73.90L437.63,78.13A47.25,47.25 0 0 0 437.42,78.04ZM437.57,78.77A46.62,46.62 0 0 1 437.78,78.86L437.13,80.44A44.91,44.91 0 0 0 436.92,80.36ZM439.50,75.17A50.69,50.69 0 0 1 439.73,75.26L437.65,80.22A45.32,45.32 0 0 0 437.44,80.13ZM440.34,74.32A51.80,51.80 0 0 1 440.57,74.42L438.70,78.76A47.07,47.07 0 0 0 438.49,78.67ZM440.27,75.61A50.59,50.59 0 0 1 440.50,75.71L438.30,80.70A45.13,45.13 0 0 0 438.09,80.62ZM441.58,74.86A51.80,51.80 0 0 1 441.81,74.97L439.50,79.98A46.28,46.28 0 0 0 439.29,79.89ZM441.99,75.05A51.80,51.80 0 0 1 442.22,75.16L439.51,80.91A45.44,45.44 0 0 0 439.30,80.82ZM440.61,79.01A47.63,47.63 0 0 1 440.82,79.11L439.52,81.79A44.65,44.65 0 0 0 439.32,81.70ZM440.81,79.53A47.25,47.25 0 0 1 441.02,79.63L439.93,81.85A44.78,44.78 0 0 0 439.73,81.75ZM441.76,78.56A48.54,48.54 0 0 1 441.97,78.67L440.97,80.65A46.32,46.32 0 0 0 440.77,80.55ZM443.62,75.85A51.80,51.80 0 0 1 443.84,75.96L441.77,79.98A47.27,47.27 0 0 0 441.56,79.88ZM443.83,76.42A51.39,51.39 0 0 1 444.05,76.53L441.85,80.71A46.67,46.67 0 0 0 441.65,80.60ZM445.61,76.92A51.80,51.80 0 0 1 445.83,77.04L443.30,81.46A46.70,46.70 0 0 0 443.10,81.35ZM446.27,77.57A51.56,51.56 0 0 1 446.49,77.70L443.66,82.44A46.05,46.05 0 0 0 443.47,82.32ZM445.60,79.56A49.51,49.51 0 0 1 445.81,79.69L444.81,81.32A47.60,47.60 0 0 0 444.61,81.20ZM447.17,77.83A51.80,51.80 0 0 1 447.38,77.97L444.75,82.21A46.81,46.81 0 0 0 444.56,82.09ZM447.55,78.07A51.80,51.80 0 0 1 447.76,78.21L445.05,82.51A46.71,46.71 0 0 0 444.85,82.39ZM447.46,79.05A50.92,50.92 0 0 1 447.67,79.19L444.82,83.61A45.66,45.66 0 0 0 444.63,83.49ZM447.88,79.22A51.01,51.01 0 0 1 448.09,79.36L446.01,82.53A47.21,47.21 0 0 0 445.81,82.40ZM448.69,78.80A51.80,51.80 0 0 1 448.90,78.94L446.34,82.78A47.19,47.19 0 0 0 446.15,82.65ZM448.31,80.17A50.45,50.45 0 0 1 448.52,80.31L445.87,84.20A45.75,45.75 0 0 0 445.68,84.07ZM448.34,80.91A49.86,49.86 0 0 1 448.54,81.05L445.68,85.17A44.84,44.84 0 0 0 445.50,85.05ZM449.81,79.57A51.80,51.80 0 0 1 450.02,79.71L447.38,83.44A47.24,47.24 0 0 0 447.20,83.30ZM450.01,80.07A51.50,51.50 0 0 1 450.21,80.22L447.47,84.03A46.81,46.81 0 0 0 447.28,83.90ZM448.95,82.30A49.08,49.08 0 0 1 449.14,82.44L447.98,84.02A47.12,47.12 0 0 0 447.79,83.88ZM449.54,82.21A49.50,49.50 0 0 1 449.74,82.36L446.86,86.21A44.69,44.69 0 0 0 446.68,86.08ZM450.57,81.56A50.63,50.63 0 0 1 450.77,81.71L447.53,85.96A45.29,45.29 0 0 0 447.36,85.83ZM451.63,80.90A51.80,51.80 0 0 1 451.83,81.06L448.55,85.29A46.44,46.44 0 0 0 448.37,85.15ZM449.52,84.34A47.79,47.79 0 0 1 449.71,84.49L447.75,86.96A44.63,44.63 0 0 0 447.58,86.83ZM449.76,84.72A47.64,47.64 0 0 1 449.94,84.86L448.42,86.76A45.21,45.21 0 0 0 448.24,86.62ZM451.89,82.75A50.51,50.51 0 0 1 452.08,82.90L449.59,85.94A46.58,46.58 0 0 0 449.41,85.80ZM452.38,82.85A50.74,50.74 0 0 1 452.57,83.00L449.26,86.97A45.58,45.58 0 0 0 449.09,86.83ZM453.40,82.32A51.80,51.80 0 0 1 453.59,82.48L449.77,86.99A45.89,45.89 0 0 0 449.60,86.84ZM453.13,83.33A50.86,50.86 0 0 1 453.32,83.49L450.96,86.23A47.24,47.24 0 0 0 450.78,86.08ZM451.46,85.93A47.80,47.80 0 0 1 451.63,86.08L450.15,87.77A45.55,45.55 0 0 0 449.98,87.62ZM454.42,83.20A51.80,51.80 0 0 1 454.61,83.37L451.49,86.87A47.11,47.11 0 0 0 451.32,86.72ZM453.87,84.49A50.47,50.47 0 0 1 454.06,84.66L452.02,86.89A47.45,47.45 0 0 0 451.85,86.74ZM453.18,85.90A48.97,48.97 0 0 1 453.36,86.06L451.31,88.27A45.95,45.95 0 0 0 451.14,88.12ZM454.73,84.86A50.78,50.78 0 0 1 454.92,85.03L451.53,88.63A45.84,45.84 0 0 0 451.36,88.47ZM455.66,84.53A51.66,51.66 0 0 1 455.84,84.70L451.61,89.12A45.55,45.55 0 0 0 451.45,88.96ZM453.35,87.57A47.87,47.87 0 0 1 453.52,87.73L452.19,89.10A45.96,45.96 0 0 0 452.02,88.94ZM455.54,86.56A50.12,50.12 0 0 1 455.71,86.73L451.88,90.53A44.72,44.72 0 0 0 451.72,90.38ZM456.75,85.99A51.38,51.38 0 0 1 456.92,86.17L452.73,90.25A45.53,45.53 0 0 0 452.57,90.09ZM457.21,87.40A50.74,50.74 0 0 1 457.38,87.58L452.92,91.69A44.67,44.67 0 0 0 452.77,91.53ZM454.59,90.40A46.78,46.78 0 0 1 454.74,90.56L453.44,91.75A45.02,45.02 0 0 0 453.29,91.58ZM457.93,87.94A50.90,50.90 0 0 1 458.10,88.12L454.39,91.43A45.94,45.94 0 0 0 454.24,91.26ZM458.90,87.68A51.80,51.80 0 0 1 459.06,87.87L455.47,91.01A47.02,47.02 0 0 0 455.32,90.84ZM457.32,89.65A49.31,49.31 0 0 1 457.47,89.83L454.36,92.51A45.20,45.20 0 0 0 454.21,92.35ZM457.15,90.35A48.73,48.73 0 0 1 457.31,90.53L454.18,93.18A44.63,44.63 0 0 0 454.04,93.01ZM456.97,91.06A48.14,48.14 0 0 1 457.12,91.24L454.82,93.16A45.14,45.14 0 0 0 454.68,92.99ZM459.49,89.53A51.05,51.05 0 0 1 459.65,89.72L456.27,92.48A46.69,46.69 0 0 0 456.13,92.30ZM459.37,90.20A50.53,50.53 0 0 1 459.53,90.39L456.67,92.68A46.87,46.87 0 0 0 456.52,92.50ZM458.68,91.31A49.30,49.30 0 0 1 458.83,91.50L457.28,92.72A47.32,47.32 0 0 0 457.13,92.54ZM458.70,91.84A48.98,48.98 0 0 1 458.84,92.03L457.09,93.39A46.77,46.77 0 0 0 456.95,93.21ZM461.20,90.47A51.80,51.80 0 0 1 461.35,90.67L457.11,93.89A46.48,46.48 0 0 0 456.97,93.71ZM461.47,90.83A51.80,51.80 0 0 1 461.62,91.03L457.22,94.31A46.31,46.31 0 0 0 457.08,94.13ZM461.49,91.38A51.48,51.48 0 0 1 461.63,91.58L458.37,93.97A47.43,47.43 0 0 0 458.23,93.79ZM461.11,92.21A50.69,50.69 0 0 1 461.25,92.41L456.81,95.60A45.21,45.21 0 0 0 456.68,95.42ZM462.27,91.92A51.80,51.80 0 0 1 462.42,92.13L458.11,95.17A46.52,46.52 0 0 0 457.98,94.98ZM462.53,92.29A51.80,51.80 0 0 1 462.68,92.50L458.98,95.06A47.30,47.30 0 0 0 458.85,94.87ZM462.79,92.66A51.80,51.80 0 0 1 462.93,92.87L458.31,96.01A46.21,46.21 0 0 0 458.18,95.83ZM463.04,93.03A51.80,51.80 0 0 1 463.19,93.24L459.47,95.73A47.33,47.33 0 0 0 459.34,95.53ZM460.77,95.08A48.77,48.77 0 0 1 460.90,95.28L457.62,97.43A44.85,44.85 0 0 0 457.50,97.25ZM462.94,94.18A51.09,51.09 0 0 1 463.08,94.39L459.56,96.65A46.90,46.90 0 0 0 459.44,96.45ZM463.09,95.14A50.69,50.69 0 0 1 463.22,95.35L458.20,98.45A44.79,44.79 0 0 0 458.09,98.26ZM463.96,95.12A51.44,51.44 0 0 1 464.09,95.34L459.10,98.36A45.61,45.61 0 0 0 458.98,98.17ZM464.96,96.10A51.80,51.80 0 0 1 465.09,96.32L460.72,98.81A46.77,46.77 0 0 0 460.60,98.61ZM465.05,96.57A51.65,51.65 0 0 1 465.17,96.79L461.50,98.84A47.44,47.44 0 0 0 461.39,98.64ZM461.71,98.93A47.58,47.58 0 0 1 461.82,99.14L459.44,100.44A44.86,44.86 0 0 0 459.33,100.25ZM464.90,97.67A50.98,50.98 0 0 1 465.02,97.89L460.17,100.50A45.47,45.47 0 0 0 460.06,100.30ZM465.84,97.68A51.80,51.80 0 0 1 465.95,97.91L460.97,100.52A46.17,46.17 0 0 0 460.86,100.33ZM463.68,99.31A49.13,49.13 0 0 1 463.79,99.53L460.59,101.17A45.54,45.54 0 0 0 460.49,100.97ZM464.60,99.32A49.95,49.95 0 0 1 464.71,99.54L462.35,100.73A47.30,47.30 0 0 0 462.25,100.53ZM466.46,98.89A51.80,51.80 0 0 1 466.57,99.11L462.72,101.01A47.51,47.51 0 0 0 462.61,100.80ZM464.73,100.23A49.65,49.65 0 0 1 464.83,100.45L460.82,102.38A45.20,45.20 0 0 0 460.73,102.18ZM463.49,101.31A48.07,48.07 0 0 1 463.59,101.52L462.09,102.22A46.42,46.42 0 0 0 461.99,102.02ZM465.28,100.93A49.85,49.85 0 0 1 465.38,101.15L462.02,102.70A46.15,46.15 0 0 0 461.92,102.50ZM466.04,101.06A50.49,50.49 0 0 1 466.15,101.29L462.31,103.01A46.29,46.29 0 0 0 462.22,102.80ZM465.10,101.96A49.26,49.26 0 0 1 465.20,102.18L461.11,103.98A44.80,44.80 0 0 0 461.02,103.78ZM467.60,101.34A51.80,51.80 0 0 1 467.70,101.58L463.73,103.28A47.47,47.47 0 0 0 463.63,103.07ZM464.48,103.16A48.22,48.22 0 0 1 464.58,103.38L462.55,104.23A46.02,46.02 0 0 0 462.46,104.02ZM467.96,102.18A51.80,51.80 0 0 1 468.05,102.41L463.65,104.21A47.05,47.05 0 0 0 463.57,104.00ZM464.70,103.98A48.10,48.10 0 0 1 464.79,104.20L462.42,105.14A45.55,45.55 0 0 0 462.33,104.94ZM466.24,103.83A49.59,49.59 0 0 1 466.33,104.05L464.26,104.85A47.38,47.38 0 0 0 464.18,104.64ZM464.20,105.07A47.24,47.24 0 0 1 464.28,105.29L461.88,106.20A44.67,44.67 0 0 0 461.80,105.99ZM466.87,104.51A49.93,49.93 0 0 1 466.96,104.74L463.89,105.87A46.66,46.66 0 0 0 463.81,105.66ZM465.71,105.40A48.54,48.54 0 0 1 465.79,105.62L463.83,106.32A46.46,46.46 0 0 0 463.76,106.11ZM466.55,105.55A49.28,49.28 0 0 1 466.63,105.78L462.56,107.20A44.97,44.97 0 0 0 462.49,106.99ZM467.01,105.85A49.61,49.61 0 0 1 467.09,106.08L462.90,107.50A45.19,45.19 0 0 0 462.83,107.29ZM467.04,106.29A49.50,49.50 0 0 1 467.12,106.52L463.53,107.70A45.73,45.73 0 0 0 463.46,107.49ZM465.47,107.26A47.70,47.70 0 0 1 465.54,107.48L463.04,108.28A45.08,45.08 0 0 0 462.97,108.07ZM468.67,106.69A50.93,50.93 0 0 1 468.75,106.92L464.53,108.23A46.52,46.52 0 0 0 464.46,108.01ZM469.64,106.86A51.80,51.80 0 0 1 469.71,107.10L464.57,108.64A46.44,46.44 0 0 0 464.51,108.42ZM469.77,107.29A51.80,51.80 0 0 1 469.84,107.53L465.06,108.92A46.82,46.82 0 0 0 464.99,108.70ZM466.99,108.55A48.78,48.78 0 0 1 467.06,108.78L463.94,109.66A45.55,45.55 0 0 0 463.88,109.45ZM470.02,108.16A51.80,51.80 0 0 1 470.08,108.40L463.77,110.12A45.25,45.25 0 0 0 463.71,109.91ZM466.29,109.62A47.82,47.82 0 0 1 466.35,109.85L463.62,110.57A45.00,45.00 0 0 0 463.57,110.35ZM466.00,110.13A47.41,47.41 0 0 1 466.06,110.35L464.09,110.85A45.38,45.38 0 0 0 464.03,110.64ZM470.27,109.49A51.71,51.71 0 0 1 470.33,109.74L464.66,111.12A45.86,45.86 0 0 0 464.60,110.90ZM467.12,111.15A48.25,48.25 0 0 1 467.17,111.38L465.61,111.73A46.66,46.66 0 0 0 465.56,111.50ZM470.67,110.79A51.80,51.80 0 0 1 470.73,111.04L465.69,112.13A46.65,46.65 0 0 0 465.64,111.90ZM468.25,111.77A49.23,49.23 0 0 1 468.30,112.00L464.11,112.87A44.95,44.95 0 0 0 464.06,112.66ZM470.45,111.76A51.38,51.38 0 0 1 470.50,112.00L465.33,113.03A46.11,46.11 0 0 0 465.28,112.81ZM466.13,113.05A46.90,46.90 0 0 1 466.18,113.28L464.13,113.66A44.81,44.81 0 0 0 464.09,113.45ZM470.10,113.18A50.77,50.77 0 0 1 470.14,113.43L465.58,114.21A46.14,46.14 0 0 0 465.54,113.99ZM470.80,113.97A51.33,51.33 0 0 1 470.84,114.22L464.79,115.15A45.21,45.21 0 0 0 464.76,114.93ZM468.96,114.70A49.40,49.40 0 0 1 469.00,114.94L466.99,115.23A47.38,47.38 0 0 0 466.96,115.00ZM471.35,115.25A51.69,51.69 0 0 1 471.38,115.50L465.72,116.22A45.99,45.99 0 0 0 465.69,116.00ZM470.06,115.87A50.33,50.33 0 0 1 470.09,116.11L465.78,116.62A46.00,46.00 0 0 0 465.76,116.39ZM467.77,116.57A47.98,47.98 0 0 1 467.79,116.80L466.23,116.97A46.40,46.40 0 0 0 466.20,116.75ZM469.46,116.81A49.63,49.63 0 0 1 469.48,117.05L467.00,117.30A47.13,47.13 0 0 0 466.97,117.07ZM470.41,117.16A50.55,50.55 0 0 1 470.44,117.40L466.72,117.74A46.82,46.82 0 0 0 466.70,117.51ZM469.33,117.69A49.41,49.41 0 0 1 469.35,117.93L465.04,118.29A45.10,45.10 0 0 0 465.02,118.07ZM471.77,118.39A51.80,51.80 0 0 1 471.79,118.64L467.01,118.95A47.01,47.01 0 0 0 466.99,118.72ZM470.22,118.93A50.21,50.21 0 0 1 470.23,119.18L466.51,119.39A46.49,46.49 0 0 0 466.50,119.16ZM471.83,119.29A51.80,51.80 0 0 1 471.84,119.54L466.16,119.81A46.11,46.11 0 0 0 466.15,119.59ZM471.85,119.74A51.80,51.80 0 0 1 471.86,119.99L465.44,120.24A45.37,45.37 0 0 0 465.43,120.02ZM471.87,120.19A51.80,51.80 0 0 1 471.88,120.45L467.01,120.59A46.93,46.93 0 0 0 467.01,120.36ZM471.88,120.64A51.80,51.80 0 0 1 471.89,120.90L467.38,120.99A47.29,47.29 0 0 0 467.37,120.76ZM471.89,121.10A51.80,51.80 0 0 1 471.90,121.35L467.00,121.41A46.90,46.90 0 0 0 466.99,121.18ZM468.75,121.58A48.66,48.66 0 0 1 468.76,121.81L466.87,121.82A46.77,46.77 0 0 0 466.87,121.59ZM467.66,122.00A47.56,47.56 0 0 1 467.66,122.23L466.11,122.22A46.01,46.01 0 0 0 466.11,122.00ZM471.55,122.45A51.45,51.45 0 0 1 471.54,122.70L466.61,122.63A46.52,46.52 0 0 0 466.61,122.41ZM471.89,122.90A51.80,51.80 0 0 1 471.89,123.16L467.52,123.06A47.43,47.43 0 0 0 467.53,122.83ZM471.29,123.34A51.21,51.21 0 0 1 471.29,123.59L466.66,123.45A46.58,46.58 0 0 0 466.66,123.22ZM471.87,123.81A51.80,51.80 0 0 1 471.86,124.06L465.83,123.82A45.77,45.77 0 0 0 465.84,123.60ZM471.85,124.26A51.80,51.80 0 0 1 471.84,124.51L466.75,124.27A46.70,46.70 0 0 0 466.76,124.04ZM469.59,124.59A49.55,49.55 0 0 1 469.57,124.84L464.70,124.56A44.67,44.67 0 0 0 464.71,124.34ZM469.09,125.00A49.08,49.08 0 0 1 469.07,125.24L465.37,124.99A45.37,45.37 0 0 0 465.39,124.77ZM467.72,125.75A47.77,47.77 0 0 1 467.70,125.98L465.67,125.81A45.73,45.73 0 0 0 465.69,125.59ZM471.70,126.51A51.80,51.80 0 0 1 471.68,126.77L467.22,126.35A47.32,47.32 0 0 0 467.24,126.12ZM471.66,126.96A51.80,51.80 0 0 1 471.64,127.22L467.36,126.78A47.50,47.50 0 0 0 467.38,126.55ZM471.62,127.41A51.80,51.80 0 0 1 471.59,127.67L466.33,127.09A46.51,46.51 0 0 0 466.36,126.86ZM468.36,127.93A48.63,48.63 0 0 1 468.33,128.16L466.60,127.94A46.88,46.88 0 0 0 466.63,127.71ZM468.85,128.42A49.17,49.17 0 0 1 468.82,128.66L464.76,128.10A45.08,45.08 0 0 0 464.79,127.88ZM470.55,129.09A50.95,50.95 0 0 1 470.52,129.34L465.71,128.64A46.09,46.09 0 0 0 465.74,128.41ZM469.74,129.86A50.26,50.26 0 0 1 469.70,130.10L465.36,129.40A45.86,45.86 0 0 0 465.40,129.17ZM468.20,130.05A48.77,48.77 0 0 1 468.16,130.28L465.13,129.76A45.70,45.70 0 0 0 465.17,129.54ZM468.69,130.57A49.34,49.34 0 0 1 468.65,130.81L465.64,130.26A46.28,46.28 0 0 0 465.68,130.04ZM466.38,130.58A47.07,47.07 0 0 1 466.33,130.80L464.79,130.51A45.49,45.49 0 0 0 464.83,130.29ZM466.32,130.99A47.09,47.09 0 0 1 466.28,131.21L463.96,130.75A44.73,44.73 0 0 0 464.01,130.53ZM470.86,132.33A51.80,51.80 0 0 1 470.81,132.58L464.91,131.34A45.77,45.77 0 0 0 464.95,131.13ZM470.66,132.75A51.69,51.69 0 0 1 470.61,132.99L463.83,131.52A44.75,44.75 0 0 0 463.87,131.30ZM470.19,133.10A51.30,51.30 0 0 1 470.13,133.35L463.81,131.91A44.82,44.82 0 0 0 463.86,131.70ZM470.57,133.65A51.80,51.80 0 0 1 470.51,133.90L464.90,132.57A46.03,46.03 0 0 0 464.95,132.36ZM470.47,134.09A51.80,51.80 0 0 1 470.41,134.34L464.94,133.00A46.17,46.17 0 0 0 464.99,132.78ZM470.36,134.53A51.80,51.80 0 0 1 470.30,134.78L464.68,133.35A46.01,46.01 0 0 0 464.74,133.13ZM467.10,134.15A48.54,48.54 0 0 1 467.04,134.38L464.98,133.84A46.41,46.41 0 0 0 465.03,133.62ZM467.03,134.58A48.59,48.59 0 0 1 466.97,134.80L464.44,134.11A45.97,45.97 0 0 0 464.50,133.90ZM467.11,135.48A48.91,48.91 0 0 1 467.05,135.71L463.27,134.61A44.97,44.97 0 0 0 463.33,134.40ZM466.99,135.89A48.91,48.91 0 0 1 466.93,136.12L464.11,135.27A45.97,45.97 0 0 0 464.17,135.06ZM469.48,137.10A51.64,51.64 0 0 1 469.41,137.34L463.89,135.62A45.86,45.86 0 0 0 463.95,135.41ZM469.50,137.58A51.80,51.80 0 0 1 469.43,137.82L465.42,136.53A47.59,47.59 0 0 0 465.49,136.31ZM465.22,136.66A47.44,47.44 0 0 1 465.15,136.88L463.13,136.21A45.32,45.32 0 0 0 463.20,136.00ZM469.22,138.44A51.80,51.80 0 0 1 469.14,138.68L464.55,137.12A46.95,46.95 0 0 0 464.63,136.90ZM468.02,138.50A50.68,50.68 0 0 1 467.94,138.73L462.97,137.00A45.41,45.41 0 0 0 463.04,136.79ZM468.51,139.14A51.36,51.36 0 0 1 468.43,139.38L463.74,137.69A46.38,46.38 0 0 0 463.82,137.48ZM465.24,138.43A48.04,48.04 0 0 1 465.16,138.65L462.47,137.66A45.17,45.17 0 0 0 462.55,137.45ZM468.62,140.14A51.80,51.80 0 0 1 468.53,140.38L464.37,138.80A47.35,47.35 0 0 0 464.45,138.58ZM467.20,141.03A50.80,50.80 0 0 1 467.11,141.26L462.55,139.39A45.88,45.88 0 0 0 462.64,139.19ZM463.17,140.28A46.79,46.79 0 0 1 463.08,140.49L461.27,139.71A44.82,44.82 0 0 0 461.35,139.51ZM467.07,142.43A51.22,51.22 0 0 1 466.97,142.65L462.43,140.65A46.25,46.25 0 0 0 462.52,140.44ZM464.58,141.81A48.69,48.69 0 0 1 464.49,142.02L462.06,140.93A46.04,46.04 0 0 0 462.16,140.72ZM467.24,143.48A51.80,51.80 0 0 1 467.13,143.71L462.62,141.63A46.83,46.83 0 0 0 462.72,141.42ZM466.66,144.71A51.80,51.80 0 0 1 466.55,144.93L461.77,142.58A46.47,46.47 0 0 0 461.87,142.37ZM463.77,143.77A48.79,48.79 0 0 1 463.66,143.98L461.05,142.67A45.87,45.87 0 0 0 461.15,142.47ZM465.36,145.06A50.80,50.80 0 0 1 465.25,145.28L460.72,142.95A45.71,45.71 0 0 0 460.83,142.75ZM464.53,145.13A50.09,50.09 0 0 1 464.42,145.35L460.42,143.24A45.58,45.58 0 0 0 460.53,143.04ZM465.32,146.04A51.21,51.21 0 0 1 465.20,146.26L461.81,144.44A47.36,47.36 0 0 0 461.92,144.24ZM465.10,146.43A51.20,51.20 0 0 1 464.98,146.65L459.45,143.61A44.89,44.89 0 0 0 459.55,143.42ZM464.55,147.66A51.32,51.32 0 0 1 464.42,147.88L459.87,145.22A46.05,46.05 0 0 0 459.98,145.03ZM462.19,146.79A48.84,48.84 0 0 1 462.06,147.00L460.42,146.01A46.93,46.93 0 0 0 460.53,145.82ZM461.70,147.00A48.54,48.54 0 0 1 461.58,147.20L459.91,146.19A46.59,46.59 0 0 0 460.03,145.99ZM464.27,149.07A51.80,51.80 0 0 1 464.13,149.28L459.86,146.63A46.77,46.77 0 0 0 459.98,146.44ZM461.23,147.70A48.50,48.50 0 0 1 461.10,147.90L458.17,146.05A45.03,45.03 0 0 0 458.29,145.86ZM460.45,147.71A47.84,47.84 0 0 1 460.33,147.90L458.52,146.74A45.70,45.70 0 0 0 458.64,146.55ZM463.54,150.21A51.80,51.80 0 0 1 463.40,150.42L458.81,147.41A46.31,46.31 0 0 0 458.94,147.22ZM462.84,150.29A51.25,51.25 0 0 1 462.70,150.49L459.45,148.32A47.34,47.34 0 0 0 459.58,148.13ZM460.52,149.27A48.76,48.76 0 0 1 460.39,149.46L457.71,147.64A45.51,45.51 0 0 0 457.83,147.45ZM462.79,151.34A51.80,51.80 0 0 1 462.65,151.55L459.04,149.04A47.40,47.40 0 0 0 459.17,148.85ZM460.40,150.22A49.20,49.20 0 0 1 460.26,150.41L457.39,148.39A45.69,45.69 0 0 0 457.52,148.20ZM460.33,150.70A49.42,49.42 0 0 1 460.19,150.89L457.25,148.77A45.79,45.79 0 0 0 457.38,148.59ZM462.01,152.45A51.80,51.80 0 0 1 461.86,152.65L457.42,149.39A46.29,46.29 0 0 0 457.55,149.21ZM461.66,152.75A51.70,51.70 0 0 1 461.51,152.96L457.83,150.21A47.11,47.11 0 0 0 457.97,150.02ZM461.47,153.17A51.80,51.80 0 0 1 461.32,153.38L457.40,150.39A46.88,46.88 0 0 0 457.54,150.21ZM458.98,151.83A49.00,49.00 0 0 1 458.83,152.02L455.40,149.36A44.67,44.67 0 0 0 455.54,149.19ZM460.92,153.89A51.80,51.80 0 0 1 460.76,154.09L456.45,150.68A46.30,46.30 0 0 0 456.59,150.51ZM458.34,152.42A48.87,48.87 0 0 1 458.19,152.61L456.75,151.45A47.01,47.01 0 0 0 456.89,151.27ZM458.12,152.79A48.93,48.93 0 0 1 457.97,152.98L456.45,151.73A46.96,46.96 0 0 0 456.60,151.56ZM457.84,153.67A49.26,49.26 0 0 1 457.68,153.85L456.18,152.58A47.30,47.30 0 0 0 456.33,152.40ZM458.60,154.88A50.63,50.63 0 0 1 458.44,155.07L454.20,151.41A45.03,45.03 0 0 0 454.34,151.25ZM456.36,153.52A48.05,48.05 0 0 1 456.21,153.70L454.17,151.91A45.34,45.34 0 0 0 454.32,151.74ZM458.90,156.32A51.80,51.80 0 0 1 458.73,156.51L454.53,152.76A46.16,46.16 0 0 0 454.68,152.59ZM458.59,156.66A51.80,51.80 0 0 1 458.43,156.85L453.85,152.69A45.61,45.61 0 0 0 454.00,152.52ZM457.36,156.14A50.54,50.54 0 0 1 457.19,156.32L453.92,153.30A46.08,46.08 0 0 0 454.07,153.13ZM457.98,157.33A51.80,51.80 0 0 1 457.81,157.51L454.12,154.03A46.72,46.72 0 0 0 454.27,153.87ZM457.67,157.66A51.80,51.80 0 0 1 457.50,157.84L454.09,154.57A47.08,47.08 0 0 0 454.25,154.41ZM457.36,157.98A51.80,51.80 0 0 1 457.19,158.16L453.76,154.83A47.02,47.02 0 0 0 453.92,154.66ZM457.05,158.31A51.80,51.80 0 0 1 456.87,158.49L453.80,155.44A47.47,47.47 0 0 0 453.96,155.27ZM456.73,158.63A51.80,51.80 0 0 1 456.55,158.81L452.98,155.20A46.73,46.73 0 0 0 453.14,155.04ZM453.86,156.35A48.17,48.17 0 0 1 453.69,156.52L452.08,154.87A45.86,45.86 0 0 0 452.24,154.71ZM455.62,158.79A51.14,51.14 0 0 1 455.44,158.96L452.98,156.38A47.57,47.57 0 0 0 453.15,156.22ZM453.86,157.58A49.05,49.05 0 0 1 453.69,157.74L451.06,154.95A45.21,45.21 0 0 0 451.22,154.80ZM453.75,158.08A49.33,49.33 0 0 1 453.57,158.25L452.33,156.90A47.51,47.51 0 0 0 452.50,156.75ZM453.89,158.87A50.01,50.01 0 0 1 453.70,159.03L450.30,155.28A44.94,44.94 0 0 0 450.46,155.14ZM451.54,156.91A46.98,46.98 0 0 1 451.37,157.07L450.14,155.69A45.14,45.14 0 0 0 450.30,155.54ZM454.42,160.80A51.80,51.80 0 0 1 454.23,160.96L450.64,156.87A46.35,46.35 0 0 0 450.81,156.72ZM450.98,158.81A48.05,48.05 0 0 1 450.80,158.96L449.02,156.81A45.25,45.25 0 0 0 449.19,156.67ZM451.34,159.90A49.12,49.12 0 0 1 451.16,160.05L449.43,157.94A46.38,46.38 0 0 0 449.60,157.79ZM450.24,159.22A47.89,47.89 0 0 1 450.06,159.37L448.53,157.46A45.44,45.44 0 0 0 448.70,157.32ZM451.26,161.17A50.05,50.05 0 0 1 451.07,161.32L448.27,157.77A45.54,45.54 0 0 0 448.45,157.64ZM450.25,160.59A48.97,48.97 0 0 1 450.06,160.74L448.27,158.42A46.04,46.04 0 0 0 448.44,158.28ZM450.98,162.24A50.72,50.72 0 0 1 450.78,162.39L448.74,159.70A47.34,47.34 0 0 0 448.92,159.56ZM451.17,163.23A51.63,51.63 0 0 1 450.97,163.38L448.48,160.05A47.47,47.47 0 0 0 448.67,159.91ZM450.71,163.37A51.46,51.46 0 0 1 450.51,163.52L446.54,158.10A44.75,44.75 0 0 0 446.72,157.97ZM449.58,162.58A50.16,50.16 0 0 1 449.38,162.72L446.81,159.15A45.75,45.75 0 0 0 446.99,159.02ZM450.18,164.17A51.80,51.80 0 0 1 449.97,164.32L446.30,159.11A45.42,45.42 0 0 0 446.48,158.98ZM446.99,160.40A46.87,46.87 0 0 1 446.80,160.53L445.91,159.24A45.31,45.31 0 0 0 446.09,159.12ZM449.32,164.52A51.60,51.60 0 0 1 449.12,164.66L445.81,159.80A45.71,45.71 0 0 0 445.99,159.67ZM447.38,162.44A48.78,48.78 0 0 1 447.18,162.58L445.87,160.61A46.42,46.42 0 0 0 446.06,160.48ZM446.86,162.44A48.49,48.49 0 0 1 446.67,162.57L445.06,160.12A45.57,45.57 0 0 0 445.25,160.00ZM447.96,164.90A51.15,51.15 0 0 1 447.75,165.04L445.04,160.83A46.15,46.15 0 0 0 445.23,160.70ZM446.88,164.03A49.84,49.84 0 0 1 446.67,164.16L444.31,160.41A45.40,45.40 0 0 0 444.49,160.29ZM445.76,163.06A48.42,48.42 0 0 1 445.56,163.19L444.76,161.90A46.91,46.91 0 0 0 444.96,161.78ZM447.17,166.17A51.80,51.80 0 0 1 446.95,166.30L444.53,162.31A47.14,47.14 0 0 0 444.73,162.19ZM444.86,164.03A48.78,48.78 0 0 1 444.65,164.15L443.63,162.40A46.75,46.75 0 0 0 443.83,162.28ZM446.00,166.86A51.80,51.80 0 0 1 445.78,166.99L442.91,161.95A46.01,46.01 0 0 0 443.10,161.84ZM444.89,165.82A50.34,50.34 0 0 1 444.68,165.94L443.13,163.17A47.17,47.17 0 0 0 443.33,163.06ZM445.21,167.31A51.80,51.80 0 0 1 444.99,167.43L442.13,162.21A45.85,45.85 0 0 0 442.33,162.10ZM443.44,165.89A49.71,49.71 0 0 1 443.22,166.01L441.14,162.03A45.23,45.23 0 0 0 441.33,161.93ZM443.72,167.37A51.15,51.15 0 0 1 443.50,167.48L440.72,162.08A45.07,45.07 0 0 0 440.91,161.98ZM441.64,164.28A47.45,47.45 0 0 1 441.44,164.38L440.57,162.67A45.53,45.53 0 0 0 440.77,162.57ZM443.05,168.03A51.43,51.43 0 0 1 442.82,168.14L440.42,163.27A46.00,46.00 0 0 0 440.63,163.17ZM441.47,165.81A48.74,48.74 0 0 1 441.25,165.91L440.35,164.04A46.66,46.66 0 0 0 440.55,163.94ZM442.40,168.75A51.80,51.80 0 0 1 442.17,168.86L439.69,163.60A45.99,45.99 0 0 0 439.90,163.51ZM440.44,165.62A48.13,48.13 0 0 1 440.23,165.72L439.57,164.29A46.56,46.56 0 0 0 439.78,164.20ZM440.64,167.08A49.54,49.54 0 0 1 440.42,167.18L439.27,164.62A46.73,46.73 0 0 0 439.48,164.52ZM439.43,165.42A47.53,47.53 0 0 1 439.22,165.52L438.59,164.09A45.97,45.97 0 0 0 438.80,164.00ZM439.89,167.52A49.64,49.64 0 0 1 439.67,167.61L438.63,165.19A47.00,47.00 0 0 0 438.84,165.10ZM439.26,167.14A49.04,49.04 0 0 1 439.04,167.23L437.66,163.94A45.47,45.47 0 0 0 437.87,163.86ZM438.79,167.13A48.85,48.85 0 0 1 438.57,167.22L437.30,164.12A45.49,45.49 0 0 0 437.51,164.03ZM438.65,167.91A49.51,49.51 0 0 1 438.42,168.00L437.35,165.29A46.60,46.60 0 0 0 437.56,165.21ZM438.46,168.62A50.11,50.11 0 0 1 438.24,168.71L437.04,165.62A46.79,46.79 0 0 0 437.25,165.54ZM438.65,170.33A51.77,51.77 0 0 1 438.42,170.42L436.48,165.29A46.29,46.29 0 0 0 436.69,165.21ZM437.29,167.98A49.09,49.09 0 0 1 437.07,168.06L436.37,166.18A47.08,47.08 0 0 0 436.59,166.10ZM436.12,168.53A49.21,49.21 0 0 1 435.89,168.61L435.10,166.25A46.72,46.72 0 0 0 435.31,166.18ZM436.54,171.12A51.80,51.80 0 0 1 436.30,171.20L434.83,166.75A47.11,47.11 0 0 0 435.05,166.68ZM434.31,167.07A47.25,47.25 0 0 1 434.09,167.14L433.44,165.05A45.07,45.07 0 0 0 433.65,164.99ZM435.12,171.14A51.38,51.38 0 0 1 434.88,171.21L432.99,164.92A44.82,44.82 0 0 0 433.20,164.86ZM434.64,171.09A51.19,51.19 0 0 1 434.40,171.16L432.99,166.30A46.13,46.13 0 0 0 433.20,166.23ZM434.07,170.72A50.69,50.69 0 0 1 433.83,170.79L432.85,167.30A47.06,47.06 0 0 0 433.07,167.24ZM432.77,167.70A47.42,47.42 0 0 1 432.55,167.76L432.13,166.23A45.84,45.84 0 0 0 432.35,166.17ZM433.51,172.03A51.80,51.80 0 0 1 433.26,172.10L431.97,167.17A46.70,46.70 0 0 0 432.19,167.11ZM432.98,171.79A51.43,51.43 0 0 1 432.73,171.85L431.54,167.15A46.58,46.58 0 0 0 431.76,167.10ZM431.94,171.30A50.71,50.71 0 0 1 431.70,171.36L430.53,166.42A45.63,45.63 0 0 0 430.75,166.37ZM431.31,172.57A51.80,51.80 0 0 1 431.06,172.63L429.86,167.08A46.13,46.13 0 0 0 430.08,167.03ZM430.25,169.74A48.81,48.81 0 0 1 430.01,169.79L429.53,167.47A46.43,46.43 0 0 0 429.75,167.42ZM430.43,172.76A51.80,51.80 0 0 1 430.18,172.81L429.31,168.40A47.31,47.31 0 0 0 429.53,168.36ZM429.33,169.49A48.38,48.38 0 0 1 429.10,169.54L428.68,167.30A46.10,46.10 0 0 0 428.90,167.25ZM429.54,172.93A51.80,51.80 0 0 1 429.29,172.98L428.54,168.81A47.56,47.56 0 0 0 428.77,168.76ZM428.73,170.94A49.69,49.69 0 0 1 428.49,170.98L428.05,168.43A47.11,47.11 0 0 0 428.28,168.39ZM428.20,170.40A49.07,49.07 0 0 1 427.96,170.44L427.55,167.88A46.48,46.48 0 0 0 427.77,167.84ZM427.74,173.10A51.66,51.66 0 0 1 427.49,173.13L426.72,167.85A46.33,46.33 0 0 0 426.95,167.82ZM427.18,172.38A50.87,50.87 0 0 1 426.93,172.41L426.47,168.96A47.39,47.39 0 0 0 426.70,168.93ZM426.86,173.36A51.80,51.80 0 0 1 426.61,173.39L425.75,166.62A44.97,44.97 0 0 0 425.97,166.59ZM425.85,172.49A50.81,50.81 0 0 1 425.61,172.52L425.11,167.96A46.23,46.23 0 0 0 425.33,167.93ZM425.51,173.52A51.80,51.80 0 0 1 425.26,173.54L424.62,167.17A45.39,45.39 0 0 0 424.84,167.14ZM425.06,173.56A51.80,51.80 0 0 1 424.81,173.59L424.38,168.86A47.05,47.05 0 0 0 424.61,168.84ZM424.16,173.64A51.80,51.80 0 0 1 423.91,173.66L423.45,167.34A45.47,45.47 0 0 0 423.67,167.33ZM423.71,173.67A51.80,51.80 0 0 1 423.46,173.69L423.11,168.22A46.32,46.32 0 0 0 423.33,168.21ZM423.04,170.07A48.16,48.16 0 0 1 422.81,170.09L422.70,168.17A46.24,46.24 0 0 0 422.92,168.16ZM422.36,173.75A51.80,51.80 0 0 1 422.11,173.76L421.94,169.53A47.56,47.56 0 0 0 422.17,169.52ZM421.87,172.68A50.71,50.71 0 0 1 421.62,172.69L421.47,167.50A45.52,45.52 0 0 0 421.69,167.50ZM421.42,172.48A50.50,50.50 0 0 1 421.18,172.49L421.07,167.73A45.74,45.74 0 0 0 421.30,167.73ZM420.92,169.24A47.25,47.25 0 0 1 420.69,169.24L420.66,166.65A44.65,44.65 0 0 0 420.88,166.64ZM420.52,170.65A48.65,48.65 0 0 1 420.29,170.65L420.27,167.03A45.03,45.03 0 0 0 420.49,167.03ZM420.10,171.48A49.48,49.48 0 0 1 419.86,171.48L419.88,167.12A45.12,45.12 0 0 0 420.10,167.12ZM419.67,171.63A49.63,49.63 0 0 1 419.42,171.63L419.47,168.30A46.30,46.30 0 0 0 419.70,168.30ZM419.23,171.90A49.90,49.90 0 0 1 418.99,171.89L419.10,166.70A44.71,44.71 0 0 0 419.32,166.71ZM418.34,172.45A50.48,50.48 0 0 1 418.09,172.44L418.25,168.36A46.40,46.40 0 0 0 418.48,168.37ZM417.84,173.71A51.76,51.76 0 0 1 417.59,173.70L417.85,168.42A46.47,46.47 0 0 0 418.07,168.43ZM417.43,172.96A51.03,51.03 0 0 1 417.18,172.94L417.42,168.78A46.86,46.86 0 0 0 417.65,168.79ZM416.94,173.70A51.80,51.80 0 0 1 416.69,173.69L416.99,169.01A47.11,47.11 0 0 0 417.22,169.03ZM416.58,172.39A50.51,50.51 0 0 1 416.33,172.37L416.67,167.77A45.90,45.90 0 0 0 416.90,167.79ZM416.13,172.41A50.57,50.57 0 0 1 415.89,172.39L416.25,168.02A46.18,46.18 0 0 0 416.48,168.04ZM415.69,172.38A50.58,50.58 0 0 1 415.45,172.36L415.75,169.11A47.31,47.31 0 0 0 415.98,169.13ZM414.69,173.52A51.80,51.80 0 0 1 414.43,173.49L414.93,169.02A47.30,47.30 0 0 0 415.16,169.04ZM414.44,171.71A50.03,50.03 0 0 1 414.19,171.68L414.57,168.53A46.86,46.86 0 0 0 414.80,168.55ZM414.37,168.64A46.99,46.99 0 0 1 414.15,168.62L414.42,166.45A44.81,44.81 0 0 0 414.64,166.48ZM413.60,171.36A49.79,49.79 0 0 1 413.36,171.33L413.86,167.68A46.11,46.11 0 0 0 414.08,167.71ZM412.86,170.46A48.99,48.99 0 0 1 412.62,170.42L413.05,167.64A46.18,46.18 0 0 0 413.27,167.67ZM412.50,169.99A48.58,48.58 0 0 1 412.27,169.95L412.72,167.19A45.79,45.79 0 0 0 412.94,167.22ZM411.11,173.01A51.80,51.80 0 0 1 410.86,172.97L411.62,168.74A47.50,47.50 0 0 0 411.85,168.78ZM410.66,172.93A51.79,51.79 0 0 1 410.41,172.88L411.52,167.05A45.86,45.86 0 0 0 411.74,167.10ZM410.28,172.51A51.46,51.46 0 0 1 410.03,172.46L410.94,167.94A46.84,46.84 0 0 0 411.16,167.98ZM409.98,171.73A50.75,50.75 0 0 1 409.74,171.68L410.93,165.95A44.90,44.90 0 0 0 411.15,165.99ZM409.50,169.80A48.96,48.96 0 0 1 409.27,169.74L409.60,168.28A47.45,47.45 0 0 0 409.83,168.33ZM409.13,169.53A48.78,48.78 0 0 1 408.89,169.48L409.65,166.28A45.50,45.50 0 0 0 409.87,166.33ZM407.83,171.22A50.73,50.73 0 0 1 407.59,171.16L408.50,167.59A47.05,47.05 0 0 0 408.72,167.65ZM408.05,168.58A48.11,48.11 0 0 1 407.83,168.52L408.27,166.82A46.36,46.36 0 0 0 408.49,166.88ZM406.80,169.95A49.76,49.76 0 0 1 406.57,169.89L407.72,165.81A45.52,45.52 0 0 0 407.93,165.87ZM405.87,171.63A51.63,51.63 0 0 1 405.63,171.56L406.78,167.63A47.53,47.53 0 0 0 407.00,167.69ZM405.39,171.67A51.80,51.80 0 0 1 405.15,171.59L406.97,165.55A45.49,45.49 0 0 0 407.18,165.61ZM405.10,171.05A51.30,51.30 0 0 1 404.86,170.98L406.68,165.15A45.19,45.19 0 0 0 406.89,165.21ZM405.53,168.22A48.46,48.46 0 0 1 405.30,168.15L406.05,165.82A46.02,46.02 0 0 0 406.26,165.89ZM404.59,169.74A50.20,50.20 0 0 1 404.36,169.66L405.17,167.18A47.59,47.59 0 0 0 405.40,167.26ZM403.75,170.85A51.52,51.52 0 0 1 403.52,170.77L405.56,164.77A45.17,45.17 0 0 0 405.77,164.84ZM402.38,170.68A51.80,51.80 0 0 1 402.15,170.59L404.32,164.72A45.54,45.54 0 0 0 404.52,164.79ZM402.95,167.88A48.98,48.98 0 0 1 402.72,167.80L403.52,165.70A46.74,46.74 0 0 0 403.73,165.78ZM401.69,169.95A51.36,51.36 0 0 1 401.46,169.86L402.89,166.18A47.41,47.41 0 0 0 403.11,166.26ZM401.02,169.22A50.93,50.93 0 0 1 400.79,169.13L402.84,164.12A45.52,45.52 0 0 0 403.05,164.21ZM401.75,166.29A47.94,47.94 0 0 1 401.54,166.20L402.62,163.62A45.14,45.14 0 0 0 402.82,163.71ZM400.36,168.50A50.52,50.52 0 0 1 400.13,168.41L401.54,165.15A46.97,46.97 0 0 0 401.75,165.24ZM399.44,169.50A51.80,51.80 0 0 1 399.21,169.40L401.05,165.24A47.25,47.25 0 0 0 401.26,165.33ZM399.03,169.32A51.80,51.80 0 0 1 398.80,169.22L401.39,163.48A45.50,45.50 0 0 0 401.59,163.57ZM399.18,167.91A50.45,50.45 0 0 1 398.95,167.80L401.06,163.25A45.43,45.43 0 0 0 401.26,163.34ZM398.43,167.42A50.33,50.33 0 0 1 398.21,167.32L400.13,163.35A45.92,45.92 0 0 0 400.33,163.45ZM398.39,166.52A49.53,49.53 0 0 1 398.17,166.41L400.29,162.11A44.74,44.74 0 0 0 400.49,162.21ZM397.22,167.88A51.27,51.27 0 0 1 397.00,167.77L399.67,162.49A45.35,45.35 0 0 0 399.86,162.59ZM397.14,166.10A49.72,49.72 0 0 1 396.93,165.99L398.26,163.47A46.87,46.87 0 0 0 398.46,163.57ZM397.20,165.06A48.77,48.77 0 0 1 396.99,164.95L398.19,162.72A46.24,46.24 0 0 0 398.39,162.83ZM396.60,165.28A49.25,49.25 0 0 1 396.39,165.16L397.20,163.69A47.56,47.56 0 0 0 397.40,163.80ZM395.63,166.14A50.47,50.47 0 0 1 395.42,166.02L397.19,162.87A46.85,46.85 0 0 0 397.39,162.98ZM396.17,164.29A48.59,48.59 0 0 1 395.97,164.17L397.20,162.01A46.10,46.10 0 0 0 397.40,162.12ZM395.09,165.31A50.01,50.01 0 0 1 394.88,165.19L396.64,162.19A46.53,46.53 0 0 0 396.83,162.30ZM394.07,166.19A51.29,51.29 0 0 1 393.85,166.07L396.07,162.34A46.95,46.95 0 0 0 396.27,162.45ZM393.42,166.40A51.80,51.80 0 0 1 393.20,166.27L395.63,162.28A47.14,47.14 0 0 0 395.82,162.40ZM394.02,164.56A49.91,49.91 0 0 1 393.81,164.43L395.11,162.34A47.45,47.45 0 0 0 395.31,162.46ZM393.64,164.35A49.94,49.94 0 0 1 393.43,164.22L396.02,160.13A45.10,45.10 0 0 0 396.20,160.24ZM392.34,165.58A51.67,51.67 0 0 1 392.12,165.44L395.24,160.61A45.92,45.92 0 0 0 395.43,160.73ZM392.99,163.74A49.77,49.77 0 0 1 392.79,163.61L394.32,161.27A46.97,46.97 0 0 0 394.52,161.40ZM392.53,163.66A49.95,49.95 0 0 1 392.33,163.52L394.93,159.62A45.26,45.26 0 0 0 395.12,159.74ZM392.43,163.03A49.49,49.49 0 0 1 392.23,162.89L394.92,158.94A44.71,44.71 0 0 0 395.10,159.06ZM390.76,164.69A51.80,51.80 0 0 1 390.55,164.55L393.68,160.04A46.32,46.32 0 0 0 393.87,160.17ZM393.34,160.22A46.65,46.65 0 0 1 393.15,160.08L394.08,158.78A45.06,45.06 0 0 0 394.26,158.91ZM391.16,162.57A49.83,49.83 0 0 1 390.96,162.43L393.26,159.24A45.90,45.90 0 0 0 393.44,159.37ZM391.36,161.56A48.89,48.89 0 0 1 391.17,161.42L392.29,159.88A47.00,47.00 0 0 0 392.48,160.02ZM389.89,162.83A50.79,50.79 0 0 1 389.69,162.68L392.37,159.09A46.31,46.31 0 0 0 392.56,159.22ZM391.44,160.03A47.62,47.62 0 0 1 391.26,159.89L392.65,158.06A45.31,45.31 0 0 0 392.83,158.19ZM390.91,160.05A47.96,47.96 0 0 1 390.72,159.90L392.70,157.35A44.73,44.73 0 0 0 392.87,157.48ZM389.85,160.72A49.13,49.13 0 0 1 389.66,160.57L391.49,158.25A46.18,46.18 0 0 0 391.67,158.39ZM388.43,161.82A50.88,50.88 0 0 1 388.23,161.66L392.00,156.98A44.87,44.87 0 0 0 392.17,157.11ZM390.05,159.10A47.74,47.74 0 0 1 389.87,158.96L391.38,157.11A45.36,45.36 0 0 0 391.55,157.25ZM387.15,161.97A51.80,51.80 0 0 1 386.96,161.81L389.97,158.19A47.09,47.09 0 0 0 390.15,158.34ZM388.68,158.79A48.38,48.38 0 0 1 388.50,158.64L390.26,156.60A45.69,45.69 0 0 0 390.42,156.75ZM388.01,158.92A48.92,48.92 0 0 1 387.83,158.76L390.59,155.61A44.73,44.73 0 0 0 390.76,155.76ZM387.07,159.34A49.85,49.85 0 0 1 386.88,159.18L388.41,157.46A47.56,47.56 0 0 0 388.59,157.62ZM387.61,158.08A48.55,48.55 0 0 1 387.44,157.92L388.59,156.65A46.83,46.83 0 0 0 388.76,156.81ZM386.63,158.53A49.55,49.55 0 0 1 386.45,158.37L387.99,156.69A47.27,47.27 0 0 0 388.16,156.85ZM386.46,158.08A49.33,49.33 0 0 1 386.28,157.91L388.91,155.12A45.49,45.49 0 0 0 389.07,155.27ZM383.79,158.95A51.80,51.80 0 0 1 383.61,158.77L387.07,155.28A46.89,46.89 0 0 0 387.23,155.44ZM384.82,157.28A49.90,49.90 0 0 1 384.65,157.11L387.87,153.92A45.36,45.36 0 0 0 388.03,154.07ZM383.15,158.31A51.80,51.80 0 0 1 382.98,158.13L387.14,154.07A45.98,45.98 0 0 0 387.30,154.23ZM382.84,157.98A51.80,51.80 0 0 1 382.66,157.80L387.14,153.52A45.61,45.61 0 0 0 387.29,153.68ZM384.97,155.34A48.44,48.44 0 0 1 384.80,155.17L387.51,152.62A44.72,44.72 0 0 0 387.66,152.78ZM384.88,154.85A48.16,48.16 0 0 1 384.72,154.67L387.20,152.38A44.78,44.78 0 0 0 387.35,152.54ZM381.91,157.00A51.80,51.80 0 0 1 381.74,156.81L385.15,153.71A47.19,47.19 0 0 0 385.31,153.88ZM383.20,155.22A49.65,49.65 0 0 1 383.04,155.04L385.77,152.60A45.99,45.99 0 0 0 385.92,152.77ZM381.50,156.15A51.54,51.54 0 0 1 381.33,155.96L385.69,152.14A45.74,45.74 0 0 0 385.84,152.31ZM383.76,153.59A48.15,48.15 0 0 1 383.61,153.41L385.51,151.78A45.64,45.64 0 0 0 385.65,151.94ZM383.82,152.99A47.71,47.71 0 0 1 383.67,152.81L385.67,151.12A45.09,45.09 0 0 0 385.81,151.28ZM382.41,153.63A49.20,49.20 0 0 1 382.26,153.44L384.72,151.40A46.00,46.00 0 0 0 384.86,151.57ZM380.13,154.95A51.80,51.80 0 0 1 379.97,154.75L383.24,152.08A47.58,47.58 0 0 0 383.39,152.26ZM382.16,152.72A48.82,48.82 0 0 1 382.01,152.54L384.82,150.28A45.21,45.21 0 0 0 384.96,150.45ZM381.73,151.98A48.70,48.70 0 0 1 381.58,151.79L383.96,149.95A45.69,45.69 0 0 0 384.10,150.13ZM380.93,151.52A49.05,49.05 0 0 1 380.78,151.33L383.72,149.14A45.39,45.39 0 0 0 383.85,149.31ZM380.13,151.58A49.72,49.72 0 0 1 379.99,151.38L382.39,149.62A46.75,46.75 0 0 0 382.52,149.81ZM378.26,152.40A51.71,51.71 0 0 1 378.12,152.19L383.52,148.31A45.06,45.06 0 0 0 383.65,148.49ZM377.93,152.08A51.80,51.80 0 0 1 377.78,151.87L381.79,149.05A46.90,46.90 0 0 0 381.92,149.23ZM380.84,149.49A47.93,47.93 0 0 1 380.70,149.30L383.39,147.44A44.66,44.66 0 0 0 383.52,147.62ZM377.90,151.00A51.20,51.20 0 0 1 377.76,150.79L383.01,147.22A44.85,44.85 0 0 0 383.14,147.40ZM377.60,150.67A51.27,51.27 0 0 1 377.46,150.46L381.08,148.04A46.91,46.91 0 0 0 381.21,148.23ZM380.65,147.62A47.04,47.04 0 0 1 380.52,147.43L381.98,146.49A45.31,45.31 0 0 0 382.10,146.68ZM379.57,147.82A48.06,48.06 0 0 1 379.44,147.62L380.86,146.73A46.39,46.39 0 0 0 380.98,146.92ZM377.39,148.69A50.36,50.36 0 0 1 377.26,148.48L381.08,146.12A45.87,45.87 0 0 0 381.20,146.31ZM376.49,148.20A50.87,50.87 0 0 1 376.37,147.99L381.09,145.18A45.38,45.38 0 0 0 381.20,145.37ZM379.03,146.19A47.67,47.67 0 0 1 378.91,145.99L381.18,144.67A45.04,45.04 0 0 0 381.29,144.86ZM376.39,147.23A50.47,50.47 0 0 1 376.27,147.02L379.51,145.17A46.74,46.74 0 0 0 379.62,145.37ZM376.63,146.59A49.94,49.94 0 0 1 376.51,146.38L378.91,145.04A47.20,47.20 0 0 0 379.02,145.24ZM377.84,145.43A48.32,48.32 0 0 1 377.72,145.22L380.08,143.93A45.63,45.63 0 0 0 380.19,144.12ZM374.15,145.92A51.80,51.80 0 0 1 374.04,145.69L378.93,143.18A46.30,46.30 0 0 0 379.03,143.38ZM374.94,145.01A50.68,50.68 0 0 1 374.83,144.79L379.46,142.46A45.49,45.49 0 0 0 379.56,142.65ZM374.87,144.55A50.54,50.54 0 0 1 374.76,144.33L379.51,141.99A45.25,45.25 0 0 0 379.61,142.19ZM373.54,144.71A51.80,51.80 0 0 1 373.43,144.48L377.34,142.60A47.47,47.47 0 0 0 377.44,142.81ZM376.33,142.88A48.49,48.49 0 0 1 376.23,142.66L378.03,141.81A46.50,46.50 0 0 0 378.13,142.02ZM376.95,142.12A47.61,47.61 0 0 1 376.85,141.91L378.52,141.14A45.78,45.78 0 0 0 378.61,141.35ZM374.77,142.66A49.82,49.82 0 0 1 374.67,142.44L378.53,140.70A45.58,45.58 0 0 0 378.62,140.90ZM375.53,141.84A48.79,48.79 0 0 1 375.43,141.63L378.83,140.13A45.08,45.08 0 0 0 378.92,140.33ZM374.01,142.04A50.26,50.26 0 0 1 373.91,141.82L378.65,139.78A45.10,45.10 0 0 0 378.74,139.98ZM375.68,140.86A48.26,48.26 0 0 1 375.59,140.64L378.70,139.33A44.88,44.88 0 0 0 378.79,139.54ZM374.13,141.04A49.76,49.76 0 0 1 374.04,140.82L378.39,139.04A45.05,45.05 0 0 0 378.48,139.24ZM372.25,141.33A51.61,51.61 0 0 1 372.15,141.10L377.12,139.12A46.26,46.26 0 0 0 377.21,139.33ZM375.72,139.04A47.54,47.54 0 0 1 375.64,138.82L377.36,138.17A45.69,45.69 0 0 0 377.44,138.37ZM374.21,139.16A48.99,48.99 0 0 1 374.13,138.93L378.09,137.47A44.76,44.76 0 0 0 378.17,137.68ZM373.78,138.86A49.30,49.30 0 0 1 373.69,138.63L376.79,137.52A46.01,46.01 0 0 0 376.87,137.74ZM374.78,138.05A48.08,48.08 0 0 1 374.70,137.83L377.92,136.71A44.67,44.67 0 0 0 377.99,136.91ZM373.54,138.03A49.24,49.24 0 0 1 373.47,137.80L376.25,136.86A46.30,46.30 0 0 0 376.33,137.07ZM373.41,137.62A49.24,49.24 0 0 1 373.33,137.40L377.21,136.12A45.16,45.16 0 0 0 377.28,136.33ZM371.64,137.75A50.96,50.96 0 0 1 371.56,137.51L374.89,136.45A47.46,47.46 0 0 0 374.96,136.67ZM370.70,137.58A51.80,51.80 0 0 1 370.62,137.33L374.80,136.04A47.43,47.43 0 0 0 374.87,136.26ZM372.07,136.68A50.22,50.22 0 0 1 372.00,136.45L375.60,135.37A46.46,46.46 0 0 0 375.67,135.58ZM370.73,136.62A51.49,51.49 0 0 1 370.66,136.38L376.48,134.69A45.43,45.43 0 0 0 376.54,134.90ZM370.31,136.28A51.80,51.80 0 0 1 370.24,136.03L376.07,134.39A45.75,45.75 0 0 0 376.13,134.61ZM372.65,134.27A49.01,49.01 0 0 1 372.59,134.04L375.97,133.18A45.53,45.53 0 0 0 376.02,133.40ZM373.91,133.52A47.61,47.61 0 0 1 373.85,133.29L376.34,132.68A45.05,45.05 0 0 0 376.39,132.90ZM372.04,133.54A49.43,49.43 0 0 1 371.98,133.30L374.70,132.67A46.64,46.64 0 0 0 374.75,132.89ZM372.65,132.52A48.60,48.60 0 0 1 372.60,132.29L375.36,131.69A45.78,45.78 0 0 0 375.40,131.91ZM370.15,132.62A51.07,51.07 0 0 1 370.10,132.37L374.52,131.46A46.55,46.55 0 0 0 374.57,131.68ZM369.34,132.33A51.80,51.80 0 0 1 369.29,132.08L374.70,131.01A46.28,46.28 0 0 0 374.75,131.23ZM371.99,131.35A49.01,49.01 0 0 1 371.95,131.12L375.30,130.48A45.60,45.60 0 0 0 375.34,130.70ZM369.98,131.29A50.98,50.98 0 0 1 369.93,131.04L375.28,130.08A45.54,45.54 0 0 0 375.32,130.30ZM369.09,130.99A51.80,51.80 0 0 1 369.04,130.75L374.11,129.88A46.66,46.66 0 0 0 374.15,130.10ZM370.79,130.25A50.00,50.00 0 0 1 370.75,130.01L375.60,129.22A45.08,45.08 0 0 0 375.64,129.44ZM370.89,129.79A49.82,49.82 0 0 1 370.85,129.55L374.34,129.02A46.29,46.29 0 0 0 374.38,129.24ZM369.38,129.58A51.28,51.28 0 0 1 369.34,129.33L373.73,128.70A46.85,46.85 0 0 0 373.77,128.92ZM371.94,128.77A48.64,48.64 0 0 1 371.91,128.53L375.16,128.09A45.35,45.35 0 0 0 375.19,128.31ZM372.18,128.31A48.33,48.33 0 0 1 372.15,128.07L374.32,127.80A46.14,46.14 0 0 0 374.35,128.02ZM371.40,126.69A48.92,48.92 0 0 1 371.38,126.45L375.35,126.09A44.94,44.94 0 0 0 375.37,126.31ZM371.85,126.22A48.44,48.44 0 0 1 371.83,125.99L374.21,125.79A46.04,46.04 0 0 0 374.23,126.01ZM371.25,125.84A49.00,49.00 0 0 1 371.23,125.61L373.02,125.47A47.21,47.21 0 0 0 373.04,125.70ZM368.43,125.61A51.80,51.80 0 0 1 368.41,125.36L374.07,124.99A46.12,46.12 0 0 0 374.09,125.22ZM370.56,125.03A49.63,49.63 0 0 1 370.55,124.79L373.43,124.63A46.75,46.75 0 0 0 373.44,124.85ZM371.25,124.56A48.92,48.92 0 0 1 371.24,124.32L374.57,124.16A45.58,45.58 0 0 0 374.58,124.39ZM368.35,124.26A51.80,51.80 0 0 1 368.34,124.01L373.01,123.83A47.13,47.13 0 0 0 373.02,124.06ZM368.88,123.79A51.25,51.25 0 0 1 368.87,123.54L374.26,123.38A45.86,45.86 0 0 0 374.27,123.60ZM368.32,123.36A51.80,51.80 0 0 1 368.31,123.10L373.02,123.00A47.09,47.09 0 0 0 373.02,123.23ZM370.72,122.43A49.38,49.38 0 0 1 370.72,122.19L373.49,122.18A46.61,46.61 0 0 0 373.49,122.41ZM370.74,122.00A49.36,49.36 0 0 1 370.74,121.76L375.46,121.78A44.64,44.64 0 0 0 375.46,122.00ZM370.35,121.57A49.75,49.75 0 0 1 370.36,121.32L372.59,121.35A47.51,47.51 0 0 0 372.59,121.59ZM369.28,121.11A50.83,50.83 0 0 1 369.28,120.86L374.25,120.98A45.86,45.86 0 0 0 374.25,121.20ZM368.32,120.64A51.80,51.80 0 0 1 368.32,120.39L372.72,120.53A47.40,47.40 0 0 0 372.72,120.76ZM373.46,119.96A46.69,46.69 0 0 1 373.47,119.74L375.20,119.82A44.96,44.96 0 0 0 375.19,120.04ZM368.37,119.29A51.80,51.80 0 0 1 368.38,119.04L373.38,119.32A46.79,46.79 0 0 0 373.37,119.55ZM371.06,118.57A49.16,49.16 0 0 1 371.07,118.33L375.55,118.67A44.68,44.68 0 0 0 375.53,118.88ZM371.33,118.16A48.92,48.92 0 0 1 371.35,117.92L374.54,118.19A45.72,45.72 0 0 0 374.52,118.41ZM370.11,117.63A50.18,50.18 0 0 1 370.14,117.38L373.18,117.66A47.12,47.12 0 0 0 373.16,117.89ZM368.54,117.04A51.80,51.80 0 0 1 368.56,116.78L373.88,117.32A46.45,46.45 0 0 0 373.86,117.55ZM369.29,116.66A51.09,51.09 0 0 1 369.32,116.41L374.61,116.99A45.77,45.77 0 0 0 374.58,117.22ZM371.11,116.42A49.31,49.31 0 0 1 371.14,116.18L373.43,116.45A47.00,47.00 0 0 0 373.40,116.68ZM368.93,115.72A51.56,51.56 0 0 1 368.96,115.47L375.54,116.31A44.92,44.92 0 0 0 375.51,116.53ZM372.29,115.71A48.23,48.23 0 0 1 372.32,115.47L374.46,115.76A46.06,46.06 0 0 0 374.43,115.99ZM371.31,115.14A49.27,49.27 0 0 1 371.34,114.90L375.91,115.57A44.66,44.66 0 0 0 375.88,115.78ZM372.52,114.46A48.17,48.17 0 0 1 372.56,114.23L375.27,114.68A45.42,45.42 0 0 0 375.24,114.89ZM372.14,113.97A48.63,48.63 0 0 1 372.18,113.74L375.07,114.24A45.70,45.70 0 0 0 375.03,114.46ZM373.51,112.94A47.46,47.46 0 0 1 373.56,112.72L375.45,113.09A45.53,45.53 0 0 0 375.41,113.31ZM369.34,111.67A51.80,51.80 0 0 1 369.39,111.42L375.02,112.60A46.05,46.05 0 0 0 374.97,112.82ZM369.86,111.32A51.37,51.37 0 0 1 369.91,111.08L373.98,111.96A47.20,47.20 0 0 0 373.93,112.19ZM370.60,111.03A50.70,50.70 0 0 1 370.66,110.79L374.24,111.60A47.02,47.02 0 0 0 374.19,111.82ZM370.03,109.98A51.50,51.50 0 0 1 370.08,109.73L374.87,110.91A46.57,46.57 0 0 0 374.82,111.13ZM369.84,109.47A51.80,51.80 0 0 1 369.90,109.22L374.15,110.30A47.42,47.42 0 0 0 374.09,110.53ZM369.95,109.03A51.80,51.80 0 0 1 370.01,108.79L375.69,110.28A45.93,45.93 0 0 0 375.63,110.50ZM374.92,109.89A46.77,46.77 0 0 1 374.98,109.67L376.57,110.11A45.13,45.13 0 0 0 376.51,110.32ZM374.94,109.48A46.87,46.87 0 0 1 375.00,109.25L376.84,109.77A44.96,44.96 0 0 0 376.78,109.99ZM371.97,108.20A50.07,50.07 0 0 1 372.04,107.96L375.12,108.86A46.86,46.86 0 0 0 375.05,109.08ZM374.76,108.57A47.29,47.29 0 0 1 374.83,108.35L377.37,109.12A44.63,44.63 0 0 0 377.31,109.32ZM373.21,107.66A49.03,49.03 0 0 1 373.28,107.44L377.48,108.74A44.63,44.63 0 0 0 377.42,108.95ZM370.70,106.42A51.80,51.80 0 0 1 370.77,106.18L375.37,107.66A46.98,46.98 0 0 0 375.30,107.87ZM370.84,105.99A51.80,51.80 0 0 1 370.91,105.75L375.46,107.26A47.01,47.01 0 0 0 375.39,107.47ZM373.05,106.26A49.61,49.61 0 0 1 373.13,106.03L375.07,106.69A47.56,47.56 0 0 0 375.00,106.91ZM371.70,105.34A51.19,51.19 0 0 1 371.78,105.10L376.86,106.88A45.81,45.81 0 0 0 376.79,107.09ZM373.95,105.66A48.96,48.96 0 0 1 374.03,105.43L375.56,105.98A47.33,47.33 0 0 0 375.49,106.20ZM374.13,105.27A48.92,48.92 0 0 1 374.21,105.04L377.63,106.30A45.28,45.28 0 0 0 377.55,106.51ZM371.58,103.86A51.80,51.80 0 0 1 371.67,103.62L376.56,105.48A46.57,46.57 0 0 0 376.48,105.69ZM373.46,104.10A49.96,49.96 0 0 1 373.55,103.87L376.76,105.12A46.51,46.51 0 0 0 376.68,105.33ZM373.04,103.46A50.58,50.58 0 0 1 373.13,103.23L376.16,104.44A47.32,47.32 0 0 0 376.08,104.66ZM374.38,103.06A49.49,49.49 0 0 1 374.47,102.84L376.93,103.87A46.82,46.82 0 0 0 376.84,104.08ZM372.71,101.89A51.48,51.48 0 0 1 372.81,101.65L377.63,103.73A46.24,46.24 0 0 0 377.54,103.93ZM376.81,103.18A47.20,47.20 0 0 1 376.90,102.97L379.00,103.89A44.92,44.92 0 0 0 378.91,104.09ZM376.76,102.70A47.44,47.44 0 0 1 376.85,102.49L378.27,103.13A45.89,45.89 0 0 0 378.18,103.33ZM375.44,101.65A49.08,49.08 0 0 1 375.54,101.43L378.51,102.80A45.81,45.81 0 0 0 378.41,103.00ZM374.71,100.83A50.08,50.08 0 0 1 374.81,100.61L377.19,101.73A47.46,47.46 0 0 0 377.09,101.94ZM373.88,99.95A51.21,51.21 0 0 1 373.99,99.73L379.07,102.18A45.56,45.56 0 0 0 378.98,102.38ZM373.74,98.89A51.80,51.80 0 0 1 373.86,98.66L379.13,101.32A45.89,45.89 0 0 0 379.03,101.52ZM374.47,98.75A51.21,51.21 0 0 1 374.59,98.53L379.37,101.00A45.82,45.82 0 0 0 379.27,101.20ZM375.18,98.61A50.64,50.64 0 0 1 375.29,98.40L379.91,100.83A45.42,45.42 0 0 0 379.81,101.03ZM377.65,99.43A48.08,48.08 0 0 1 377.76,99.22L379.97,100.41A45.57,45.57 0 0 0 379.87,100.61ZM376.26,98.20A49.88,49.88 0 0 1 376.38,97.98L378.41,99.10A47.57,47.57 0 0 0 378.30,99.30ZM375.69,97.38A50.78,50.78 0 0 1 375.81,97.17L380.21,99.63A45.73,45.73 0 0 0 380.10,99.83ZM375.02,96.49A51.80,51.80 0 0 1 375.14,96.27L379.79,98.93A46.45,46.45 0 0 0 379.67,99.13ZM376.14,96.62A50.76,50.76 0 0 1 376.26,96.40L379.96,98.56A46.49,46.49 0 0 0 379.84,98.76ZM376.12,96.09A51.05,51.05 0 0 1 376.24,95.88L381.49,99.00A44.94,44.94 0 0 0 381.38,99.19ZM376.28,95.67A51.12,51.12 0 0 1 376.41,95.46L380.82,98.14A45.96,45.96 0 0 0 380.70,98.33ZM378.73,96.65A48.52,48.52 0 0 1 378.86,96.45L381.21,97.90A45.75,45.75 0 0 0 381.09,98.09ZM377.14,95.16A50.65,50.65 0 0 1 377.28,94.95L380.94,97.26A46.32,46.32 0 0 0 380.82,97.46ZM377.58,94.38A50.70,50.70 0 0 1 377.71,94.18L381.69,96.79A45.94,45.94 0 0 0 381.57,96.98ZM378.63,94.55A49.73,49.73 0 0 1 378.77,94.35L380.71,95.65A47.39,47.39 0 0 0 380.58,95.84ZM377.16,93.03A51.80,51.80 0 0 1 377.30,92.82L380.79,95.20A47.58,47.58 0 0 0 380.66,95.39ZM377.41,92.66A51.80,51.80 0 0 1 377.55,92.45L381.65,95.30A46.81,46.81 0 0 0 381.52,95.49ZM379.63,93.67A49.40,49.40 0 0 1 379.77,93.47L381.57,94.74A47.20,47.20 0 0 0 381.43,94.93ZM380.32,93.63A48.86,48.86 0 0 1 380.46,93.43L382.72,95.06A46.07,46.07 0 0 0 382.59,95.25ZM378.19,91.55A51.80,51.80 0 0 1 378.34,91.35L382.58,94.46A46.55,46.55 0 0 0 382.44,94.64ZM378.86,91.48A51.31,51.31 0 0 1 379.01,91.28L382.46,93.86A46.99,46.99 0 0 0 382.32,94.05ZM379.31,91.26A51.08,51.08 0 0 1 379.46,91.06L384.46,94.87A44.79,44.79 0 0 0 384.33,95.04ZM379.41,90.78A51.29,51.29 0 0 1 379.56,90.58L384.26,94.22A45.35,45.35 0 0 0 384.12,94.39ZM379.28,90.11A51.80,51.80 0 0 1 379.44,89.91L383.83,93.37A46.21,46.21 0 0 0 383.69,93.55ZM380.59,90.58A50.48,50.48 0 0 1 380.75,90.38L384.68,93.54A45.44,45.44 0 0 0 384.54,93.71ZM380.62,89.46A51.16,51.16 0 0 1 380.78,89.27L384.01,91.95A46.96,46.96 0 0 0 383.86,92.13ZM380.42,88.70A51.80,51.80 0 0 1 380.58,88.51L384.24,91.61A47.00,47.00 0 0 0 384.10,91.79ZM380.71,88.36A51.80,51.80 0 0 1 380.88,88.17L385.08,91.79A46.25,46.25 0 0 0 384.93,91.96ZM383.45,90.14A48.57,48.57 0 0 1 383.60,89.96L386.24,92.28A45.06,45.06 0 0 0 386.10,92.44ZM381.91,87.00A51.80,51.80 0 0 1 382.08,86.82L385.46,89.95A47.19,47.19 0 0 0 385.30,90.12ZM382.53,86.34A51.80,51.80 0 0 1 382.70,86.16L387.06,90.33A45.77,45.77 0 0 0 386.90,90.50ZM384.71,87.82A49.20,49.20 0 0 1 384.88,87.65L386.23,88.97A47.31,47.31 0 0 0 386.07,89.14ZM384.31,86.83A50.18,50.18 0 0 1 384.48,86.65L388.00,90.15A45.22,45.22 0 0 0 387.85,90.30ZM385.19,87.09A49.37,49.37 0 0 1 385.36,86.92L387.18,88.76A46.78,46.78 0 0 0 387.02,88.92ZM386.82,88.14A47.48,47.48 0 0 1 386.99,87.97L388.09,89.11A45.89,45.89 0 0 0 387.93,89.27ZM385.01,85.67A50.51,50.51 0 0 1 385.19,85.50L388.62,89.08A45.55,45.55 0 0 0 388.46,89.24ZM384.49,84.48A51.73,51.73 0 0 1 384.67,84.30L388.32,88.18A46.41,46.41 0 0 0 388.15,88.34ZM385.80,85.21A50.30,50.30 0 0 1 385.98,85.05L389.58,88.95A44.98,44.98 0 0 0 389.42,89.10ZM388.26,87.26A47.13,47.13 0 0 1 388.43,87.10L389.87,88.68A44.99,44.99 0 0 0 389.71,88.83ZM386.71,84.92A49.90,49.90 0 0 1 386.89,84.76L389.20,87.34A46.43,46.43 0 0 0 389.03,87.50ZM385.78,83.20A51.80,51.80 0 0 1 385.97,83.04L388.74,86.21A47.58,47.58 0 0 0 388.57,86.36ZM388.03,85.10A48.89,48.89 0 0 1 388.21,84.95L390.30,87.38A45.68,45.68 0 0 0 390.13,87.52ZM387.62,83.97A50.01,50.01 0 0 1 387.81,83.81L391.02,87.61A45.04,45.04 0 0 0 390.85,87.75ZM387.44,83.08A50.81,50.81 0 0 1 387.63,82.92L390.03,85.80A47.06,47.06 0 0 0 389.85,85.95ZM387.15,82.03A51.80,51.80 0 0 1 387.35,81.87L390.94,86.27A46.12,46.12 0 0 0 390.76,86.41ZM388.95,83.53A49.50,49.50 0 0 1 389.13,83.38L390.88,85.56A46.71,46.71 0 0 0 390.70,85.70ZM387.88,81.50A51.75,51.75 0 0 1 388.08,81.34L391.98,86.29A45.45,45.45 0 0 0 391.80,86.43ZM388.21,81.18A51.80,51.80 0 0 1 388.41,81.03L391.25,84.69A47.16,47.16 0 0 0 391.06,84.83ZM389.03,81.51A51.03,51.03 0 0 1 389.23,81.36L391.43,84.25A47.40,47.40 0 0 0 391.24,84.39ZM389.79,81.77A50.37,50.37 0 0 1 389.98,81.63L392.35,84.80A46.40,46.40 0 0 0 392.17,84.94ZM391.08,82.06A49.37,49.37 0 0 1 391.28,81.92L393.57,85.11A45.44,45.44 0 0 0 393.39,85.24ZM390.60,80.64A50.80,50.80 0 0 1 390.80,80.50L393.87,84.85A45.48,45.48 0 0 0 393.69,84.97ZM391.94,81.78A49.10,49.10 0 0 1 392.14,81.64L394.28,84.74A45.33,45.33 0 0 0 394.10,84.86ZM392.61,81.24A49.17,49.17 0 0 1 392.80,81.10L394.92,84.28A45.35,45.35 0 0 0 394.74,84.40ZM391.51,78.80A51.80,51.80 0 0 1 391.72,78.67L394.32,82.63A47.06,47.06 0 0 0 394.12,82.76ZM393.80,81.51A48.28,48.28 0 0 1 394.00,81.38L395.11,83.10A46.24,46.24 0 0 0 394.92,83.22ZM394.11,81.21A48.36,48.36 0 0 1 394.31,81.08L396.18,84.04A44.87,44.87 0 0 0 395.99,84.16ZM392.65,78.07A51.80,51.80 0 0 1 392.87,77.94L395.51,82.22A46.77,46.77 0 0 0 395.32,82.34ZM393.03,77.83A51.80,51.80 0 0 1 393.25,77.70L395.59,81.56A47.29,47.29 0 0 0 395.39,81.68ZM394.98,79.35A49.50,49.50 0 0 1 395.19,79.23L396.94,82.24A46.01,46.01 0 0 0 396.75,82.36ZM394.73,78.06A50.74,50.74 0 0 1 394.95,77.94L397.52,82.44A45.55,45.55 0 0 0 397.33,82.55ZM394.59,76.92A51.80,51.80 0 0 1 394.81,76.79L396.91,80.53A47.51,47.51 0 0 0 396.70,80.65ZM394.99,76.69A51.80,51.80 0 0 1 395.21,76.57L398.10,81.85A45.79,45.79 0 0 0 397.90,81.96ZM395.38,76.48A51.80,51.80 0 0 1 395.61,76.36L398.02,80.85A46.70,46.70 0 0 0 397.82,80.96ZM396.59,76.84A50.91,50.91 0 0 1 396.81,76.73L399.15,81.27A45.80,45.80 0 0 0 398.95,81.37ZM397.30,77.25A50.22,50.22 0 0 1 397.52,77.14L398.71,79.51A47.57,47.57 0 0 0 398.50,79.62ZM398.37,78.42A48.70,48.70 0 0 1 398.58,78.31L400.21,81.60A45.03,45.03 0 0 0 400.01,81.70ZM399.38,79.52A47.27,47.27 0 0 1 399.59,79.41L400.64,81.59A44.85,44.85 0 0 0 400.44,81.69ZM397.80,75.25A51.80,51.80 0 0 1 398.03,75.14L400.30,79.96A46.47,46.47 0 0 0 400.09,80.06ZM398.21,75.05A51.80,51.80 0 0 1 398.44,74.95L400.43,79.28A47.03,47.03 0 0 0 400.22,79.37ZM399.76,77.38A49.04,49.04 0 0 1 399.98,77.28L401.66,81.00A44.96,44.96 0 0 0 401.46,81.09ZM399.44,74.50A51.80,51.80 0 0 1 399.68,74.40L401.40,78.41A47.43,47.43 0 0 0 401.19,78.50ZM400.72,75.21A50.64,50.64 0 0 1 400.95,75.12L402.63,79.22A46.21,46.21 0 0 0 402.42,79.31ZM401.85,75.67A49.79,49.79 0 0 1 402.08,75.58L403.63,79.58A45.50,45.50 0 0 0 403.42,79.66ZM403.65,78.00A46.98,46.98 0 0 1 403.86,77.92L404.55,79.78A44.99,44.99 0 0 0 404.34,79.86ZM402.57,73.83A51.26,51.26 0 0 1 402.80,73.75L404.75,79.19A45.48,45.48 0 0 0 404.54,79.26ZM404.20,77.09A47.64,47.64 0 0 1 404.42,77.01L405.01,78.71A45.84,45.84 0 0 0 404.80,78.79ZM403.65,74.23A50.52,50.52 0 0 1 403.88,74.15L405.35,78.48A45.96,45.96 0 0 0 405.14,78.55ZM404.48,75.32A49.23,49.23 0 0 1 404.71,75.24L405.36,77.21A47.15,47.15 0 0 0 405.14,77.28ZM404.09,72.74A51.80,51.80 0 0 1 404.33,72.66L406.38,79.07A45.06,45.06 0 0 0 406.17,79.14ZM404.86,73.66A50.69,50.69 0 0 1 405.09,73.59L406.54,78.23A45.82,45.82 0 0 0 406.32,78.30ZM405.11,72.98A51.26,51.26 0 0 1 405.35,72.90L406.44,76.52A47.49,47.49 0 0 0 406.21,76.58ZM405.82,72.21A51.80,51.80 0 0 1 406.07,72.14L407.35,76.70A47.06,47.06 0 0 0 407.13,76.77ZM406.87,74.31A49.49,49.49 0 0 1 407.11,74.25L408.27,78.51A45.07,45.07 0 0 0 408.06,78.57ZM407.57,71.74A51.80,51.80 0 0 1 407.81,71.68L408.83,75.86A47.50,47.50 0 0 0 408.61,75.91ZM408.77,74.81A48.53,48.53 0 0 1 409.00,74.76L409.87,78.45A44.74,44.74 0 0 0 409.66,78.50ZM408.96,71.73A51.49,51.49 0 0 1 409.20,71.68L410.59,78.08A44.94,44.94 0 0 0 410.37,78.13ZM409.46,71.95A51.16,51.16 0 0 1 409.71,71.90L410.74,76.89A46.07,46.07 0 0 0 410.52,76.94ZM409.77,71.24A51.80,51.80 0 0 1 410.02,71.19L410.87,75.47A47.44,47.44 0 0 0 410.64,75.51ZM410.37,71.96A50.98,50.98 0 0 1 410.62,71.91L411.30,75.51A47.31,47.31 0 0 0 411.07,75.56ZM411.04,73.09A49.74,49.74 0 0 1 411.27,73.05L411.79,75.92A46.82,46.82 0 0 0 411.57,75.97ZM411.42,72.75A50.01,50.01 0 0 1 411.66,72.71L412.35,76.77A45.89,45.89 0 0 0 412.13,76.81ZM411.87,72.81A49.87,49.87 0 0 1 412.11,72.77L412.75,76.70A45.89,45.89 0 0 0 412.53,76.74ZM412.83,73.35A49.19,49.19 0 0 1 413.07,73.32L413.70,77.67A44.79,44.79 0 0 0 413.48,77.71ZM413.35,73.95A48.52,48.52 0 0 1 413.58,73.92L413.95,76.62A45.80,45.80 0 0 0 413.73,76.65ZM414.04,72.67A49.71,49.71 0 0 1 414.28,72.64L414.77,76.77A45.54,45.54 0 0 0 414.55,76.80ZM414.32,71.30A51.03,51.03 0 0 1 414.57,71.27L415.02,75.43A46.85,46.85 0 0 0 414.80,75.45ZM415.40,73.19A49.04,49.04 0 0 1 415.64,73.17L415.78,74.70A47.50,47.50 0 0 0 415.55,74.72ZM415.66,71.20A50.99,50.99 0 0 1 415.90,71.18L416.19,74.68A47.48,47.48 0 0 0 415.96,74.70ZM416.27,73.29A48.86,48.86 0 0 1 416.50,73.27L416.74,76.42A45.71,45.71 0 0 0 416.51,76.43ZM416.64,72.52A49.60,49.60 0 0 1 416.88,72.50L417.09,75.73A46.37,46.37 0 0 0 416.87,75.74ZM416.94,70.30A51.79,51.79 0 0 1 417.19,70.29L417.51,75.92A46.15,46.15 0 0 0 417.28,75.94ZM418.31,70.74A51.29,51.29 0 0 1 418.56,70.74L418.74,76.61A45.41,45.41 0 0 0 418.52,76.62ZM418.77,71.12A50.89,50.89 0 0 1 419.02,71.12L419.10,74.83A47.18,47.18 0 0 0 418.86,74.84ZM419.25,73.40A48.61,48.61 0 0 1 419.49,73.39L419.51,75.36A46.64,46.64 0 0 0 419.29,75.37ZM419.66,71.60A50.40,50.40 0 0 1 419.91,71.60L419.92,74.91A47.09,47.09 0 0 0 419.69,74.91Z" fill="#ffffff" fill-opacity="0.5"/>
<circle cx="420.6" cy="122.0" r="101.40" fill="none" stroke="#555" stroke-width="0.6"/>
<path d="M420.60,20.60L420.60,12.04M424.44,20.67L424.60,16.45M428.28,20.89L428.60,16.67M432.11,21.25L432.59,17.05M435.92,21.76L436.56,17.58M439.71,22.41L440.51,18.26M443.47,23.21L444.43,19.09M447.20,24.15L448.31,20.07M450.89,25.23L452.16,21.19M454.54,26.44L455.95,22.46M458.14,27.80L461.30,19.86M461.68,29.29L463.40,25.43M465.17,30.91L467.03,27.12M468.59,32.67L470.59,28.95M471.94,34.55L474.08,30.91M475.22,36.56L477.50,33.00M478.42,38.69L480.83,35.22M481.54,40.95L484.08,37.57M484.57,43.32L487.23,40.04M487.50,45.80L490.29,42.62M490.34,48.39L496.23,42.18M493.08,51.09L496.11,48.13M495.72,53.88L498.85,51.05M498.25,56.78L501.49,54.06M500.67,59.77L504.00,57.18M502.97,62.85L506.40,60.39M505.15,66.02L508.67,63.69M507.21,69.26L510.82,67.07M509.15,72.59L512.84,70.53M510.96,75.98L514.72,74.06M512.64,79.44L520.40,75.85M514.19,82.96L518.09,81.33M515.60,86.53L519.56,85.05M516.88,90.16L520.89,88.83M518.01,93.83L522.07,92.66M519.01,97.55L523.11,96.53M519.87,101.29L524.00,100.43M520.58,105.07L524.75,104.37M521.15,108.88L525.34,108.33M521.58,112.70L525.78,112.31M521.86,116.53L530.40,116.07M521.99,120.38L526.22,120.31M521.98,124.22L526.20,124.31M521.82,128.06L526.04,128.32M521.52,131.90L525.73,132.31M521.07,135.71L525.26,136.29M520.48,139.51L524.64,140.24M519.75,143.29L523.88,144.18M518.87,147.03L522.96,148.07M517.85,150.74L521.90,151.94M516.69,154.41L524.79,157.14M515.39,158.03L519.34,159.53M513.96,161.59L517.85,163.24M512.39,165.10L516.21,166.90M510.69,168.55L514.44,170.49M508.86,171.93L512.54,174.02M506.90,175.24L510.50,177.46M504.82,178.48L508.33,180.83M502.62,181.63L506.04,184.12M500.30,184.70L503.62,187.31M497.86,187.67L504.38,193.21M495.32,190.56L498.43,193.41M492.67,193.34L495.67,196.31M489.91,196.02L492.80,199.10M487.05,198.59L489.82,201.79M484.10,201.06L486.75,204.35M481.06,203.41L483.58,206.80M477.93,205.64L480.32,209.13M474.72,207.76L476.97,211.33M471.43,209.75L473.55,213.40M468.06,211.61L472.07,219.17M464.63,213.35L466.47,217.15M461.14,214.95L462.83,218.82M457.58,216.42L459.13,220.35M453.98,217.75L455.37,221.74M450.32,218.95L451.56,222.99M446.63,220.01L447.71,224.09M442.89,220.92L443.82,225.05M439.13,221.70L439.90,225.85M435.33,222.33L435.95,226.51M431.52,222.82L432.44,231.32M427.69,223.16L427.98,227.37M423.85,223.35L423.98,227.58M420.00,223.40L419.98,227.63M416.16,223.31L415.97,227.53M412.32,223.07L411.98,227.28M408.50,222.68L407.99,226.87M404.69,222.15L404.03,226.32M400.90,221.47L400.08,225.62M397.15,220.66L396.17,224.77M393.42,219.70L391.13,227.93M389.74,218.59L388.45,222.62M386.10,217.35L384.66,221.33M382.51,215.98L380.92,219.89M378.97,214.47L377.24,218.32M375.50,212.82L373.62,216.61M372.09,211.05L370.06,214.76M368.74,209.14L366.58,212.77M365.48,207.11L363.18,210.66M362.29,204.96L359.86,208.42M359.19,202.69L354.01,209.50M356.17,200.31L353.49,203.57M353.25,197.81L350.44,200.97M350.42,195.20L347.50,198.25M347.70,192.49L344.66,195.42M345.08,189.67L341.93,192.49M342.57,186.76L339.32,189.46M340.17,183.76L336.82,186.33M337.89,180.66L334.44,183.11M335.72,177.48L332.18,179.80M333.68,174.23L326.35,178.63M331.76,170.89L328.06,172.93M329.97,167.49L326.20,169.39M328.31,164.02L324.47,165.77M326.79,160.49L322.88,162.10M325.39,156.91L321.43,158.36M324.14,153.27L320.12,154.58M323.02,149.59L318.96,150.74M322.05,145.87L317.94,146.87M321.21,142.12L317.07,142.96M320.52,138.34L312.08,139.72M319.97,134.53L315.78,135.05M319.57,130.71L315.36,131.07M319.31,126.87L315.09,127.08M319.20,123.03L314.98,123.07M319.23,119.18L315.01,119.07M319.41,115.34L315.20,115.07M319.74,111.51L315.54,111.07M320.21,107.69L316.03,107.10M320.82,103.90L316.67,103.14M321.58,100.13L313.23,98.29M322.48,96.39L318.39,95.32M323.52,92.69L319.48,91.47M324.70,89.03L320.71,87.66M326.02,85.42L322.08,83.89M327.48,81.86L323.60,80.19M329.07,78.36L325.25,76.54M330.79,74.92L327.05,72.96M332.64,71.55L328.97,69.45M334.61,68.25L331.03,66.01M336.71,65.03L329.64,60.22M338.93,61.89L335.53,59.38M341.27,58.84L337.97,56.20M343.72,55.87L340.52,53.12M346.28,53.01L343.19,50.13M348.95,50.24L345.97,47.25M351.73,47.57L348.86,44.47M354.60,45.02L351.85,41.81M357.56,42.57L354.94,39.26M360.62,40.24L358.12,36.83M363.76,38.02L358.97,30.94M366.99,35.93L364.75,32.34M370.29,33.96L368.19,30.29M373.66,32.11L371.71,28.37M377.11,30.40L375.29,26.58M380.61,28.81L378.94,24.93M384.17,27.36L382.65,23.42M387.78,26.05L386.42,22.05M391.45,24.88L390.23,20.83M395.15,23.84L394.09,19.75M398.89,22.95L397.06,14.59M402.66,22.19L401.91,18.04M406.46,21.59L405.87,17.40M410.27,21.12L409.84,16.92M414.11,20.80L413.84,16.59M417.95,20.63L417.84,16.41" stroke="#444" stroke-width="0.65" fill="none"/>
<text transform="translate(418.70 8.94)" font-size="7.0" fill="#141414" stroke="#141414" stroke-width="0.15" style="font-weight:bold">0</text>
<text transform="translate(462.26 19.84) scale(0.930 1)" font-size="7.3" fill="#141414" stroke="#141414" stroke-width="0.15" style="font-weight:bold">1000</text>
<text transform="translate(499.16 40.64) scale(0.930 1)" font-size="7.3" fill="#141414" stroke="#141414" stroke-width="0.15" style="font-weight:bold">2000</text>
<text transform="translate(523.16 77.19) scale(0.930 1)" font-size="7.3" fill="#141414" stroke="#141414" stroke-width="0.15" style="font-weight:bold">3000</text>
<text transform="translate(532.96 118.89) scale(0.930 1)" font-size="7.3" fill="#141414" stroke="#141414" stroke-width="0.15" style="font-weight:bold">4000</text>
<text transform="translate(528.31 162.04) scale(0.930 1)" font-size="7.3" fill="#141414" stroke="#141414" stroke-width="0.15" style="font-weight:bold">5000</text>
<text transform="translate(500.16 202.64) scale(0.930 1)" font-size="7.3" fill="#141414" stroke="#141414" stroke-width="0.15" style="font-weight:bold">6000</text>
<text transform="translate(468.16 228.89) scale(0.930 1)" font-size="7.3" fill="#141414" stroke="#141414" stroke-width="0.15" style="font-weight:bold">7000</text>
<text transform="translate(425.26 239.64) scale(0.930 1)" font-size="7.3" fill="#141414" stroke="#141414" stroke-width="0.15" style="font-weight:bold">8000</text>
<text transform="translate(382.21 236.74) scale(0.930 1)" font-size="7.3" fill="#141414" stroke="#141414" stroke-width="0.15" style="font-weight:bold">9000</text>
<text transform="translate(335.38 218.09)" font-size="7.0" fill="#141414" stroke="#141414" stroke-width="0.15" style="font-weight:bold">10,000</text>
<text transform="translate(302.82 186.19)" font-size="7.0" fill="#141414" stroke="#141414" stroke-width="0.15" style="font-weight:bold">11,000</text>
<text transform="translate(289.38 144.89)" font-size="7.0" fill="#141414" stroke="#141414" stroke-width="0.15" style="font-weight:bold">12,000</text>
<text transform="translate(289.38 102.08)" font-size="7.0" fill="#141414" stroke="#141414" stroke-width="0.15" style="font-weight:bold">13,000</text>
<text transform="translate(304.18 62.44)" font-size="7.0" fill="#141414" stroke="#141414" stroke-width="0.15" style="font-weight:bold">14,000</text>
<text transform="translate(336.98 32.38)" font-size="7.0" fill="#141414" stroke="#141414" stroke-width="0.15" style="font-weight:bold">15,000</text>
<text transform="translate(375.38 14.04)" font-size="7.0" fill="#141414" stroke="#141414" stroke-width="0.15" style="font-weight:bold">16,000</text>
<path d="M420.60,24.52A97.48,97.48 0 0 1 423.15,24.55L422.99,30.69A91.34,91.34 0 0 0 420.60,30.66Z" fill="#0d1a78" stroke="#0d1a78" stroke-width="0.35"/>
<path d="M423.15,24.55A97.48,97.48 0 0 1 457.37,31.72L455.06,37.40A91.34,91.34 0 0 0 422.99,30.69Z" fill="#ff0000"/>
<path d="M457.89,31.93A97.48,97.48 0 0 1 460.30,32.97L457.80,38.57A91.34,91.34 0 0 0 455.54,37.60Z" fill="#0d1a78" stroke="#0d1a78" stroke-width="0.35"/>
<path d="M459.82,32.76A97.48,97.48 0 0 1 505.12,73.44L499.80,76.49A91.34,91.34 0 0 0 457.35,38.38Z" fill="#ff0000"/>
<path d="M505.12,73.44A97.48,97.48 0 0 1 506.49,75.89L501.08,78.79A91.34,91.34 0 0 0 499.80,76.49Z" fill="#0d1a78" stroke="#0d1a78" stroke-width="0.35"/>
<path d="M506.50,75.92A97.48,97.48 0 0 1 517.35,110.08L511.26,110.83A91.34,91.34 0 0 0 501.10,78.82Z" fill="#e8f000" stroke="#7a8a00" stroke-width="0.35"/>
<path d="M517.37,110.23A97.48,97.48 0 0 1 517.65,112.87L511.54,113.45A91.34,91.34 0 0 0 511.28,110.97Z" fill="#0d1a78" stroke="#0d1a78" stroke-width="0.35"/>
<path d="M511.54,113.38A91.34,91.34 0 0 1 511.74,115.83L505.71,116.24A85.31,85.31 0 0 0 505.53,113.95Z" fill="#0d1a78" stroke="#0d1a78" stroke-width="0.35"/>
<path d="M517.86,115.45A97.48,97.48 0 0 1 518.00,118.00L511.87,118.25A91.34,91.34 0 0 0 511.74,115.86Z" fill="#0d1a78" stroke="#0d1a78" stroke-width="0.35"/>
<path d="M518.00,118.00A97.48,97.48 0 0 1 512.00,155.90L506.24,153.77A91.34,91.34 0 0 0 511.87,118.25Z" fill="#e8f000" stroke="#7a8a00" stroke-width="0.35"/>
<path d="M511.98,155.94A97.48,97.48 0 0 1 511.04,158.39L505.34,156.10A91.34,91.34 0 0 0 506.23,153.80Z" fill="#0d1a78" stroke="#0d1a78" stroke-width="0.35"/>
<path d="M505.33,156.13A91.34,91.34 0 0 1 504.41,158.33L498.87,155.93A85.31,85.31 0 0 0 499.73,153.87Z" fill="#0d1a78" stroke="#0d1a78" stroke-width="0.35"/>
<path d="M504.39,158.37A91.34,91.34 0 0 1 503.36,160.67L497.89,158.12A85.31,85.31 0 0 0 498.86,155.96Z" fill="#0d1a78" stroke="#0d1a78" stroke-width="0.35"/>
<path d="M502.90,161.64A91.34,91.34 0 0 1 501.86,163.72L496.49,160.96A85.31,85.31 0 0 0 497.46,159.02Z" fill="#0d1a78" stroke="#0d1a78" stroke-width="0.35"/>
<path d="M501.86,163.72A91.34,91.34 0 0 1 500.71,165.89L495.42,162.99A85.31,85.31 0 0 0 496.49,160.96Z" fill="#0d1a78" stroke="#0d1a78" stroke-width="0.35"/>
<path d="M506.07,168.87A97.48,97.48 0 0 1 465.70,208.42L462.86,202.98A91.34,91.34 0 0 0 500.69,165.92Z" fill="#f8a2ee"/>
<path d="M462.86,202.98A91.34,91.34 0 0 1 460.67,204.09L458.02,198.66A85.31,85.31 0 0 0 460.07,197.63Z" fill="#0d1a78" stroke="#0d1a78" stroke-width="0.35"/>
<path d="M463.26,209.65A97.48,97.48 0 0 1 460.95,210.74L458.41,205.15A91.34,91.34 0 0 0 460.58,204.13Z" fill="#0d1a78" stroke="#0d1a78" stroke-width="0.35"/>
<path d="M460.52,210.93A97.48,97.48 0 0 1 436.12,218.24L435.14,212.18A91.34,91.34 0 0 0 458.00,205.34Z" fill="#f8a2ee"/>
<path d="M436.08,218.24A97.48,97.48 0 0 1 433.30,218.65L432.50,212.57A91.34,91.34 0 0 0 435.10,212.19Z" fill="#0d1a78" stroke="#0d1a78" stroke-width="0.35"/>
<path d="M433.26,218.66A97.48,97.48 0 0 1 427.08,219.27L426.67,213.14A91.34,91.34 0 0 0 432.46,212.57Z" fill="#00ee10" stroke="#009a00" stroke-width="0.35"/>
<path d="M427.45,219.24A97.48,97.48 0 0 1 402.32,217.75L403.47,211.72A91.34,91.34 0 0 0 427.02,213.12Z" fill="#00ee10" stroke="#009a00" stroke-width="0.35"/>
<path d="M402.32,217.75A97.48,97.48 0 0 1 375.07,208.20L377.94,202.77A91.34,91.34 0 0 0 403.47,211.72Z" fill="#f8a2ee"/>
<path d="M375.07,208.20A97.48,97.48 0 0 1 372.73,206.92L375.75,201.57A91.34,91.34 0 0 0 377.94,202.77Z" fill="#0d1a78" stroke="#0d1a78" stroke-width="0.35"/>
<path d="M372.73,206.92A97.48,97.48 0 0 1 361.95,199.86L365.64,194.96A91.34,91.34 0 0 0 375.75,201.57Z" fill="#e8f000" stroke="#7a8a00" stroke-width="0.35"/>
<path d="M361.95,199.86A97.48,97.48 0 0 1 359.93,198.30L363.75,193.50A91.34,91.34 0 0 0 365.64,194.96Z" fill="#0d1a78" stroke="#0d1a78" stroke-width="0.35"/>
<path d="M359.93,198.30A97.48,97.48 0 0 1 351.74,191.00L356.07,186.65A91.34,91.34 0 0 0 363.75,193.50Z" fill="#e8f000" stroke="#7a8a00" stroke-width="0.35"/>
<path d="M351.92,191.18A97.48,97.48 0 0 1 326.53,147.56L332.45,145.96A91.34,91.34 0 0 0 356.25,186.83Z" fill="#e8f000" stroke="#7a8a00" stroke-width="0.35"/>
<path d="M326.53,147.56A97.48,97.48 0 0 1 325.89,145.09L331.86,143.64A91.34,91.34 0 0 0 332.45,145.96Z" fill="#0d1a78" stroke="#0d1a78" stroke-width="0.35"/>
<path d="M325.89,145.09A97.48,97.48 0 0 1 325.33,142.65L331.33,141.35A91.34,91.34 0 0 0 331.86,143.64Z" fill="#0d1a78" stroke="#0d1a78" stroke-width="0.35"/>
<path d="M325.32,142.61A97.48,97.48 0 0 1 324.79,139.96L330.82,138.83A91.34,91.34 0 0 0 331.32,141.31Z" fill="#0d1a78" stroke="#0d1a78" stroke-width="0.35"/>
<path d="M324.79,139.96A97.48,97.48 0 0 1 335.57,74.34L340.92,77.34A91.34,91.34 0 0 0 330.82,138.83Z" fill="#e8f000" stroke="#7a8a00" stroke-width="0.35"/>
<path d="M340.85,77.46A91.34,91.34 0 0 1 351.17,62.64L355.76,66.57A85.31,85.31 0 0 0 346.12,80.40Z" fill="#e8f000" stroke="#7a8a00" stroke-width="0.35"/>
<path d="M351.17,62.64A91.34,91.34 0 0 1 352.75,60.85L357.23,64.89A85.31,85.31 0 0 0 355.76,66.57Z" fill="#0d1a78" stroke="#0d1a78" stroke-width="0.35"/>
<path d="M348.29,56.63A97.48,97.48 0 0 1 382.36,32.33L384.77,37.98A91.34,91.34 0 0 0 352.84,60.74Z" fill="#b000f0"/>
<path d="M382.36,32.33A97.48,97.48 0 0 1 384.82,31.32L387.07,37.03A91.34,91.34 0 0 0 384.77,37.98Z" fill="#0d1a78" stroke="#0d1a78" stroke-width="0.35"/>
<path d="M387.04,37.04A91.34,91.34 0 0 1 389.31,36.18L391.38,41.85A85.31,85.31 0 0 0 389.26,42.66Z" fill="#0d1a78" stroke="#0d1a78" stroke-width="0.35"/>
<circle cx="420.6" cy="122.0" r="91.34" fill="none" stroke="#2a2030" stroke-width="0.8"/>
<text transform="translate(432.42 37.46) scale(0.830 1)" font-size="7.1" fill="#c8202c" stroke="#c8202c" stroke-width="0.15" style="font-weight:bold">12S</text>
<text transform="translate(470.77 60.21) scale(0.830 1)" font-size="7.1" fill="#c8202c" stroke="#c8202c" stroke-width="0.15" style="font-weight:bold">16S</text>
<line x1="421.60" y1="30.6" x2="421.60" y2="37.2" stroke="#1b2a6a" stroke-width="0.75"/>
<text transform="translate(416.31 42.73) scale(0.830 1)" font-size="7.1" fill="#18224e" stroke="#18224e" stroke-width="0.15" style="font-weight:bold">Phe</text>
<line x1="457.60" y1="37.8" x2="453.60" y2="42.4" stroke="#1b2a6a" stroke-width="0.75"/>
<text transform="translate(446.75 46.96) scale(0.830 1)" font-size="7.1" fill="#18224e" stroke="#18224e" stroke-width="0.15" style="font-weight:bold">Val</text>
<line x1="500.60" y1="76.9" x2="493.80" y2="80.6" stroke="#1b2a6a" stroke-width="0.75"/>
<text transform="translate(483.74 84.99) scale(0.830 1)" font-size="7.1" fill="#18224e" stroke="#18224e" stroke-width="0.15" style="font-weight:bold">Leu</text>
<text transform="translate(492.77 95.48) scale(0.830 1)" font-size="7.1" fill="#ff9922" stroke="#ff9922" stroke-width="0.15" style="font-weight:bold">ND1</text>
<line x1="503.00" y1="108.4" x2="511.20" y2="111.7" stroke="#1b2a6a" stroke-width="0.75"/>
<text transform="translate(494.63 107.43) scale(0.830 1)" font-size="7.1" fill="#18224e" stroke="#18224e" stroke-width="0.15" style="font-weight:bold">Ile</text>
<line x1="498.60" y1="115.0" x2="506.00" y2="115.0" stroke="#1b2a6a" stroke-width="0.75"/>
<text transform="translate(487.71 115.88) scale(0.830 1)" font-size="7.1" fill="#18224e" stroke="#18224e" stroke-width="0.15" style="font-weight:bold">Gln</text>
<line x1="506.60" y1="122.2" x2="511.40" y2="117.6" stroke="#1b2a6a" stroke-width="0.75"/>
<text transform="translate(496.43 127.09) scale(0.830 1)" font-size="7.1" fill="#18224e" stroke="#18224e" stroke-width="0.15" style="font-weight:bold">Met</text>
<text transform="translate(496.12 137.53) scale(0.830 1)" font-size="7.1" fill="#ff9922" stroke="#ff9922" stroke-width="0.15" style="font-weight:bold">ND2</text>
<line x1="500.80" y1="146.6" x2="506.80" y2="155.0" stroke="#1b2a6a" stroke-width="0.75"/>
<text transform="translate(494.45 144.91) scale(0.830 1)" font-size="7.1" fill="#18224e" stroke="#18224e" stroke-width="0.15" style="font-weight:bold">Trp</text>
<line x1="492.60" y1="148.6" x2="500.20" y2="156.0" stroke="#1b2a6a" stroke-width="0.75"/>
<text transform="translate(484.88 148.58) scale(0.830 1)" font-size="7.1" fill="#18224e" stroke="#18224e" stroke-width="0.15" style="font-weight:bold">Ala</text>
<line x1="490.00" y1="152.6" x2="499.20" y2="157.6" stroke="#1b2a6a" stroke-width="0.75"/>
<text transform="translate(479.13 153.51) scale(0.830 1)" font-size="7.1" fill="#18224e" stroke="#18224e" stroke-width="0.15" style="font-weight:bold">Asn</text>
<line x1="487.60" y1="157.0" x2="497.60" y2="159.6" stroke="#10c4e8" stroke-width="0.75"/>
<text transform="translate(474.52 159.38) scale(0.830 1)" font-size="7.1" fill="#10c4e8" stroke="#10c4e8" stroke-width="0.15" style="font-weight:bold">OriL</text>
<line x1="489.00" y1="162.6" x2="497.60" y2="161.8" stroke="#1b2a6a" stroke-width="0.75"/>
<text transform="translate(478.76 164.23) scale(0.830 1)" font-size="7.1" fill="#18224e" stroke="#18224e" stroke-width="0.15" style="font-weight:bold">Cys</text>
<line x1="491.00" y1="167.8" x2="498.20" y2="163.6" stroke="#1b2a6a" stroke-width="0.75"/>
<text transform="translate(481.78 170.91) scale(0.830 1)" font-size="7.1" fill="#18224e" stroke="#18224e" stroke-width="0.15" style="font-weight:bold">Tyr</text>
<text transform="translate(466.79 185.36) scale(0.830 1)" font-size="7.1" fill="#ff6ae6" stroke="#ff6ae6" stroke-width="0.15" style="font-weight:bold">COX1</text>
<text transform="translate(436.54 206.16) scale(0.830 1)" font-size="7.1" fill="#ff6ae6" stroke="#ff6ae6" stroke-width="0.15" style="font-weight:bold">COX2</text>
<line x1="436.90" y1="201.6" x2="436.00" y2="211.6" stroke="#1b2a6a" stroke-width="0.75"/>
<text transform="translate(430.58 200.46) scale(0.830 1)" font-size="7.1" fill="#18224e" stroke="#18224e" stroke-width="0.15" style="font-weight:bold">Lys</text>
<line x1="427.00" y1="206.6" x2="428.60" y2="211.6" stroke="#30e030" stroke-width="0.75"/>
<text transform="translate(418.85 206.18) scale(0.830 1)" font-size="7.1" fill="#30e030" stroke="#30e030" stroke-width="0.15" style="font-weight:bold">ATP8</text>
<text transform="translate(407.15 211.16) scale(0.830 1)" font-size="7.1" fill="#30e030" stroke="#30e030" stroke-width="0.15" style="font-weight:bold">ATP6</text>
<text transform="translate(385.44 204.96) scale(0.830 1)" font-size="7.1" fill="#ff6ae6" stroke="#ff6ae6" stroke-width="0.15" style="font-weight:bold">COX3</text>
<line x1="380.00" y1="195.6" x2="375.60" y2="201.6" stroke="#1b2a6a" stroke-width="0.75"/>
<text transform="translate(379.32 194.20) scale(0.830 1)" font-size="7.1" fill="#18224e" stroke="#18224e" stroke-width="0.15" style="font-weight:bold">Gly</text>
<line x1="370.40" y1="194.2" x2="368.60" y2="198.4" stroke="#ff9922" stroke-width="0.75"/>
<text transform="rotate(34 373.45 192.55) translate(367.72 194.86) scale(0.830 1)" font-size="7.1" fill="#ff9922" stroke="#ff9922" stroke-width="0.15" style="font-weight:bold">ND3</text>
<line x1="366.20" y1="188.2" x2="363.20" y2="193.2" stroke="#1b2a6a" stroke-width="0.75"/>
<text transform="translate(364.74 187.16) scale(0.830 1)" font-size="7.1" fill="#18224e" stroke="#18224e" stroke-width="0.15" style="font-weight:bold">Arg</text>
<line x1="361.40" y1="181.4" x2="359.40" y2="187.4" stroke="#ff9922" stroke-width="0.75"/>
<text transform="translate(354.56 180.48) scale(0.830 1)" font-size="7.1" fill="#ff9922" stroke="#ff9922" stroke-width="0.15" style="font-weight:bold">ND4L</text>
<text transform="translate(343.22 167.53) scale(0.830 1)" font-size="7.1" fill="#ff9922" stroke="#ff9922" stroke-width="0.15" style="font-weight:bold">ND4</text>
<line x1="332.20" y1="145.6" x2="340.80" y2="145.6" stroke="#1b2a6a" stroke-width="0.75"/>
<text transform="translate(341.64 147.68) scale(0.830 1)" font-size="7.1" fill="#18224e" stroke="#18224e" stroke-width="0.15" style="font-weight:bold">His</text>
<line x1="332.20" y1="142.0" x2="338.20" y2="139.2" stroke="#1b2a6a" stroke-width="0.75"/>
<text transform="translate(338.89 141.21) scale(0.830 1)" font-size="7.1" fill="#18224e" stroke="#18224e" stroke-width="0.15" style="font-weight:bold">Ser</text>
<line x1="331.60" y1="139.8" x2="337.40" y2="134.8" stroke="#1b2a6a" stroke-width="0.75"/>
<text transform="translate(337.04 134.94) scale(0.830 1)" font-size="7.1" fill="#18224e" stroke="#18224e" stroke-width="0.15" style="font-weight:bold">Leu</text>
<text transform="translate(332.42 110.49) scale(0.830 1)" font-size="7.1" fill="#ff9922" stroke="#ff9922" stroke-width="0.15" style="font-weight:bold">ND5</text>
<text transform="translate(351.47 77.96) scale(0.830 1)" font-size="7.1" fill="#ff9922" stroke="#ff9922" stroke-width="0.15" style="font-weight:bold">ND6</text>
<line x1="355.80" y1="63.6" x2="361.00" y2="67.6" stroke="#1b2a6a" stroke-width="0.75"/>
<text transform="translate(360.81 71.78) scale(0.830 1)" font-size="7.1" fill="#18224e" stroke="#18224e" stroke-width="0.15" style="font-weight:bold">Glu</text>
<text transform="translate(362.43 56.00) scale(0.830 1)" font-size="7.1" fill="#a020f0" stroke="#a020f0" stroke-width="0.15" style="font-weight:bold">Cytb</text>
<line x1="384.60" y1="36.6" x2="384.00" y2="43.6" stroke="#1b2a6a" stroke-width="0.75"/>
<text transform="translate(379.34 48.97) scale(0.830 1)" font-size="7.1" fill="#18224e" stroke="#18224e" stroke-width="0.15" style="font-weight:bold">Thr</text>
<line x1="388.80" y1="39.6" x2="393.20" y2="49.0" stroke="#1b2a6a" stroke-width="0.75"/>
<text transform="translate(390.53 53.44) scale(0.830 1)" font-size="7.1" fill="#18224e" stroke="#18224e" stroke-width="0.15" style="font-weight:bold">Pro</text>
<text transform="rotate(-7 404.40 36.70) translate(395.62 38.19) scale(0.980 1)" font-size="6.2" fill="#10c4e8" stroke="#10c4e8" stroke-width="0.15" style="font-weight:bold">D-loop</text>
<line x1="459.30" y1="193.6" x2="459.60" y2="199.0" stroke="#1b2a6a" stroke-width="0.75"/>
<text transform="translate(457.79 193.16) scale(0.830 1)" font-size="7.1" fill="#18224e" stroke="#18224e" stroke-width="0.15" style="font-weight:bold">Ser</text>
<line x1="456.60" y1="199.2" x2="460.20" y2="203.6" stroke="#1b2a6a" stroke-width="0.75"/>
<text transform="translate(446.03 198.53) scale(0.830 1)" font-size="7.1" fill="#18224e" stroke="#18224e" stroke-width="0.15" style="font-weight:bold">Asp</text>
<text x="379.34" y="113.6" font-size="7.3" letter-spacing="-0.039" fill="#0a0a0a" stroke="#0a0a0a" stroke-width="0.25" style="font-weight:bold;font-style:italic">Paramisgurnus dabryanus</text>
<text transform="translate(376.30 127.2) scale(1.044 1)" font-size="6.7" fill="#1a1a1a" stroke="#1a1a1a" stroke-width="0.28">Mitochondrial</text>
<text transform="translate(419.60 127.2) scale(0.946 1)" font-size="6.7" fill="#1a1a1a" stroke="#1a1a1a" stroke-width="0.28">type</text>
<text transform="translate(432.40 127.2) scale(0.750 1)" font-size="6.7" fill="#8a8a8a" stroke="#8a8a8a" stroke-width="0.28">II</text>
<text transform="translate(437.40 127.2) scale(1.024 1)" font-size="6.7" fill="#1a1a1a" stroke="#1a1a1a" stroke-width="0.28">Genomes</text>
<text transform="translate(407.23 137.13) scale(0.930 1)" font-size="7.0" fill="#1a1a1a" stroke="#1a1a1a" stroke-width="0.28">16,646 bp</text>
</svg>
</body></html>
